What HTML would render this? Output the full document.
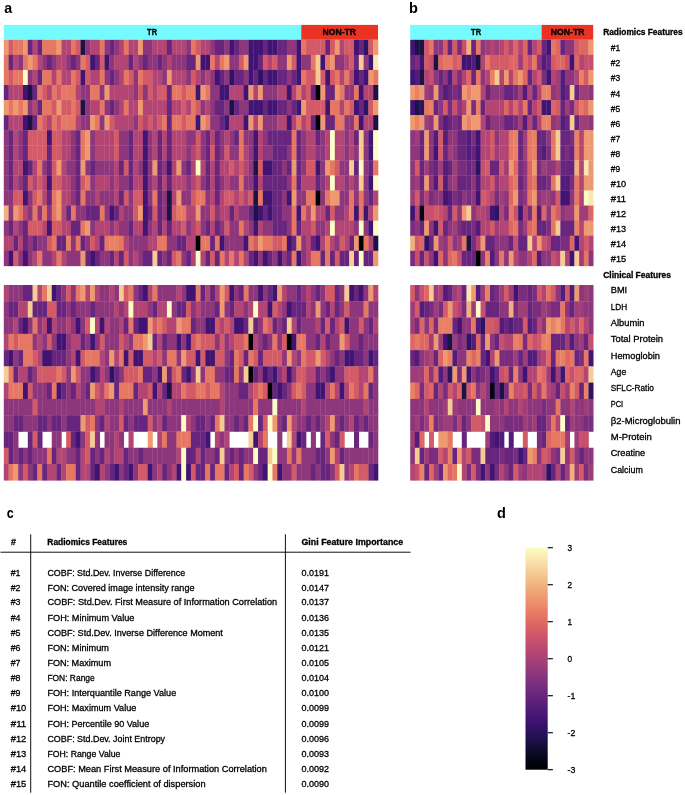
<!DOCTYPE html>
<html lang="en"><head><meta charset="utf-8"><title>Figure</title>
<style>
html,body{margin:0;padding:0;background:#fff;}
body{width:685px;height:795px;overflow:hidden;}
svg{display:block;}
svg text{font-family:"Liberation Sans",sans-serif;fill:#000;stroke:#000;stroke-width:0.3px;}
svg text.pl{stroke:none;}
</style></head><body>
<svg width="685" height="795" viewBox="0 0 685 795">
<rect width="685" height="795" fill="#fff"/>
<g id="heatmaps">
<rect x="3.8" y="24.9" width="297.44" height="14.9" fill="#75fbfd"/>
<rect x="301.24" y="24.9" width="76.76" height="14.9" fill="#ea3323"/>
<rect x="410.2" y="24.9" width="131.38" height="14.9" fill="#75fbfd"/>
<rect x="541.58" y="24.9" width="51.62" height="14.9" fill="#ea3323"/>
<g transform="translate(0 39.8)">
<rect x="3.8" width="5.1" height="15.37" fill="#ef9970"/>
<rect x="8.6" width="5.1" height="15.37" fill="#d35a67"/>
<rect x="13.39" width="5.1" height="15.37" fill="#e67863"/>
<rect x="18.19" width="5.1" height="15.37" fill="#e67863"/>
<rect x="22.99" width="5.1" height="15.37" fill="#ef9970"/>
<rect x="27.79" width="5.1" height="15.37" fill="#67257d"/>
<rect x="32.58" width="5.1" height="15.37" fill="#b34574"/>
<rect x="37.38" width="5.1" height="15.37" fill="#67257d"/>
<rect x="42.18" width="5.1" height="15.37" fill="#e67863"/>
<rect x="46.98" width="5.1" height="15.37" fill="#e67863"/>
<rect x="51.77" width="5.1" height="15.37" fill="#e67863"/>
<rect x="56.57" width="5.1" height="15.37" fill="#ef9970"/>
<rect x="61.37" width="5.1" height="15.37" fill="#b34574"/>
<rect x="66.17" width="5.1" height="15.37" fill="#b34574"/>
<rect x="70.96" width="5.1" height="15.37" fill="#e67863"/>
<rect x="75.76" width="5.1" height="15.37" fill="#d35a67"/>
<rect x="80.56" width="5.1" height="15.37" fill="#1c1246"/>
<rect x="85.36" width="5.1" height="15.37" fill="#8d367c"/>
<rect x="90.15" width="5.1" height="15.37" fill="#b34574"/>
<rect x="94.95" width="5.1" height="15.37" fill="#b34574"/>
<rect x="99.75" width="5.1" height="15.37" fill="#e67863"/>
<rect x="104.55" width="5.1" height="15.37" fill="#8d367c"/>
<rect x="109.34" width="5.1" height="15.37" fill="#67257d"/>
<rect x="114.14" width="5.1" height="15.37" fill="#8d367c"/>
<rect x="118.94" width="5.1" height="15.37" fill="#b34574"/>
<rect x="123.74" width="5.1" height="15.37" fill="#e67863"/>
<rect x="128.53" width="5.1" height="15.37" fill="#b34574"/>
<rect x="133.33" width="5.1" height="15.37" fill="#b34574"/>
<rect x="138.13" width="5.1" height="15.37" fill="#ef9970"/>
<rect x="142.93" width="5.1" height="15.37" fill="#8d367c"/>
<rect x="147.72" width="5.1" height="15.37" fill="#8d367c"/>
<rect x="152.52" width="5.1" height="15.37" fill="#b34574"/>
<rect x="157.32" width="5.1" height="15.37" fill="#b34574"/>
<rect x="162.12" width="5.1" height="15.37" fill="#b34574"/>
<rect x="166.91" width="5.1" height="15.37" fill="#67257d"/>
<rect x="171.71" width="5.1" height="15.37" fill="#b34574"/>
<rect x="176.51" width="5.1" height="15.37" fill="#b34574"/>
<rect x="181.31" width="5.1" height="15.37" fill="#b34574"/>
<rect x="186.1" width="5.1" height="15.37" fill="#8d367c"/>
<rect x="190.9" width="5.1" height="15.37" fill="#e67863"/>
<rect x="195.7" width="5.1" height="15.37" fill="#d35a67"/>
<rect x="200.49" width="5.1" height="15.37" fill="#b34574"/>
<rect x="205.29" width="5.1" height="15.37" fill="#b34574"/>
<rect x="210.09" width="5.1" height="15.37" fill="#8d367c"/>
<rect x="214.89" width="5.1" height="15.37" fill="#67257d"/>
<rect x="219.68" width="5.1" height="15.37" fill="#67257d"/>
<rect x="224.48" width="5.1" height="15.37" fill="#8d367c"/>
<rect x="229.28" width="5.1" height="15.37" fill="#411473"/>
<rect x="234.08" width="5.1" height="15.37" fill="#67257d"/>
<rect x="238.87" width="5.1" height="15.37" fill="#8d367c"/>
<rect x="243.67" width="5.1" height="15.37" fill="#8d367c"/>
<rect x="248.47" width="5.1" height="15.37" fill="#411473"/>
<rect x="253.27" width="5.1" height="15.37" fill="#411473"/>
<rect x="258.06" width="5.1" height="15.37" fill="#411473"/>
<rect x="262.86" width="5.1" height="15.37" fill="#67257d"/>
<rect x="267.66" width="5.1" height="15.37" fill="#411473"/>
<rect x="272.46" width="5.1" height="15.37" fill="#411473"/>
<rect x="277.25" width="5.1" height="15.37" fill="#67257d"/>
<rect x="282.05" width="5.1" height="15.37" fill="#67257d"/>
<rect x="286.85" width="5.1" height="15.37" fill="#8d367c"/>
<rect x="291.65" width="5.1" height="15.37" fill="#8d367c"/>
<rect x="296.44" width="5.1" height="15.37" fill="#411473"/>
<rect x="301.24" width="5.1" height="15.37" fill="#e67863"/>
<rect x="306.04" width="5.1" height="15.37" fill="#d35a67"/>
<rect x="310.84" width="5.1" height="15.37" fill="#d35a67"/>
<rect x="315.63" width="5.1" height="15.37" fill="#d35a67"/>
<rect x="320.43" width="5.1" height="15.37" fill="#d35a67"/>
<rect x="325.23" width="5.1" height="15.37" fill="#67257d"/>
<rect x="330.03" width="5.1" height="15.37" fill="#d35a67"/>
<rect x="334.82" width="5.1" height="15.37" fill="#ef9970"/>
<rect x="339.62" width="5.1" height="15.37" fill="#b34574"/>
<rect x="344.42" width="5.1" height="15.37" fill="#d35a67"/>
<rect x="349.22" width="5.1" height="15.37" fill="#d35a67"/>
<rect x="354.01" width="5.1" height="15.37" fill="#411473"/>
<rect x="358.81" width="5.1" height="15.37" fill="#67257d"/>
<rect x="363.61" width="5.1" height="15.37" fill="#2e1263"/>
<rect x="368.41" width="5.1" height="15.37" fill="#d35a67"/>
<rect x="373.2" width="5.1" height="15.37" fill="#ef9970"/>
</g>
<g transform="translate(0 54.87)">
<rect x="3.8" width="5.1" height="15.37" fill="#e67863"/>
<rect x="8.6" width="5.1" height="15.37" fill="#67257d"/>
<rect x="13.39" width="5.1" height="15.37" fill="#b34574"/>
<rect x="18.19" width="5.1" height="15.37" fill="#8d367c"/>
<rect x="22.99" width="5.1" height="15.37" fill="#e67863"/>
<rect x="27.79" width="5.1" height="15.37" fill="#ef9970"/>
<rect x="32.58" width="5.1" height="15.37" fill="#e67863"/>
<rect x="37.38" width="5.1" height="15.37" fill="#b34574"/>
<rect x="42.18" width="5.1" height="15.37" fill="#8d367c"/>
<rect x="46.98" width="5.1" height="15.37" fill="#67257d"/>
<rect x="51.77" width="5.1" height="15.37" fill="#8d367c"/>
<rect x="56.57" width="5.1" height="15.37" fill="#b34574"/>
<rect x="61.37" width="5.1" height="15.37" fill="#b34574"/>
<rect x="66.17" width="5.1" height="15.37" fill="#8d367c"/>
<rect x="70.96" width="5.1" height="15.37" fill="#67257d"/>
<rect x="75.76" width="5.1" height="15.37" fill="#8d367c"/>
<rect x="80.56" width="5.1" height="15.37" fill="#e67863"/>
<rect x="85.36" width="5.1" height="15.37" fill="#d35a67"/>
<rect x="90.15" width="5.1" height="15.37" fill="#411473"/>
<rect x="94.95" width="5.1" height="15.37" fill="#67257d"/>
<rect x="99.75" width="5.1" height="15.37" fill="#d35a67"/>
<rect x="104.55" width="5.1" height="15.37" fill="#411473"/>
<rect x="109.34" width="5.1" height="15.37" fill="#8d367c"/>
<rect x="114.14" width="5.1" height="15.37" fill="#b34574"/>
<rect x="118.94" width="5.1" height="15.37" fill="#b34574"/>
<rect x="123.74" width="5.1" height="15.37" fill="#b34574"/>
<rect x="128.53" width="5.1" height="15.37" fill="#67257d"/>
<rect x="133.33" width="5.1" height="15.37" fill="#b34574"/>
<rect x="138.13" width="5.1" height="15.37" fill="#8d367c"/>
<rect x="142.93" width="5.1" height="15.37" fill="#67257d"/>
<rect x="147.72" width="5.1" height="15.37" fill="#8d367c"/>
<rect x="152.52" width="5.1" height="15.37" fill="#8d367c"/>
<rect x="157.32" width="5.1" height="15.37" fill="#67257d"/>
<rect x="162.12" width="5.1" height="15.37" fill="#8d367c"/>
<rect x="166.91" width="5.1" height="15.37" fill="#b34574"/>
<rect x="171.71" width="5.1" height="15.37" fill="#8d367c"/>
<rect x="176.51" width="5.1" height="15.37" fill="#8d367c"/>
<rect x="181.31" width="5.1" height="15.37" fill="#8d367c"/>
<rect x="186.1" width="5.1" height="15.37" fill="#67257d"/>
<rect x="190.9" width="5.1" height="15.37" fill="#67257d"/>
<rect x="195.7" width="5.1" height="15.37" fill="#ef9970"/>
<rect x="200.49" width="5.1" height="15.37" fill="#411473"/>
<rect x="205.29" width="5.1" height="15.37" fill="#411473"/>
<rect x="210.09" width="5.1" height="15.37" fill="#e67863"/>
<rect x="214.89" width="5.1" height="15.37" fill="#b34574"/>
<rect x="219.68" width="5.1" height="15.37" fill="#e67863"/>
<rect x="224.48" width="5.1" height="15.37" fill="#ef9970"/>
<rect x="229.28" width="5.1" height="15.37" fill="#8d367c"/>
<rect x="234.08" width="5.1" height="15.37" fill="#8d367c"/>
<rect x="238.87" width="5.1" height="15.37" fill="#d35a67"/>
<rect x="243.67" width="5.1" height="15.37" fill="#ef9970"/>
<rect x="248.47" width="5.1" height="15.37" fill="#411473"/>
<rect x="253.27" width="5.1" height="15.37" fill="#411473"/>
<rect x="258.06" width="5.1" height="15.37" fill="#67257d"/>
<rect x="262.86" width="5.1" height="15.37" fill="#d35a67"/>
<rect x="267.66" width="5.1" height="15.37" fill="#b34574"/>
<rect x="272.46" width="5.1" height="15.37" fill="#d35a67"/>
<rect x="277.25" width="5.1" height="15.37" fill="#8d367c"/>
<rect x="282.05" width="5.1" height="15.37" fill="#8d367c"/>
<rect x="286.85" width="5.1" height="15.37" fill="#ef9970"/>
<rect x="291.65" width="5.1" height="15.37" fill="#d35a67"/>
<rect x="296.44" width="5.1" height="15.37" fill="#411473"/>
<rect x="301.24" width="5.1" height="15.37" fill="#8d367c"/>
<rect x="306.04" width="5.1" height="15.37" fill="#8d367c"/>
<rect x="310.84" width="5.1" height="15.37" fill="#e67863"/>
<rect x="315.63" width="5.1" height="15.37" fill="#f6cc95"/>
<rect x="320.43" width="5.1" height="15.37" fill="#411473"/>
<rect x="325.23" width="5.1" height="15.37" fill="#e67863"/>
<rect x="330.03" width="5.1" height="15.37" fill="#ef9970"/>
<rect x="334.82" width="5.1" height="15.37" fill="#8d367c"/>
<rect x="339.62" width="5.1" height="15.37" fill="#8d367c"/>
<rect x="344.42" width="5.1" height="15.37" fill="#b34574"/>
<rect x="349.22" width="5.1" height="15.37" fill="#d35a67"/>
<rect x="354.01" width="5.1" height="15.37" fill="#67257d"/>
<rect x="358.81" width="5.1" height="15.37" fill="#f6cc95"/>
<rect x="363.61" width="5.1" height="15.37" fill="#8d367c"/>
<rect x="368.41" width="5.1" height="15.37" fill="#411473"/>
<rect x="373.2" width="5.1" height="15.37" fill="#f9e8b0"/>
</g>
<g transform="translate(0 69.94)">
<rect x="3.8" width="5.1" height="15.37" fill="#e67863"/>
<rect x="8.6" width="5.1" height="15.37" fill="#d35a67"/>
<rect x="13.39" width="5.1" height="15.37" fill="#e67863"/>
<rect x="18.19" width="5.1" height="15.37" fill="#e67863"/>
<rect x="22.99" width="5.1" height="15.37" fill="#fcfdc6"/>
<rect x="27.79" width="5.1" height="15.37" fill="#8d367c"/>
<rect x="32.58" width="5.1" height="15.37" fill="#b34574"/>
<rect x="37.38" width="5.1" height="15.37" fill="#67257d"/>
<rect x="42.18" width="5.1" height="15.37" fill="#e67863"/>
<rect x="46.98" width="5.1" height="15.37" fill="#e67863"/>
<rect x="51.77" width="5.1" height="15.37" fill="#b34574"/>
<rect x="56.57" width="5.1" height="15.37" fill="#e67863"/>
<rect x="61.37" width="5.1" height="15.37" fill="#b34574"/>
<rect x="66.17" width="5.1" height="15.37" fill="#b34574"/>
<rect x="70.96" width="5.1" height="15.37" fill="#e67863"/>
<rect x="75.76" width="5.1" height="15.37" fill="#d35a67"/>
<rect x="80.56" width="5.1" height="15.37" fill="#411473"/>
<rect x="85.36" width="5.1" height="15.37" fill="#d35a67"/>
<rect x="90.15" width="5.1" height="15.37" fill="#b34574"/>
<rect x="94.95" width="5.1" height="15.37" fill="#b34574"/>
<rect x="99.75" width="5.1" height="15.37" fill="#e67863"/>
<rect x="104.55" width="5.1" height="15.37" fill="#8d367c"/>
<rect x="109.34" width="5.1" height="15.37" fill="#67257d"/>
<rect x="114.14" width="5.1" height="15.37" fill="#8d367c"/>
<rect x="118.94" width="5.1" height="15.37" fill="#b34574"/>
<rect x="123.74" width="5.1" height="15.37" fill="#e67863"/>
<rect x="128.53" width="5.1" height="15.37" fill="#d35a67"/>
<rect x="133.33" width="5.1" height="15.37" fill="#8d367c"/>
<rect x="138.13" width="5.1" height="15.37" fill="#e67863"/>
<rect x="142.93" width="5.1" height="15.37" fill="#d35a67"/>
<rect x="147.72" width="5.1" height="15.37" fill="#d35a67"/>
<rect x="152.52" width="5.1" height="15.37" fill="#b34574"/>
<rect x="157.32" width="5.1" height="15.37" fill="#b34574"/>
<rect x="162.12" width="5.1" height="15.37" fill="#8d367c"/>
<rect x="166.91" width="5.1" height="15.37" fill="#ef9970"/>
<rect x="171.71" width="5.1" height="15.37" fill="#b34574"/>
<rect x="176.51" width="5.1" height="15.37" fill="#b34574"/>
<rect x="181.31" width="5.1" height="15.37" fill="#b34574"/>
<rect x="186.1" width="5.1" height="15.37" fill="#8d367c"/>
<rect x="190.9" width="5.1" height="15.37" fill="#d35a67"/>
<rect x="195.7" width="5.1" height="15.37" fill="#b34574"/>
<rect x="200.49" width="5.1" height="15.37" fill="#8d367c"/>
<rect x="205.29" width="5.1" height="15.37" fill="#b34574"/>
<rect x="210.09" width="5.1" height="15.37" fill="#8d367c"/>
<rect x="214.89" width="5.1" height="15.37" fill="#411473"/>
<rect x="219.68" width="5.1" height="15.37" fill="#67257d"/>
<rect x="224.48" width="5.1" height="15.37" fill="#8d367c"/>
<rect x="229.28" width="5.1" height="15.37" fill="#2e1263"/>
<rect x="234.08" width="5.1" height="15.37" fill="#67257d"/>
<rect x="238.87" width="5.1" height="15.37" fill="#67257d"/>
<rect x="243.67" width="5.1" height="15.37" fill="#8d367c"/>
<rect x="248.47" width="5.1" height="15.37" fill="#411473"/>
<rect x="253.27" width="5.1" height="15.37" fill="#67257d"/>
<rect x="258.06" width="5.1" height="15.37" fill="#2e1263"/>
<rect x="262.86" width="5.1" height="15.37" fill="#67257d"/>
<rect x="267.66" width="5.1" height="15.37" fill="#411473"/>
<rect x="272.46" width="5.1" height="15.37" fill="#411473"/>
<rect x="277.25" width="5.1" height="15.37" fill="#67257d"/>
<rect x="282.05" width="5.1" height="15.37" fill="#67257d"/>
<rect x="286.85" width="5.1" height="15.37" fill="#8d367c"/>
<rect x="291.65" width="5.1" height="15.37" fill="#67257d"/>
<rect x="296.44" width="5.1" height="15.37" fill="#411473"/>
<rect x="301.24" width="5.1" height="15.37" fill="#e67863"/>
<rect x="306.04" width="5.1" height="15.37" fill="#d35a67"/>
<rect x="310.84" width="5.1" height="15.37" fill="#d35a67"/>
<rect x="315.63" width="5.1" height="15.37" fill="#f6cc95"/>
<rect x="320.43" width="5.1" height="15.37" fill="#d35a67"/>
<rect x="325.23" width="5.1" height="15.37" fill="#411473"/>
<rect x="330.03" width="5.1" height="15.37" fill="#d35a67"/>
<rect x="334.82" width="5.1" height="15.37" fill="#e67863"/>
<rect x="339.62" width="5.1" height="15.37" fill="#b34574"/>
<rect x="344.42" width="5.1" height="15.37" fill="#e67863"/>
<rect x="349.22" width="5.1" height="15.37" fill="#b34574"/>
<rect x="354.01" width="5.1" height="15.37" fill="#411473"/>
<rect x="358.81" width="5.1" height="15.37" fill="#67257d"/>
<rect x="363.61" width="5.1" height="15.37" fill="#411473"/>
<rect x="368.41" width="5.1" height="15.37" fill="#ef9970"/>
<rect x="373.2" width="5.1" height="15.37" fill="#e67863"/>
</g>
<g transform="translate(0 85.01)">
<rect x="3.8" width="5.1" height="15.37" fill="#67257d"/>
<rect x="8.6" width="5.1" height="15.37" fill="#b34574"/>
<rect x="13.39" width="5.1" height="15.37" fill="#b34574"/>
<rect x="18.19" width="5.1" height="15.37" fill="#b34574"/>
<rect x="22.99" width="5.1" height="15.37" fill="#411473"/>
<rect x="27.79" width="5.1" height="15.37" fill="#1c1246"/>
<rect x="32.58" width="5.1" height="15.37" fill="#67257d"/>
<rect x="37.38" width="5.1" height="15.37" fill="#e67863"/>
<rect x="42.18" width="5.1" height="15.37" fill="#d35a67"/>
<rect x="46.98" width="5.1" height="15.37" fill="#b34574"/>
<rect x="51.77" width="5.1" height="15.37" fill="#e67863"/>
<rect x="56.57" width="5.1" height="15.37" fill="#d35a67"/>
<rect x="61.37" width="5.1" height="15.37" fill="#e67863"/>
<rect x="66.17" width="5.1" height="15.37" fill="#e67863"/>
<rect x="70.96" width="5.1" height="15.37" fill="#e67863"/>
<rect x="75.76" width="5.1" height="15.37" fill="#b34574"/>
<rect x="80.56" width="5.1" height="15.37" fill="#8d367c"/>
<rect x="85.36" width="5.1" height="15.37" fill="#8d367c"/>
<rect x="90.15" width="5.1" height="15.37" fill="#e67863"/>
<rect x="94.95" width="5.1" height="15.37" fill="#e67863"/>
<rect x="99.75" width="5.1" height="15.37" fill="#8d367c"/>
<rect x="104.55" width="5.1" height="15.37" fill="#ef9970"/>
<rect x="109.34" width="5.1" height="15.37" fill="#b34574"/>
<rect x="114.14" width="5.1" height="15.37" fill="#b34574"/>
<rect x="118.94" width="5.1" height="15.37" fill="#b34574"/>
<rect x="123.74" width="5.1" height="15.37" fill="#b34574"/>
<rect x="128.53" width="5.1" height="15.37" fill="#b34574"/>
<rect x="133.33" width="5.1" height="15.37" fill="#8d367c"/>
<rect x="138.13" width="5.1" height="15.37" fill="#d35a67"/>
<rect x="142.93" width="5.1" height="15.37" fill="#8d367c"/>
<rect x="147.72" width="5.1" height="15.37" fill="#d35a67"/>
<rect x="152.52" width="5.1" height="15.37" fill="#b34574"/>
<rect x="157.32" width="5.1" height="15.37" fill="#d35a67"/>
<rect x="162.12" width="5.1" height="15.37" fill="#d35a67"/>
<rect x="166.91" width="5.1" height="15.37" fill="#67257d"/>
<rect x="171.71" width="5.1" height="15.37" fill="#e67863"/>
<rect x="176.51" width="5.1" height="15.37" fill="#e67863"/>
<rect x="181.31" width="5.1" height="15.37" fill="#d35a67"/>
<rect x="186.1" width="5.1" height="15.37" fill="#e67863"/>
<rect x="190.9" width="5.1" height="15.37" fill="#e67863"/>
<rect x="195.7" width="5.1" height="15.37" fill="#411473"/>
<rect x="200.49" width="5.1" height="15.37" fill="#ef9970"/>
<rect x="205.29" width="5.1" height="15.37" fill="#e67863"/>
<rect x="210.09" width="5.1" height="15.37" fill="#8d367c"/>
<rect x="214.89" width="5.1" height="15.37" fill="#8d367c"/>
<rect x="219.68" width="5.1" height="15.37" fill="#411473"/>
<rect x="224.48" width="5.1" height="15.37" fill="#411473"/>
<rect x="229.28" width="5.1" height="15.37" fill="#b34574"/>
<rect x="234.08" width="5.1" height="15.37" fill="#b34574"/>
<rect x="238.87" width="5.1" height="15.37" fill="#b34574"/>
<rect x="243.67" width="5.1" height="15.37" fill="#411473"/>
<rect x="248.47" width="5.1" height="15.37" fill="#ef9970"/>
<rect x="253.27" width="5.1" height="15.37" fill="#b34574"/>
<rect x="258.06" width="5.1" height="15.37" fill="#ef9970"/>
<rect x="262.86" width="5.1" height="15.37" fill="#8d367c"/>
<rect x="267.66" width="5.1" height="15.37" fill="#8d367c"/>
<rect x="272.46" width="5.1" height="15.37" fill="#8d367c"/>
<rect x="277.25" width="5.1" height="15.37" fill="#b34574"/>
<rect x="282.05" width="5.1" height="15.37" fill="#b34574"/>
<rect x="286.85" width="5.1" height="15.37" fill="#411473"/>
<rect x="291.65" width="5.1" height="15.37" fill="#b34574"/>
<rect x="296.44" width="5.1" height="15.37" fill="#e67863"/>
<rect x="301.24" width="5.1" height="15.37" fill="#b34574"/>
<rect x="306.04" width="5.1" height="15.37" fill="#d35a67"/>
<rect x="310.84" width="5.1" height="15.37" fill="#67257d"/>
<rect x="315.63" width="5.1" height="15.37" fill="#000003"/>
<rect x="320.43" width="5.1" height="15.37" fill="#ef9970"/>
<rect x="325.23" width="5.1" height="15.37" fill="#67257d"/>
<rect x="330.03" width="5.1" height="15.37" fill="#67257d"/>
<rect x="334.82" width="5.1" height="15.37" fill="#ef9970"/>
<rect x="339.62" width="5.1" height="15.37" fill="#e67863"/>
<rect x="344.42" width="5.1" height="15.37" fill="#8d367c"/>
<rect x="349.22" width="5.1" height="15.37" fill="#8d367c"/>
<rect x="354.01" width="5.1" height="15.37" fill="#e67863"/>
<rect x="358.81" width="5.1" height="15.37" fill="#411473"/>
<rect x="363.61" width="5.1" height="15.37" fill="#b34574"/>
<rect x="368.41" width="5.1" height="15.37" fill="#b34574"/>
<rect x="373.2" width="5.1" height="15.37" fill="#1c1246"/>
</g>
<g transform="translate(0 100.08)">
<rect x="3.8" width="5.1" height="15.37" fill="#ef9970"/>
<rect x="8.6" width="5.1" height="15.37" fill="#e67863"/>
<rect x="13.39" width="5.1" height="15.37" fill="#ef9970"/>
<rect x="18.19" width="5.1" height="15.37" fill="#e67863"/>
<rect x="22.99" width="5.1" height="15.37" fill="#ef9970"/>
<rect x="27.79" width="5.1" height="15.37" fill="#8d367c"/>
<rect x="32.58" width="5.1" height="15.37" fill="#b34574"/>
<rect x="37.38" width="5.1" height="15.37" fill="#67257d"/>
<rect x="42.18" width="5.1" height="15.37" fill="#e67863"/>
<rect x="46.98" width="5.1" height="15.37" fill="#e67863"/>
<rect x="51.77" width="5.1" height="15.37" fill="#d35a67"/>
<rect x="56.57" width="5.1" height="15.37" fill="#ef9970"/>
<rect x="61.37" width="5.1" height="15.37" fill="#d35a67"/>
<rect x="66.17" width="5.1" height="15.37" fill="#d35a67"/>
<rect x="70.96" width="5.1" height="15.37" fill="#e67863"/>
<rect x="75.76" width="5.1" height="15.37" fill="#d35a67"/>
<rect x="80.56" width="5.1" height="15.37" fill="#1c1246"/>
<rect x="85.36" width="5.1" height="15.37" fill="#8d367c"/>
<rect x="90.15" width="5.1" height="15.37" fill="#b34574"/>
<rect x="94.95" width="5.1" height="15.37" fill="#b34574"/>
<rect x="99.75" width="5.1" height="15.37" fill="#e67863"/>
<rect x="104.55" width="5.1" height="15.37" fill="#8d367c"/>
<rect x="109.34" width="5.1" height="15.37" fill="#67257d"/>
<rect x="114.14" width="5.1" height="15.37" fill="#8d367c"/>
<rect x="118.94" width="5.1" height="15.37" fill="#b34574"/>
<rect x="123.74" width="5.1" height="15.37" fill="#e67863"/>
<rect x="128.53" width="5.1" height="15.37" fill="#b34574"/>
<rect x="133.33" width="5.1" height="15.37" fill="#b34574"/>
<rect x="138.13" width="5.1" height="15.37" fill="#ef9970"/>
<rect x="142.93" width="5.1" height="15.37" fill="#b34574"/>
<rect x="147.72" width="5.1" height="15.37" fill="#b34574"/>
<rect x="152.52" width="5.1" height="15.37" fill="#b34574"/>
<rect x="157.32" width="5.1" height="15.37" fill="#b34574"/>
<rect x="162.12" width="5.1" height="15.37" fill="#b34574"/>
<rect x="166.91" width="5.1" height="15.37" fill="#67257d"/>
<rect x="171.71" width="5.1" height="15.37" fill="#b34574"/>
<rect x="176.51" width="5.1" height="15.37" fill="#b34574"/>
<rect x="181.31" width="5.1" height="15.37" fill="#d35a67"/>
<rect x="186.1" width="5.1" height="15.37" fill="#b34574"/>
<rect x="190.9" width="5.1" height="15.37" fill="#e67863"/>
<rect x="195.7" width="5.1" height="15.37" fill="#d35a67"/>
<rect x="200.49" width="5.1" height="15.37" fill="#8d367c"/>
<rect x="205.29" width="5.1" height="15.37" fill="#b34574"/>
<rect x="210.09" width="5.1" height="15.37" fill="#8d367c"/>
<rect x="214.89" width="5.1" height="15.37" fill="#67257d"/>
<rect x="219.68" width="5.1" height="15.37" fill="#67257d"/>
<rect x="224.48" width="5.1" height="15.37" fill="#8d367c"/>
<rect x="229.28" width="5.1" height="15.37" fill="#1c1246"/>
<rect x="234.08" width="5.1" height="15.37" fill="#67257d"/>
<rect x="238.87" width="5.1" height="15.37" fill="#8d367c"/>
<rect x="243.67" width="5.1" height="15.37" fill="#8d367c"/>
<rect x="248.47" width="5.1" height="15.37" fill="#411473"/>
<rect x="253.27" width="5.1" height="15.37" fill="#411473"/>
<rect x="258.06" width="5.1" height="15.37" fill="#411473"/>
<rect x="262.86" width="5.1" height="15.37" fill="#67257d"/>
<rect x="267.66" width="5.1" height="15.37" fill="#411473"/>
<rect x="272.46" width="5.1" height="15.37" fill="#411473"/>
<rect x="277.25" width="5.1" height="15.37" fill="#67257d"/>
<rect x="282.05" width="5.1" height="15.37" fill="#67257d"/>
<rect x="286.85" width="5.1" height="15.37" fill="#8d367c"/>
<rect x="291.65" width="5.1" height="15.37" fill="#67257d"/>
<rect x="296.44" width="5.1" height="15.37" fill="#411473"/>
<rect x="301.24" width="5.1" height="15.37" fill="#ef9970"/>
<rect x="306.04" width="5.1" height="15.37" fill="#d35a67"/>
<rect x="310.84" width="5.1" height="15.37" fill="#d35a67"/>
<rect x="315.63" width="5.1" height="15.37" fill="#d35a67"/>
<rect x="320.43" width="5.1" height="15.37" fill="#d35a67"/>
<rect x="325.23" width="5.1" height="15.37" fill="#411473"/>
<rect x="330.03" width="5.1" height="15.37" fill="#e67863"/>
<rect x="334.82" width="5.1" height="15.37" fill="#e67863"/>
<rect x="339.62" width="5.1" height="15.37" fill="#b34574"/>
<rect x="344.42" width="5.1" height="15.37" fill="#e67863"/>
<rect x="349.22" width="5.1" height="15.37" fill="#d35a67"/>
<rect x="354.01" width="5.1" height="15.37" fill="#411473"/>
<rect x="358.81" width="5.1" height="15.37" fill="#67257d"/>
<rect x="363.61" width="5.1" height="15.37" fill="#2e1263"/>
<rect x="368.41" width="5.1" height="15.37" fill="#d35a67"/>
<rect x="373.2" width="5.1" height="15.37" fill="#ef9970"/>
</g>
<g transform="translate(0 115.15)">
<rect x="3.8" width="5.1" height="15.37" fill="#67257d"/>
<rect x="8.6" width="5.1" height="15.37" fill="#b34574"/>
<rect x="13.39" width="5.1" height="15.37" fill="#b34574"/>
<rect x="18.19" width="5.1" height="15.37" fill="#b34574"/>
<rect x="22.99" width="5.1" height="15.37" fill="#411473"/>
<rect x="27.79" width="5.1" height="15.37" fill="#1c1246"/>
<rect x="32.58" width="5.1" height="15.37" fill="#67257d"/>
<rect x="37.38" width="5.1" height="15.37" fill="#e67863"/>
<rect x="42.18" width="5.1" height="15.37" fill="#d35a67"/>
<rect x="46.98" width="5.1" height="15.37" fill="#b34574"/>
<rect x="51.77" width="5.1" height="15.37" fill="#e67863"/>
<rect x="56.57" width="5.1" height="15.37" fill="#d35a67"/>
<rect x="61.37" width="5.1" height="15.37" fill="#e67863"/>
<rect x="66.17" width="5.1" height="15.37" fill="#e67863"/>
<rect x="70.96" width="5.1" height="15.37" fill="#e67863"/>
<rect x="75.76" width="5.1" height="15.37" fill="#b34574"/>
<rect x="80.56" width="5.1" height="15.37" fill="#8d367c"/>
<rect x="85.36" width="5.1" height="15.37" fill="#8d367c"/>
<rect x="90.15" width="5.1" height="15.37" fill="#ef9970"/>
<rect x="94.95" width="5.1" height="15.37" fill="#e67863"/>
<rect x="99.75" width="5.1" height="15.37" fill="#8d367c"/>
<rect x="104.55" width="5.1" height="15.37" fill="#ef9970"/>
<rect x="109.34" width="5.1" height="15.37" fill="#d35a67"/>
<rect x="114.14" width="5.1" height="15.37" fill="#b34574"/>
<rect x="118.94" width="5.1" height="15.37" fill="#b34574"/>
<rect x="123.74" width="5.1" height="15.37" fill="#b34574"/>
<rect x="128.53" width="5.1" height="15.37" fill="#b34574"/>
<rect x="133.33" width="5.1" height="15.37" fill="#8d367c"/>
<rect x="138.13" width="5.1" height="15.37" fill="#d35a67"/>
<rect x="142.93" width="5.1" height="15.37" fill="#b34574"/>
<rect x="147.72" width="5.1" height="15.37" fill="#d35a67"/>
<rect x="152.52" width="5.1" height="15.37" fill="#b34574"/>
<rect x="157.32" width="5.1" height="15.37" fill="#d35a67"/>
<rect x="162.12" width="5.1" height="15.37" fill="#e67863"/>
<rect x="166.91" width="5.1" height="15.37" fill="#67257d"/>
<rect x="171.71" width="5.1" height="15.37" fill="#e67863"/>
<rect x="176.51" width="5.1" height="15.37" fill="#e67863"/>
<rect x="181.31" width="5.1" height="15.37" fill="#d35a67"/>
<rect x="186.1" width="5.1" height="15.37" fill="#e67863"/>
<rect x="190.9" width="5.1" height="15.37" fill="#e67863"/>
<rect x="195.7" width="5.1" height="15.37" fill="#411473"/>
<rect x="200.49" width="5.1" height="15.37" fill="#ef9970"/>
<rect x="205.29" width="5.1" height="15.37" fill="#e67863"/>
<rect x="210.09" width="5.1" height="15.37" fill="#8d367c"/>
<rect x="214.89" width="5.1" height="15.37" fill="#8d367c"/>
<rect x="219.68" width="5.1" height="15.37" fill="#67257d"/>
<rect x="224.48" width="5.1" height="15.37" fill="#411473"/>
<rect x="229.28" width="5.1" height="15.37" fill="#b34574"/>
<rect x="234.08" width="5.1" height="15.37" fill="#b34574"/>
<rect x="238.87" width="5.1" height="15.37" fill="#b34574"/>
<rect x="243.67" width="5.1" height="15.37" fill="#411473"/>
<rect x="248.47" width="5.1" height="15.37" fill="#ef9970"/>
<rect x="253.27" width="5.1" height="15.37" fill="#b34574"/>
<rect x="258.06" width="5.1" height="15.37" fill="#ef9970"/>
<rect x="262.86" width="5.1" height="15.37" fill="#8d367c"/>
<rect x="267.66" width="5.1" height="15.37" fill="#8d367c"/>
<rect x="272.46" width="5.1" height="15.37" fill="#8d367c"/>
<rect x="277.25" width="5.1" height="15.37" fill="#b34574"/>
<rect x="282.05" width="5.1" height="15.37" fill="#b34574"/>
<rect x="286.85" width="5.1" height="15.37" fill="#411473"/>
<rect x="291.65" width="5.1" height="15.37" fill="#b34574"/>
<rect x="296.44" width="5.1" height="15.37" fill="#e67863"/>
<rect x="301.24" width="5.1" height="15.37" fill="#b34574"/>
<rect x="306.04" width="5.1" height="15.37" fill="#d35a67"/>
<rect x="310.84" width="5.1" height="15.37" fill="#67257d"/>
<rect x="315.63" width="5.1" height="15.37" fill="#000003"/>
<rect x="320.43" width="5.1" height="15.37" fill="#ef9970"/>
<rect x="325.23" width="5.1" height="15.37" fill="#67257d"/>
<rect x="330.03" width="5.1" height="15.37" fill="#67257d"/>
<rect x="334.82" width="5.1" height="15.37" fill="#e67863"/>
<rect x="339.62" width="5.1" height="15.37" fill="#e67863"/>
<rect x="344.42" width="5.1" height="15.37" fill="#8d367c"/>
<rect x="349.22" width="5.1" height="15.37" fill="#8d367c"/>
<rect x="354.01" width="5.1" height="15.37" fill="#e67863"/>
<rect x="358.81" width="5.1" height="15.37" fill="#411473"/>
<rect x="363.61" width="5.1" height="15.37" fill="#b34574"/>
<rect x="368.41" width="5.1" height="15.37" fill="#b34574"/>
<rect x="373.2" width="5.1" height="15.37" fill="#1c1246"/>
</g>
<g transform="translate(0 130.22)">
<rect x="3.8" width="5.1" height="15.37" fill="#8d367c"/>
<rect x="8.6" width="5.1" height="15.37" fill="#67257d"/>
<rect x="13.39" width="5.1" height="15.37" fill="#b34574"/>
<rect x="18.19" width="5.1" height="15.37" fill="#8d367c"/>
<rect x="22.99" width="5.1" height="15.37" fill="#67257d"/>
<rect x="27.79" width="5.1" height="15.37" fill="#d35a67"/>
<rect x="32.58" width="5.1" height="15.37" fill="#d35a67"/>
<rect x="37.38" width="5.1" height="15.37" fill="#d35a67"/>
<rect x="42.18" width="5.1" height="15.37" fill="#d35a67"/>
<rect x="46.98" width="5.1" height="15.37" fill="#411473"/>
<rect x="51.77" width="5.1" height="15.37" fill="#d35a67"/>
<rect x="56.57" width="5.1" height="15.37" fill="#d35a67"/>
<rect x="61.37" width="5.1" height="15.37" fill="#b34574"/>
<rect x="66.17" width="5.1" height="15.37" fill="#b34574"/>
<rect x="70.96" width="5.1" height="15.37" fill="#8d367c"/>
<rect x="75.76" width="5.1" height="15.37" fill="#67257d"/>
<rect x="80.56" width="5.1" height="15.37" fill="#e67863"/>
<rect x="85.36" width="5.1" height="15.37" fill="#ef9970"/>
<rect x="90.15" width="5.1" height="15.37" fill="#8d367c"/>
<rect x="94.95" width="5.1" height="15.37" fill="#b34574"/>
<rect x="99.75" width="5.1" height="15.37" fill="#b34574"/>
<rect x="104.55" width="5.1" height="15.37" fill="#b34574"/>
<rect x="109.34" width="5.1" height="15.37" fill="#b34574"/>
<rect x="114.14" width="5.1" height="15.37" fill="#d35a67"/>
<rect x="118.94" width="5.1" height="15.37" fill="#8d367c"/>
<rect x="123.74" width="5.1" height="15.37" fill="#8d367c"/>
<rect x="128.53" width="5.1" height="15.37" fill="#67257d"/>
<rect x="133.33" width="5.1" height="15.37" fill="#b34574"/>
<rect x="138.13" width="5.1" height="15.37" fill="#b34574"/>
<rect x="142.93" width="5.1" height="15.37" fill="#411473"/>
<rect x="147.72" width="5.1" height="15.37" fill="#8d367c"/>
<rect x="152.52" width="5.1" height="15.37" fill="#b34574"/>
<rect x="157.32" width="5.1" height="15.37" fill="#67257d"/>
<rect x="162.12" width="5.1" height="15.37" fill="#b34574"/>
<rect x="166.91" width="5.1" height="15.37" fill="#67257d"/>
<rect x="171.71" width="5.1" height="15.37" fill="#b34574"/>
<rect x="176.51" width="5.1" height="15.37" fill="#b34574"/>
<rect x="181.31" width="5.1" height="15.37" fill="#b34574"/>
<rect x="186.1" width="5.1" height="15.37" fill="#8d367c"/>
<rect x="190.9" width="5.1" height="15.37" fill="#8d367c"/>
<rect x="195.7" width="5.1" height="15.37" fill="#d35a67"/>
<rect x="200.49" width="5.1" height="15.37" fill="#8d367c"/>
<rect x="205.29" width="5.1" height="15.37" fill="#67257d"/>
<rect x="210.09" width="5.1" height="15.37" fill="#b34574"/>
<rect x="214.89" width="5.1" height="15.37" fill="#67257d"/>
<rect x="219.68" width="5.1" height="15.37" fill="#8d367c"/>
<rect x="224.48" width="5.1" height="15.37" fill="#b34574"/>
<rect x="229.28" width="5.1" height="15.37" fill="#8d367c"/>
<rect x="234.08" width="5.1" height="15.37" fill="#67257d"/>
<rect x="238.87" width="5.1" height="15.37" fill="#e67863"/>
<rect x="243.67" width="5.1" height="15.37" fill="#8d367c"/>
<rect x="248.47" width="5.1" height="15.37" fill="#8d367c"/>
<rect x="253.27" width="5.1" height="15.37" fill="#411473"/>
<rect x="258.06" width="5.1" height="15.37" fill="#b34574"/>
<rect x="262.86" width="5.1" height="15.37" fill="#8d367c"/>
<rect x="267.66" width="5.1" height="15.37" fill="#67257d"/>
<rect x="272.46" width="5.1" height="15.37" fill="#67257d"/>
<rect x="277.25" width="5.1" height="15.37" fill="#67257d"/>
<rect x="282.05" width="5.1" height="15.37" fill="#67257d"/>
<rect x="286.85" width="5.1" height="15.37" fill="#67257d"/>
<rect x="291.65" width="5.1" height="15.37" fill="#e67863"/>
<rect x="296.44" width="5.1" height="15.37" fill="#67257d"/>
<rect x="301.24" width="5.1" height="15.37" fill="#8d367c"/>
<rect x="306.04" width="5.1" height="15.37" fill="#b34574"/>
<rect x="310.84" width="5.1" height="15.37" fill="#b34574"/>
<rect x="315.63" width="5.1" height="15.37" fill="#67257d"/>
<rect x="320.43" width="5.1" height="15.37" fill="#8d367c"/>
<rect x="325.23" width="5.1" height="15.37" fill="#b34574"/>
<rect x="330.03" width="5.1" height="15.37" fill="#fcfdc6"/>
<rect x="334.82" width="5.1" height="15.37" fill="#b34574"/>
<rect x="339.62" width="5.1" height="15.37" fill="#b34574"/>
<rect x="344.42" width="5.1" height="15.37" fill="#8d367c"/>
<rect x="349.22" width="5.1" height="15.37" fill="#b34574"/>
<rect x="354.01" width="5.1" height="15.37" fill="#67257d"/>
<rect x="358.81" width="5.1" height="15.37" fill="#f6cc95"/>
<rect x="363.61" width="5.1" height="15.37" fill="#8d367c"/>
<rect x="368.41" width="5.1" height="15.37" fill="#411473"/>
<rect x="373.2" width="5.1" height="15.37" fill="#fcfdc6"/>
</g>
<g transform="translate(0 145.29)">
<rect x="3.8" width="5.1" height="15.37" fill="#8d367c"/>
<rect x="8.6" width="5.1" height="15.37" fill="#67257d"/>
<rect x="13.39" width="5.1" height="15.37" fill="#b34574"/>
<rect x="18.19" width="5.1" height="15.37" fill="#8d367c"/>
<rect x="22.99" width="5.1" height="15.37" fill="#67257d"/>
<rect x="27.79" width="5.1" height="15.37" fill="#d35a67"/>
<rect x="32.58" width="5.1" height="15.37" fill="#d35a67"/>
<rect x="37.38" width="5.1" height="15.37" fill="#d35a67"/>
<rect x="42.18" width="5.1" height="15.37" fill="#d35a67"/>
<rect x="46.98" width="5.1" height="15.37" fill="#67257d"/>
<rect x="51.77" width="5.1" height="15.37" fill="#d35a67"/>
<rect x="56.57" width="5.1" height="15.37" fill="#d35a67"/>
<rect x="61.37" width="5.1" height="15.37" fill="#b34574"/>
<rect x="66.17" width="5.1" height="15.37" fill="#b34574"/>
<rect x="70.96" width="5.1" height="15.37" fill="#8d367c"/>
<rect x="75.76" width="5.1" height="15.37" fill="#67257d"/>
<rect x="80.56" width="5.1" height="15.37" fill="#e67863"/>
<rect x="85.36" width="5.1" height="15.37" fill="#ef9970"/>
<rect x="90.15" width="5.1" height="15.37" fill="#8d367c"/>
<rect x="94.95" width="5.1" height="15.37" fill="#b34574"/>
<rect x="99.75" width="5.1" height="15.37" fill="#b34574"/>
<rect x="104.55" width="5.1" height="15.37" fill="#b34574"/>
<rect x="109.34" width="5.1" height="15.37" fill="#b34574"/>
<rect x="114.14" width="5.1" height="15.37" fill="#d35a67"/>
<rect x="118.94" width="5.1" height="15.37" fill="#8d367c"/>
<rect x="123.74" width="5.1" height="15.37" fill="#8d367c"/>
<rect x="128.53" width="5.1" height="15.37" fill="#67257d"/>
<rect x="133.33" width="5.1" height="15.37" fill="#b34574"/>
<rect x="138.13" width="5.1" height="15.37" fill="#b34574"/>
<rect x="142.93" width="5.1" height="15.37" fill="#411473"/>
<rect x="147.72" width="5.1" height="15.37" fill="#8d367c"/>
<rect x="152.52" width="5.1" height="15.37" fill="#b34574"/>
<rect x="157.32" width="5.1" height="15.37" fill="#67257d"/>
<rect x="162.12" width="5.1" height="15.37" fill="#b34574"/>
<rect x="166.91" width="5.1" height="15.37" fill="#67257d"/>
<rect x="171.71" width="5.1" height="15.37" fill="#b34574"/>
<rect x="176.51" width="5.1" height="15.37" fill="#b34574"/>
<rect x="181.31" width="5.1" height="15.37" fill="#b34574"/>
<rect x="186.1" width="5.1" height="15.37" fill="#8d367c"/>
<rect x="190.9" width="5.1" height="15.37" fill="#b34574"/>
<rect x="195.7" width="5.1" height="15.37" fill="#d35a67"/>
<rect x="200.49" width="5.1" height="15.37" fill="#8d367c"/>
<rect x="205.29" width="5.1" height="15.37" fill="#67257d"/>
<rect x="210.09" width="5.1" height="15.37" fill="#d35a67"/>
<rect x="214.89" width="5.1" height="15.37" fill="#67257d"/>
<rect x="219.68" width="5.1" height="15.37" fill="#8d367c"/>
<rect x="224.48" width="5.1" height="15.37" fill="#d35a67"/>
<rect x="229.28" width="5.1" height="15.37" fill="#8d367c"/>
<rect x="234.08" width="5.1" height="15.37" fill="#8d367c"/>
<rect x="238.87" width="5.1" height="15.37" fill="#e67863"/>
<rect x="243.67" width="5.1" height="15.37" fill="#b34574"/>
<rect x="248.47" width="5.1" height="15.37" fill="#8d367c"/>
<rect x="253.27" width="5.1" height="15.37" fill="#411473"/>
<rect x="258.06" width="5.1" height="15.37" fill="#b34574"/>
<rect x="262.86" width="5.1" height="15.37" fill="#8d367c"/>
<rect x="267.66" width="5.1" height="15.37" fill="#8d367c"/>
<rect x="272.46" width="5.1" height="15.37" fill="#67257d"/>
<rect x="277.25" width="5.1" height="15.37" fill="#67257d"/>
<rect x="282.05" width="5.1" height="15.37" fill="#67257d"/>
<rect x="286.85" width="5.1" height="15.37" fill="#8d367c"/>
<rect x="291.65" width="5.1" height="15.37" fill="#e67863"/>
<rect x="296.44" width="5.1" height="15.37" fill="#67257d"/>
<rect x="301.24" width="5.1" height="15.37" fill="#8d367c"/>
<rect x="306.04" width="5.1" height="15.37" fill="#b34574"/>
<rect x="310.84" width="5.1" height="15.37" fill="#b34574"/>
<rect x="315.63" width="5.1" height="15.37" fill="#8d367c"/>
<rect x="320.43" width="5.1" height="15.37" fill="#8d367c"/>
<rect x="325.23" width="5.1" height="15.37" fill="#b34574"/>
<rect x="330.03" width="5.1" height="15.37" fill="#fcfdc6"/>
<rect x="334.82" width="5.1" height="15.37" fill="#b34574"/>
<rect x="339.62" width="5.1" height="15.37" fill="#b34574"/>
<rect x="344.42" width="5.1" height="15.37" fill="#8d367c"/>
<rect x="349.22" width="5.1" height="15.37" fill="#b34574"/>
<rect x="354.01" width="5.1" height="15.37" fill="#8d367c"/>
<rect x="358.81" width="5.1" height="15.37" fill="#f6cc95"/>
<rect x="363.61" width="5.1" height="15.37" fill="#8d367c"/>
<rect x="368.41" width="5.1" height="15.37" fill="#411473"/>
<rect x="373.2" width="5.1" height="15.37" fill="#fcfdc6"/>
</g>
<g transform="translate(0 160.36)">
<rect x="3.8" width="5.1" height="15.37" fill="#8d367c"/>
<rect x="8.6" width="5.1" height="15.37" fill="#67257d"/>
<rect x="13.39" width="5.1" height="15.37" fill="#b34574"/>
<rect x="18.19" width="5.1" height="15.37" fill="#b34574"/>
<rect x="22.99" width="5.1" height="15.37" fill="#411473"/>
<rect x="27.79" width="5.1" height="15.37" fill="#67257d"/>
<rect x="32.58" width="5.1" height="15.37" fill="#b34574"/>
<rect x="37.38" width="5.1" height="15.37" fill="#e67863"/>
<rect x="42.18" width="5.1" height="15.37" fill="#8d367c"/>
<rect x="46.98" width="5.1" height="15.37" fill="#67257d"/>
<rect x="51.77" width="5.1" height="15.37" fill="#d35a67"/>
<rect x="56.57" width="5.1" height="15.37" fill="#ef9970"/>
<rect x="61.37" width="5.1" height="15.37" fill="#b34574"/>
<rect x="66.17" width="5.1" height="15.37" fill="#8d367c"/>
<rect x="70.96" width="5.1" height="15.37" fill="#8d367c"/>
<rect x="75.76" width="5.1" height="15.37" fill="#67257d"/>
<rect x="80.56" width="5.1" height="15.37" fill="#ef9970"/>
<rect x="85.36" width="5.1" height="15.37" fill="#8d367c"/>
<rect x="90.15" width="5.1" height="15.37" fill="#67257d"/>
<rect x="94.95" width="5.1" height="15.37" fill="#8d367c"/>
<rect x="99.75" width="5.1" height="15.37" fill="#8d367c"/>
<rect x="104.55" width="5.1" height="15.37" fill="#8d367c"/>
<rect x="109.34" width="5.1" height="15.37" fill="#8d367c"/>
<rect x="114.14" width="5.1" height="15.37" fill="#b34574"/>
<rect x="118.94" width="5.1" height="15.37" fill="#67257d"/>
<rect x="123.74" width="5.1" height="15.37" fill="#d35a67"/>
<rect x="128.53" width="5.1" height="15.37" fill="#67257d"/>
<rect x="133.33" width="5.1" height="15.37" fill="#b34574"/>
<rect x="138.13" width="5.1" height="15.37" fill="#8d367c"/>
<rect x="142.93" width="5.1" height="15.37" fill="#411473"/>
<rect x="147.72" width="5.1" height="15.37" fill="#8d367c"/>
<rect x="152.52" width="5.1" height="15.37" fill="#ef9970"/>
<rect x="157.32" width="5.1" height="15.37" fill="#67257d"/>
<rect x="162.12" width="5.1" height="15.37" fill="#8d367c"/>
<rect x="166.91" width="5.1" height="15.37" fill="#411473"/>
<rect x="171.71" width="5.1" height="15.37" fill="#b34574"/>
<rect x="176.51" width="5.1" height="15.37" fill="#ef9970"/>
<rect x="181.31" width="5.1" height="15.37" fill="#8d367c"/>
<rect x="186.1" width="5.1" height="15.37" fill="#67257d"/>
<rect x="190.9" width="5.1" height="15.37" fill="#b34574"/>
<rect x="195.7" width="5.1" height="15.37" fill="#fcfdc6"/>
<rect x="200.49" width="5.1" height="15.37" fill="#b34574"/>
<rect x="205.29" width="5.1" height="15.37" fill="#67257d"/>
<rect x="210.09" width="5.1" height="15.37" fill="#b34574"/>
<rect x="214.89" width="5.1" height="15.37" fill="#67257d"/>
<rect x="219.68" width="5.1" height="15.37" fill="#b34574"/>
<rect x="224.48" width="5.1" height="15.37" fill="#b34574"/>
<rect x="229.28" width="5.1" height="15.37" fill="#d35a67"/>
<rect x="234.08" width="5.1" height="15.37" fill="#b34574"/>
<rect x="238.87" width="5.1" height="15.37" fill="#d35a67"/>
<rect x="243.67" width="5.1" height="15.37" fill="#b34574"/>
<rect x="248.47" width="5.1" height="15.37" fill="#8d367c"/>
<rect x="253.27" width="5.1" height="15.37" fill="#1c1246"/>
<rect x="258.06" width="5.1" height="15.37" fill="#d35a67"/>
<rect x="262.86" width="5.1" height="15.37" fill="#411473"/>
<rect x="267.66" width="5.1" height="15.37" fill="#411473"/>
<rect x="272.46" width="5.1" height="15.37" fill="#67257d"/>
<rect x="277.25" width="5.1" height="15.37" fill="#67257d"/>
<rect x="282.05" width="5.1" height="15.37" fill="#8d367c"/>
<rect x="286.85" width="5.1" height="15.37" fill="#67257d"/>
<rect x="291.65" width="5.1" height="15.37" fill="#ef9970"/>
<rect x="296.44" width="5.1" height="15.37" fill="#67257d"/>
<rect x="301.24" width="5.1" height="15.37" fill="#8d367c"/>
<rect x="306.04" width="5.1" height="15.37" fill="#d35a67"/>
<rect x="310.84" width="5.1" height="15.37" fill="#d35a67"/>
<rect x="315.63" width="5.1" height="15.37" fill="#411473"/>
<rect x="320.43" width="5.1" height="15.37" fill="#8d367c"/>
<rect x="325.23" width="5.1" height="15.37" fill="#ef9970"/>
<rect x="330.03" width="5.1" height="15.37" fill="#e67863"/>
<rect x="334.82" width="5.1" height="15.37" fill="#d35a67"/>
<rect x="339.62" width="5.1" height="15.37" fill="#8d367c"/>
<rect x="344.42" width="5.1" height="15.37" fill="#8d367c"/>
<rect x="349.22" width="5.1" height="15.37" fill="#f6cc95"/>
<rect x="354.01" width="5.1" height="15.37" fill="#67257d"/>
<rect x="358.81" width="5.1" height="15.37" fill="#fcfdc6"/>
<rect x="363.61" width="5.1" height="15.37" fill="#8d367c"/>
<rect x="368.41" width="5.1" height="15.37" fill="#67257d"/>
<rect x="373.2" width="5.1" height="15.37" fill="#e67863"/>
</g>
<g transform="translate(0 175.43)">
<rect x="3.8" width="5.1" height="15.37" fill="#8d367c"/>
<rect x="8.6" width="5.1" height="15.37" fill="#67257d"/>
<rect x="13.39" width="5.1" height="15.37" fill="#b34574"/>
<rect x="18.19" width="5.1" height="15.37" fill="#8d367c"/>
<rect x="22.99" width="5.1" height="15.37" fill="#67257d"/>
<rect x="27.79" width="5.1" height="15.37" fill="#d35a67"/>
<rect x="32.58" width="5.1" height="15.37" fill="#b34574"/>
<rect x="37.38" width="5.1" height="15.37" fill="#d35a67"/>
<rect x="42.18" width="5.1" height="15.37" fill="#b34574"/>
<rect x="46.98" width="5.1" height="15.37" fill="#411473"/>
<rect x="51.77" width="5.1" height="15.37" fill="#d35a67"/>
<rect x="56.57" width="5.1" height="15.37" fill="#d35a67"/>
<rect x="61.37" width="5.1" height="15.37" fill="#b34574"/>
<rect x="66.17" width="5.1" height="15.37" fill="#b34574"/>
<rect x="70.96" width="5.1" height="15.37" fill="#8d367c"/>
<rect x="75.76" width="5.1" height="15.37" fill="#67257d"/>
<rect x="80.56" width="5.1" height="15.37" fill="#d35a67"/>
<rect x="85.36" width="5.1" height="15.37" fill="#e67863"/>
<rect x="90.15" width="5.1" height="15.37" fill="#8d367c"/>
<rect x="94.95" width="5.1" height="15.37" fill="#b34574"/>
<rect x="99.75" width="5.1" height="15.37" fill="#b34574"/>
<rect x="104.55" width="5.1" height="15.37" fill="#b34574"/>
<rect x="109.34" width="5.1" height="15.37" fill="#8d367c"/>
<rect x="114.14" width="5.1" height="15.37" fill="#b34574"/>
<rect x="118.94" width="5.1" height="15.37" fill="#8d367c"/>
<rect x="123.74" width="5.1" height="15.37" fill="#8d367c"/>
<rect x="128.53" width="5.1" height="15.37" fill="#67257d"/>
<rect x="133.33" width="5.1" height="15.37" fill="#b34574"/>
<rect x="138.13" width="5.1" height="15.37" fill="#b34574"/>
<rect x="142.93" width="5.1" height="15.37" fill="#411473"/>
<rect x="147.72" width="5.1" height="15.37" fill="#8d367c"/>
<rect x="152.52" width="5.1" height="15.37" fill="#b34574"/>
<rect x="157.32" width="5.1" height="15.37" fill="#67257d"/>
<rect x="162.12" width="5.1" height="15.37" fill="#b34574"/>
<rect x="166.91" width="5.1" height="15.37" fill="#67257d"/>
<rect x="171.71" width="5.1" height="15.37" fill="#b34574"/>
<rect x="176.51" width="5.1" height="15.37" fill="#b34574"/>
<rect x="181.31" width="5.1" height="15.37" fill="#b34574"/>
<rect x="186.1" width="5.1" height="15.37" fill="#8d367c"/>
<rect x="190.9" width="5.1" height="15.37" fill="#b34574"/>
<rect x="195.7" width="5.1" height="15.37" fill="#d35a67"/>
<rect x="200.49" width="5.1" height="15.37" fill="#8d367c"/>
<rect x="205.29" width="5.1" height="15.37" fill="#67257d"/>
<rect x="210.09" width="5.1" height="15.37" fill="#b34574"/>
<rect x="214.89" width="5.1" height="15.37" fill="#67257d"/>
<rect x="219.68" width="5.1" height="15.37" fill="#8d367c"/>
<rect x="224.48" width="5.1" height="15.37" fill="#b34574"/>
<rect x="229.28" width="5.1" height="15.37" fill="#8d367c"/>
<rect x="234.08" width="5.1" height="15.37" fill="#8d367c"/>
<rect x="238.87" width="5.1" height="15.37" fill="#e67863"/>
<rect x="243.67" width="5.1" height="15.37" fill="#8d367c"/>
<rect x="248.47" width="5.1" height="15.37" fill="#8d367c"/>
<rect x="253.27" width="5.1" height="15.37" fill="#411473"/>
<rect x="258.06" width="5.1" height="15.37" fill="#b34574"/>
<rect x="262.86" width="5.1" height="15.37" fill="#67257d"/>
<rect x="267.66" width="5.1" height="15.37" fill="#67257d"/>
<rect x="272.46" width="5.1" height="15.37" fill="#67257d"/>
<rect x="277.25" width="5.1" height="15.37" fill="#67257d"/>
<rect x="282.05" width="5.1" height="15.37" fill="#67257d"/>
<rect x="286.85" width="5.1" height="15.37" fill="#8d367c"/>
<rect x="291.65" width="5.1" height="15.37" fill="#e67863"/>
<rect x="296.44" width="5.1" height="15.37" fill="#67257d"/>
<rect x="301.24" width="5.1" height="15.37" fill="#b34574"/>
<rect x="306.04" width="5.1" height="15.37" fill="#b34574"/>
<rect x="310.84" width="5.1" height="15.37" fill="#b34574"/>
<rect x="315.63" width="5.1" height="15.37" fill="#67257d"/>
<rect x="320.43" width="5.1" height="15.37" fill="#8d367c"/>
<rect x="325.23" width="5.1" height="15.37" fill="#b34574"/>
<rect x="330.03" width="5.1" height="15.37" fill="#fcfdc6"/>
<rect x="334.82" width="5.1" height="15.37" fill="#b34574"/>
<rect x="339.62" width="5.1" height="15.37" fill="#b34574"/>
<rect x="344.42" width="5.1" height="15.37" fill="#8d367c"/>
<rect x="349.22" width="5.1" height="15.37" fill="#b34574"/>
<rect x="354.01" width="5.1" height="15.37" fill="#8d367c"/>
<rect x="358.81" width="5.1" height="15.37" fill="#f6cc95"/>
<rect x="363.61" width="5.1" height="15.37" fill="#8d367c"/>
<rect x="368.41" width="5.1" height="15.37" fill="#411473"/>
<rect x="373.2" width="5.1" height="15.37" fill="#fcfdc6"/>
</g>
<g transform="translate(0 190.5)">
<rect x="3.8" width="5.1" height="15.37" fill="#8d367c"/>
<rect x="8.6" width="5.1" height="15.37" fill="#8d367c"/>
<rect x="13.39" width="5.1" height="15.37" fill="#d35a67"/>
<rect x="18.19" width="5.1" height="15.37" fill="#d35a67"/>
<rect x="22.99" width="5.1" height="15.37" fill="#411473"/>
<rect x="27.79" width="5.1" height="15.37" fill="#8d367c"/>
<rect x="32.58" width="5.1" height="15.37" fill="#d35a67"/>
<rect x="37.38" width="5.1" height="15.37" fill="#e67863"/>
<rect x="42.18" width="5.1" height="15.37" fill="#b34574"/>
<rect x="46.98" width="5.1" height="15.37" fill="#67257d"/>
<rect x="51.77" width="5.1" height="15.37" fill="#e67863"/>
<rect x="56.57" width="5.1" height="15.37" fill="#ef9970"/>
<rect x="61.37" width="5.1" height="15.37" fill="#b34574"/>
<rect x="66.17" width="5.1" height="15.37" fill="#b34574"/>
<rect x="70.96" width="5.1" height="15.37" fill="#8d367c"/>
<rect x="75.76" width="5.1" height="15.37" fill="#67257d"/>
<rect x="80.56" width="5.1" height="15.37" fill="#e67863"/>
<rect x="85.36" width="5.1" height="15.37" fill="#8d367c"/>
<rect x="90.15" width="5.1" height="15.37" fill="#8d367c"/>
<rect x="94.95" width="5.1" height="15.37" fill="#b34574"/>
<rect x="99.75" width="5.1" height="15.37" fill="#8d367c"/>
<rect x="104.55" width="5.1" height="15.37" fill="#8d367c"/>
<rect x="109.34" width="5.1" height="15.37" fill="#8d367c"/>
<rect x="114.14" width="5.1" height="15.37" fill="#b34574"/>
<rect x="118.94" width="5.1" height="15.37" fill="#67257d"/>
<rect x="123.74" width="5.1" height="15.37" fill="#d35a67"/>
<rect x="128.53" width="5.1" height="15.37" fill="#8d367c"/>
<rect x="133.33" width="5.1" height="15.37" fill="#d35a67"/>
<rect x="138.13" width="5.1" height="15.37" fill="#d35a67"/>
<rect x="142.93" width="5.1" height="15.37" fill="#411473"/>
<rect x="147.72" width="5.1" height="15.37" fill="#8d367c"/>
<rect x="152.52" width="5.1" height="15.37" fill="#e67863"/>
<rect x="157.32" width="5.1" height="15.37" fill="#67257d"/>
<rect x="162.12" width="5.1" height="15.37" fill="#8d367c"/>
<rect x="166.91" width="5.1" height="15.37" fill="#1c1246"/>
<rect x="171.71" width="5.1" height="15.37" fill="#b34574"/>
<rect x="176.51" width="5.1" height="15.37" fill="#ef9970"/>
<rect x="181.31" width="5.1" height="15.37" fill="#8d367c"/>
<rect x="186.1" width="5.1" height="15.37" fill="#8d367c"/>
<rect x="190.9" width="5.1" height="15.37" fill="#d35a67"/>
<rect x="195.7" width="5.1" height="15.37" fill="#e67863"/>
<rect x="200.49" width="5.1" height="15.37" fill="#e67863"/>
<rect x="205.29" width="5.1" height="15.37" fill="#8d367c"/>
<rect x="210.09" width="5.1" height="15.37" fill="#b34574"/>
<rect x="214.89" width="5.1" height="15.37" fill="#67257d"/>
<rect x="219.68" width="5.1" height="15.37" fill="#b34574"/>
<rect x="224.48" width="5.1" height="15.37" fill="#d35a67"/>
<rect x="229.28" width="5.1" height="15.37" fill="#d35a67"/>
<rect x="234.08" width="5.1" height="15.37" fill="#b34574"/>
<rect x="238.87" width="5.1" height="15.37" fill="#d35a67"/>
<rect x="243.67" width="5.1" height="15.37" fill="#b34574"/>
<rect x="248.47" width="5.1" height="15.37" fill="#d35a67"/>
<rect x="253.27" width="5.1" height="15.37" fill="#1c1246"/>
<rect x="258.06" width="5.1" height="15.37" fill="#e67863"/>
<rect x="262.86" width="5.1" height="15.37" fill="#411473"/>
<rect x="267.66" width="5.1" height="15.37" fill="#411473"/>
<rect x="272.46" width="5.1" height="15.37" fill="#67257d"/>
<rect x="277.25" width="5.1" height="15.37" fill="#67257d"/>
<rect x="282.05" width="5.1" height="15.37" fill="#8d367c"/>
<rect x="286.85" width="5.1" height="15.37" fill="#411473"/>
<rect x="291.65" width="5.1" height="15.37" fill="#ef9970"/>
<rect x="296.44" width="5.1" height="15.37" fill="#8d367c"/>
<rect x="301.24" width="5.1" height="15.37" fill="#8d367c"/>
<rect x="306.04" width="5.1" height="15.37" fill="#e67863"/>
<rect x="310.84" width="5.1" height="15.37" fill="#e67863"/>
<rect x="315.63" width="5.1" height="15.37" fill="#000003"/>
<rect x="320.43" width="5.1" height="15.37" fill="#8d367c"/>
<rect x="325.23" width="5.1" height="15.37" fill="#e67863"/>
<rect x="330.03" width="5.1" height="15.37" fill="#ef9970"/>
<rect x="334.82" width="5.1" height="15.37" fill="#ef9970"/>
<rect x="339.62" width="5.1" height="15.37" fill="#8d367c"/>
<rect x="344.42" width="5.1" height="15.37" fill="#8d367c"/>
<rect x="349.22" width="5.1" height="15.37" fill="#e67863"/>
<rect x="354.01" width="5.1" height="15.37" fill="#8d367c"/>
<rect x="358.81" width="5.1" height="15.37" fill="#e67863"/>
<rect x="363.61" width="5.1" height="15.37" fill="#8d367c"/>
<rect x="368.41" width="5.1" height="15.37" fill="#67257d"/>
<rect x="373.2" width="5.1" height="15.37" fill="#b34574"/>
</g>
<g transform="translate(0 205.57)">
<rect x="3.8" width="5.1" height="15.37" fill="#f2b07f"/>
<rect x="8.6" width="5.1" height="15.37" fill="#8d367c"/>
<rect x="13.39" width="5.1" height="15.37" fill="#ef9970"/>
<rect x="18.19" width="5.1" height="15.37" fill="#e67863"/>
<rect x="22.99" width="5.1" height="15.37" fill="#b34574"/>
<rect x="27.79" width="5.1" height="15.37" fill="#8d367c"/>
<rect x="32.58" width="5.1" height="15.37" fill="#e67863"/>
<rect x="37.38" width="5.1" height="15.37" fill="#8d367c"/>
<rect x="42.18" width="5.1" height="15.37" fill="#e67863"/>
<rect x="46.98" width="5.1" height="15.37" fill="#8d367c"/>
<rect x="51.77" width="5.1" height="15.37" fill="#e67863"/>
<rect x="56.57" width="5.1" height="15.37" fill="#ef9970"/>
<rect x="61.37" width="5.1" height="15.37" fill="#b34574"/>
<rect x="66.17" width="5.1" height="15.37" fill="#67257d"/>
<rect x="70.96" width="5.1" height="15.37" fill="#e67863"/>
<rect x="75.76" width="5.1" height="15.37" fill="#8d367c"/>
<rect x="80.56" width="5.1" height="15.37" fill="#8d367c"/>
<rect x="85.36" width="5.1" height="15.37" fill="#67257d"/>
<rect x="90.15" width="5.1" height="15.37" fill="#67257d"/>
<rect x="94.95" width="5.1" height="15.37" fill="#67257d"/>
<rect x="99.75" width="5.1" height="15.37" fill="#e67863"/>
<rect x="104.55" width="5.1" height="15.37" fill="#8d367c"/>
<rect x="109.34" width="5.1" height="15.37" fill="#411473"/>
<rect x="114.14" width="5.1" height="15.37" fill="#67257d"/>
<rect x="118.94" width="5.1" height="15.37" fill="#b34574"/>
<rect x="123.74" width="5.1" height="15.37" fill="#8d367c"/>
<rect x="128.53" width="5.1" height="15.37" fill="#8d367c"/>
<rect x="133.33" width="5.1" height="15.37" fill="#d35a67"/>
<rect x="138.13" width="5.1" height="15.37" fill="#ef9970"/>
<rect x="142.93" width="5.1" height="15.37" fill="#411473"/>
<rect x="147.72" width="5.1" height="15.37" fill="#67257d"/>
<rect x="152.52" width="5.1" height="15.37" fill="#d35a67"/>
<rect x="157.32" width="5.1" height="15.37" fill="#67257d"/>
<rect x="162.12" width="5.1" height="15.37" fill="#8d367c"/>
<rect x="166.91" width="5.1" height="15.37" fill="#1c1246"/>
<rect x="171.71" width="5.1" height="15.37" fill="#d35a67"/>
<rect x="176.51" width="5.1" height="15.37" fill="#e67863"/>
<rect x="181.31" width="5.1" height="15.37" fill="#e67863"/>
<rect x="186.1" width="5.1" height="15.37" fill="#b34574"/>
<rect x="190.9" width="5.1" height="15.37" fill="#b34574"/>
<rect x="195.7" width="5.1" height="15.37" fill="#ef9970"/>
<rect x="200.49" width="5.1" height="15.37" fill="#8d367c"/>
<rect x="205.29" width="5.1" height="15.37" fill="#8d367c"/>
<rect x="210.09" width="5.1" height="15.37" fill="#d35a67"/>
<rect x="214.89" width="5.1" height="15.37" fill="#8d367c"/>
<rect x="219.68" width="5.1" height="15.37" fill="#b34574"/>
<rect x="224.48" width="5.1" height="15.37" fill="#b34574"/>
<rect x="229.28" width="5.1" height="15.37" fill="#67257d"/>
<rect x="234.08" width="5.1" height="15.37" fill="#b34574"/>
<rect x="238.87" width="5.1" height="15.37" fill="#8d367c"/>
<rect x="243.67" width="5.1" height="15.37" fill="#8d367c"/>
<rect x="248.47" width="5.1" height="15.37" fill="#67257d"/>
<rect x="253.27" width="5.1" height="15.37" fill="#1c1246"/>
<rect x="258.06" width="5.1" height="15.37" fill="#411473"/>
<rect x="262.86" width="5.1" height="15.37" fill="#67257d"/>
<rect x="267.66" width="5.1" height="15.37" fill="#411473"/>
<rect x="272.46" width="5.1" height="15.37" fill="#67257d"/>
<rect x="277.25" width="5.1" height="15.37" fill="#67257d"/>
<rect x="282.05" width="5.1" height="15.37" fill="#8d367c"/>
<rect x="286.85" width="5.1" height="15.37" fill="#8d367c"/>
<rect x="291.65" width="5.1" height="15.37" fill="#e67863"/>
<rect x="296.44" width="5.1" height="15.37" fill="#411473"/>
<rect x="301.24" width="5.1" height="15.37" fill="#e67863"/>
<rect x="306.04" width="5.1" height="15.37" fill="#b34574"/>
<rect x="310.84" width="5.1" height="15.37" fill="#ef9970"/>
<rect x="315.63" width="5.1" height="15.37" fill="#b34574"/>
<rect x="320.43" width="5.1" height="15.37" fill="#b34574"/>
<rect x="325.23" width="5.1" height="15.37" fill="#67257d"/>
<rect x="330.03" width="5.1" height="15.37" fill="#d35a67"/>
<rect x="334.82" width="5.1" height="15.37" fill="#8d367c"/>
<rect x="339.62" width="5.1" height="15.37" fill="#8d367c"/>
<rect x="344.42" width="5.1" height="15.37" fill="#b34574"/>
<rect x="349.22" width="5.1" height="15.37" fill="#e67863"/>
<rect x="354.01" width="5.1" height="15.37" fill="#411473"/>
<rect x="358.81" width="5.1" height="15.37" fill="#e67863"/>
<rect x="363.61" width="5.1" height="15.37" fill="#411473"/>
<rect x="368.41" width="5.1" height="15.37" fill="#b34574"/>
<rect x="373.2" width="5.1" height="15.37" fill="#ef9970"/>
</g>
<g transform="translate(0 220.64)">
<rect x="3.8" width="5.1" height="15.37" fill="#8d367c"/>
<rect x="8.6" width="5.1" height="15.37" fill="#67257d"/>
<rect x="13.39" width="5.1" height="15.37" fill="#b34574"/>
<rect x="18.19" width="5.1" height="15.37" fill="#8d367c"/>
<rect x="22.99" width="5.1" height="15.37" fill="#67257d"/>
<rect x="27.79" width="5.1" height="15.37" fill="#d35a67"/>
<rect x="32.58" width="5.1" height="15.37" fill="#d35a67"/>
<rect x="37.38" width="5.1" height="15.37" fill="#d35a67"/>
<rect x="42.18" width="5.1" height="15.37" fill="#b34574"/>
<rect x="46.98" width="5.1" height="15.37" fill="#411473"/>
<rect x="51.77" width="5.1" height="15.37" fill="#d35a67"/>
<rect x="56.57" width="5.1" height="15.37" fill="#d35a67"/>
<rect x="61.37" width="5.1" height="15.37" fill="#b34574"/>
<rect x="66.17" width="5.1" height="15.37" fill="#b34574"/>
<rect x="70.96" width="5.1" height="15.37" fill="#67257d"/>
<rect x="75.76" width="5.1" height="15.37" fill="#67257d"/>
<rect x="80.56" width="5.1" height="15.37" fill="#e67863"/>
<rect x="85.36" width="5.1" height="15.37" fill="#ef9970"/>
<rect x="90.15" width="5.1" height="15.37" fill="#8d367c"/>
<rect x="94.95" width="5.1" height="15.37" fill="#b34574"/>
<rect x="99.75" width="5.1" height="15.37" fill="#b34574"/>
<rect x="104.55" width="5.1" height="15.37" fill="#b34574"/>
<rect x="109.34" width="5.1" height="15.37" fill="#8d367c"/>
<rect x="114.14" width="5.1" height="15.37" fill="#b34574"/>
<rect x="118.94" width="5.1" height="15.37" fill="#8d367c"/>
<rect x="123.74" width="5.1" height="15.37" fill="#8d367c"/>
<rect x="128.53" width="5.1" height="15.37" fill="#67257d"/>
<rect x="133.33" width="5.1" height="15.37" fill="#b34574"/>
<rect x="138.13" width="5.1" height="15.37" fill="#b34574"/>
<rect x="142.93" width="5.1" height="15.37" fill="#411473"/>
<rect x="147.72" width="5.1" height="15.37" fill="#8d367c"/>
<rect x="152.52" width="5.1" height="15.37" fill="#b34574"/>
<rect x="157.32" width="5.1" height="15.37" fill="#67257d"/>
<rect x="162.12" width="5.1" height="15.37" fill="#b34574"/>
<rect x="166.91" width="5.1" height="15.37" fill="#67257d"/>
<rect x="171.71" width="5.1" height="15.37" fill="#b34574"/>
<rect x="176.51" width="5.1" height="15.37" fill="#b34574"/>
<rect x="181.31" width="5.1" height="15.37" fill="#d35a67"/>
<rect x="186.1" width="5.1" height="15.37" fill="#8d367c"/>
<rect x="190.9" width="5.1" height="15.37" fill="#b34574"/>
<rect x="195.7" width="5.1" height="15.37" fill="#d35a67"/>
<rect x="200.49" width="5.1" height="15.37" fill="#8d367c"/>
<rect x="205.29" width="5.1" height="15.37" fill="#67257d"/>
<rect x="210.09" width="5.1" height="15.37" fill="#b34574"/>
<rect x="214.89" width="5.1" height="15.37" fill="#67257d"/>
<rect x="219.68" width="5.1" height="15.37" fill="#8d367c"/>
<rect x="224.48" width="5.1" height="15.37" fill="#d35a67"/>
<rect x="229.28" width="5.1" height="15.37" fill="#8d367c"/>
<rect x="234.08" width="5.1" height="15.37" fill="#8d367c"/>
<rect x="238.87" width="5.1" height="15.37" fill="#e67863"/>
<rect x="243.67" width="5.1" height="15.37" fill="#b34574"/>
<rect x="248.47" width="5.1" height="15.37" fill="#8d367c"/>
<rect x="253.27" width="5.1" height="15.37" fill="#411473"/>
<rect x="258.06" width="5.1" height="15.37" fill="#b34574"/>
<rect x="262.86" width="5.1" height="15.37" fill="#8d367c"/>
<rect x="267.66" width="5.1" height="15.37" fill="#8d367c"/>
<rect x="272.46" width="5.1" height="15.37" fill="#67257d"/>
<rect x="277.25" width="5.1" height="15.37" fill="#67257d"/>
<rect x="282.05" width="5.1" height="15.37" fill="#67257d"/>
<rect x="286.85" width="5.1" height="15.37" fill="#8d367c"/>
<rect x="291.65" width="5.1" height="15.37" fill="#e67863"/>
<rect x="296.44" width="5.1" height="15.37" fill="#67257d"/>
<rect x="301.24" width="5.1" height="15.37" fill="#b34574"/>
<rect x="306.04" width="5.1" height="15.37" fill="#b34574"/>
<rect x="310.84" width="5.1" height="15.37" fill="#d35a67"/>
<rect x="315.63" width="5.1" height="15.37" fill="#8d367c"/>
<rect x="320.43" width="5.1" height="15.37" fill="#8d367c"/>
<rect x="325.23" width="5.1" height="15.37" fill="#b34574"/>
<rect x="330.03" width="5.1" height="15.37" fill="#fcfdc6"/>
<rect x="334.82" width="5.1" height="15.37" fill="#b34574"/>
<rect x="339.62" width="5.1" height="15.37" fill="#b34574"/>
<rect x="344.42" width="5.1" height="15.37" fill="#b34574"/>
<rect x="349.22" width="5.1" height="15.37" fill="#b34574"/>
<rect x="354.01" width="5.1" height="15.37" fill="#8d367c"/>
<rect x="358.81" width="5.1" height="15.37" fill="#fcfdc6"/>
<rect x="363.61" width="5.1" height="15.37" fill="#8d367c"/>
<rect x="368.41" width="5.1" height="15.37" fill="#411473"/>
<rect x="373.2" width="5.1" height="15.37" fill="#fcfdc6"/>
</g>
<g transform="translate(0 235.71)">
<rect x="3.8" width="5.1" height="15.37" fill="#b34574"/>
<rect x="8.6" width="5.1" height="15.37" fill="#b34574"/>
<rect x="13.39" width="5.1" height="15.37" fill="#67257d"/>
<rect x="18.19" width="5.1" height="15.37" fill="#b34574"/>
<rect x="22.99" width="5.1" height="15.37" fill="#67257d"/>
<rect x="27.79" width="5.1" height="15.37" fill="#8d367c"/>
<rect x="32.58" width="5.1" height="15.37" fill="#67257d"/>
<rect x="37.38" width="5.1" height="15.37" fill="#8d367c"/>
<rect x="42.18" width="5.1" height="15.37" fill="#8d367c"/>
<rect x="46.98" width="5.1" height="15.37" fill="#d35a67"/>
<rect x="51.77" width="5.1" height="15.37" fill="#e67863"/>
<rect x="56.57" width="5.1" height="15.37" fill="#67257d"/>
<rect x="61.37" width="5.1" height="15.37" fill="#67257d"/>
<rect x="66.17" width="5.1" height="15.37" fill="#e98265"/>
<rect x="70.96" width="5.1" height="15.37" fill="#8d367c"/>
<rect x="75.76" width="5.1" height="15.37" fill="#e67863"/>
<rect x="80.56" width="5.1" height="15.37" fill="#67257d"/>
<rect x="85.36" width="5.1" height="15.37" fill="#8d367c"/>
<rect x="90.15" width="5.1" height="15.37" fill="#d35a67"/>
<rect x="94.95" width="5.1" height="15.37" fill="#b34574"/>
<rect x="99.75" width="5.1" height="15.37" fill="#67257d"/>
<rect x="104.55" width="5.1" height="15.37" fill="#e67863"/>
<rect x="109.34" width="5.1" height="15.37" fill="#e98265"/>
<rect x="114.14" width="5.1" height="15.37" fill="#e98265"/>
<rect x="118.94" width="5.1" height="15.37" fill="#e67863"/>
<rect x="123.74" width="5.1" height="15.37" fill="#b34574"/>
<rect x="128.53" width="5.1" height="15.37" fill="#8d367c"/>
<rect x="133.33" width="5.1" height="15.37" fill="#8d367c"/>
<rect x="138.13" width="5.1" height="15.37" fill="#8d367c"/>
<rect x="142.93" width="5.1" height="15.37" fill="#8d367c"/>
<rect x="147.72" width="5.1" height="15.37" fill="#b34574"/>
<rect x="152.52" width="5.1" height="15.37" fill="#b34574"/>
<rect x="157.32" width="5.1" height="15.37" fill="#e67863"/>
<rect x="162.12" width="5.1" height="15.37" fill="#e67863"/>
<rect x="166.91" width="5.1" height="15.37" fill="#8d367c"/>
<rect x="171.71" width="5.1" height="15.37" fill="#8d367c"/>
<rect x="176.51" width="5.1" height="15.37" fill="#67257d"/>
<rect x="181.31" width="5.1" height="15.37" fill="#67257d"/>
<rect x="186.1" width="5.1" height="15.37" fill="#b34574"/>
<rect x="190.9" width="5.1" height="15.37" fill="#b34574"/>
<rect x="195.7" width="5.1" height="15.37" fill="#000003"/>
<rect x="200.49" width="5.1" height="15.37" fill="#e67863"/>
<rect x="205.29" width="5.1" height="15.37" fill="#e67863"/>
<rect x="210.09" width="5.1" height="15.37" fill="#67257d"/>
<rect x="214.89" width="5.1" height="15.37" fill="#e67863"/>
<rect x="219.68" width="5.1" height="15.37" fill="#411473"/>
<rect x="224.48" width="5.1" height="15.37" fill="#8d367c"/>
<rect x="229.28" width="5.1" height="15.37" fill="#8d367c"/>
<rect x="234.08" width="5.1" height="15.37" fill="#8d367c"/>
<rect x="238.87" width="5.1" height="15.37" fill="#8d367c"/>
<rect x="243.67" width="5.1" height="15.37" fill="#411473"/>
<rect x="248.47" width="5.1" height="15.37" fill="#e67863"/>
<rect x="253.27" width="5.1" height="15.37" fill="#d35a67"/>
<rect x="258.06" width="5.1" height="15.37" fill="#ef9970"/>
<rect x="262.86" width="5.1" height="15.37" fill="#e67863"/>
<rect x="267.66" width="5.1" height="15.37" fill="#e67863"/>
<rect x="272.46" width="5.1" height="15.37" fill="#d35a67"/>
<rect x="277.25" width="5.1" height="15.37" fill="#d35a67"/>
<rect x="282.05" width="5.1" height="15.37" fill="#e67863"/>
<rect x="286.85" width="5.1" height="15.37" fill="#411473"/>
<rect x="291.65" width="5.1" height="15.37" fill="#67257d"/>
<rect x="296.44" width="5.1" height="15.37" fill="#ef9970"/>
<rect x="301.24" width="5.1" height="15.37" fill="#8d367c"/>
<rect x="306.04" width="5.1" height="15.37" fill="#b34574"/>
<rect x="310.84" width="5.1" height="15.37" fill="#67257d"/>
<rect x="315.63" width="5.1" height="15.37" fill="#411473"/>
<rect x="320.43" width="5.1" height="15.37" fill="#b34574"/>
<rect x="325.23" width="5.1" height="15.37" fill="#e67863"/>
<rect x="330.03" width="5.1" height="15.37" fill="#b34574"/>
<rect x="334.82" width="5.1" height="15.37" fill="#8d367c"/>
<rect x="339.62" width="5.1" height="15.37" fill="#d35a67"/>
<rect x="344.42" width="5.1" height="15.37" fill="#b34574"/>
<rect x="349.22" width="5.1" height="15.37" fill="#67257d"/>
<rect x="354.01" width="5.1" height="15.37" fill="#ef9970"/>
<rect x="358.81" width="5.1" height="15.37" fill="#000003"/>
<rect x="363.61" width="5.1" height="15.37" fill="#e67863"/>
<rect x="368.41" width="5.1" height="15.37" fill="#b34574"/>
<rect x="373.2" width="5.1" height="15.37" fill="#1c1246"/>
</g>
<g transform="translate(0 250.78)">
<rect x="3.8" width="5.1" height="15.37" fill="#8d367c"/>
<rect x="8.6" width="5.1" height="15.37" fill="#411473"/>
<rect x="13.39" width="5.1" height="15.37" fill="#d35a67"/>
<rect x="18.19" width="5.1" height="15.37" fill="#8d367c"/>
<rect x="22.99" width="5.1" height="15.37" fill="#411473"/>
<rect x="27.79" width="5.1" height="15.37" fill="#8d367c"/>
<rect x="32.58" width="5.1" height="15.37" fill="#b34574"/>
<rect x="37.38" width="5.1" height="15.37" fill="#e67863"/>
<rect x="42.18" width="5.1" height="15.37" fill="#8d367c"/>
<rect x="46.98" width="5.1" height="15.37" fill="#8d367c"/>
<rect x="51.77" width="5.1" height="15.37" fill="#b34574"/>
<rect x="56.57" width="5.1" height="15.37" fill="#e67863"/>
<rect x="61.37" width="5.1" height="15.37" fill="#b34574"/>
<rect x="66.17" width="5.1" height="15.37" fill="#8d367c"/>
<rect x="70.96" width="5.1" height="15.37" fill="#8d367c"/>
<rect x="75.76" width="5.1" height="15.37" fill="#8d367c"/>
<rect x="80.56" width="5.1" height="15.37" fill="#ef9970"/>
<rect x="85.36" width="5.1" height="15.37" fill="#67257d"/>
<rect x="90.15" width="5.1" height="15.37" fill="#411473"/>
<rect x="94.95" width="5.1" height="15.37" fill="#67257d"/>
<rect x="99.75" width="5.1" height="15.37" fill="#8d367c"/>
<rect x="104.55" width="5.1" height="15.37" fill="#8d367c"/>
<rect x="109.34" width="5.1" height="15.37" fill="#67257d"/>
<rect x="114.14" width="5.1" height="15.37" fill="#b34574"/>
<rect x="118.94" width="5.1" height="15.37" fill="#67257d"/>
<rect x="123.74" width="5.1" height="15.37" fill="#d35a67"/>
<rect x="128.53" width="5.1" height="15.37" fill="#8d367c"/>
<rect x="133.33" width="5.1" height="15.37" fill="#b34574"/>
<rect x="138.13" width="5.1" height="15.37" fill="#8d367c"/>
<rect x="142.93" width="5.1" height="15.37" fill="#67257d"/>
<rect x="147.72" width="5.1" height="15.37" fill="#67257d"/>
<rect x="152.52" width="5.1" height="15.37" fill="#f6cc95"/>
<rect x="157.32" width="5.1" height="15.37" fill="#67257d"/>
<rect x="162.12" width="5.1" height="15.37" fill="#8d367c"/>
<rect x="166.91" width="5.1" height="15.37" fill="#67257d"/>
<rect x="171.71" width="5.1" height="15.37" fill="#d35a67"/>
<rect x="176.51" width="5.1" height="15.37" fill="#e67863"/>
<rect x="181.31" width="5.1" height="15.37" fill="#8d367c"/>
<rect x="186.1" width="5.1" height="15.37" fill="#67257d"/>
<rect x="190.9" width="5.1" height="15.37" fill="#b34574"/>
<rect x="195.7" width="5.1" height="15.37" fill="#fcfdc6"/>
<rect x="200.49" width="5.1" height="15.37" fill="#b34574"/>
<rect x="205.29" width="5.1" height="15.37" fill="#67257d"/>
<rect x="210.09" width="5.1" height="15.37" fill="#d35a67"/>
<rect x="214.89" width="5.1" height="15.37" fill="#67257d"/>
<rect x="219.68" width="5.1" height="15.37" fill="#e67863"/>
<rect x="224.48" width="5.1" height="15.37" fill="#b34574"/>
<rect x="229.28" width="5.1" height="15.37" fill="#e67863"/>
<rect x="234.08" width="5.1" height="15.37" fill="#b34574"/>
<rect x="238.87" width="5.1" height="15.37" fill="#e67863"/>
<rect x="243.67" width="5.1" height="15.37" fill="#b34574"/>
<rect x="248.47" width="5.1" height="15.37" fill="#67257d"/>
<rect x="253.27" width="5.1" height="15.37" fill="#411473"/>
<rect x="258.06" width="5.1" height="15.37" fill="#8d367c"/>
<rect x="262.86" width="5.1" height="15.37" fill="#411473"/>
<rect x="267.66" width="5.1" height="15.37" fill="#67257d"/>
<rect x="272.46" width="5.1" height="15.37" fill="#8d367c"/>
<rect x="277.25" width="5.1" height="15.37" fill="#411473"/>
<rect x="282.05" width="5.1" height="15.37" fill="#8d367c"/>
<rect x="286.85" width="5.1" height="15.37" fill="#67257d"/>
<rect x="291.65" width="5.1" height="15.37" fill="#e67863"/>
<rect x="296.44" width="5.1" height="15.37" fill="#411473"/>
<rect x="301.24" width="5.1" height="15.37" fill="#8d367c"/>
<rect x="306.04" width="5.1" height="15.37" fill="#b34574"/>
<rect x="310.84" width="5.1" height="15.37" fill="#e67863"/>
<rect x="315.63" width="5.1" height="15.37" fill="#e67863"/>
<rect x="320.43" width="5.1" height="15.37" fill="#67257d"/>
<rect x="325.23" width="5.1" height="15.37" fill="#e67863"/>
<rect x="330.03" width="5.1" height="15.37" fill="#67257d"/>
<rect x="334.82" width="5.1" height="15.37" fill="#d35a67"/>
<rect x="339.62" width="5.1" height="15.37" fill="#67257d"/>
<rect x="344.42" width="5.1" height="15.37" fill="#67257d"/>
<rect x="349.22" width="5.1" height="15.37" fill="#f6cc95"/>
<rect x="354.01" width="5.1" height="15.37" fill="#67257d"/>
<rect x="358.81" width="5.1" height="15.37" fill="#fcfdc6"/>
<rect x="363.61" width="5.1" height="15.37" fill="#67257d"/>
<rect x="368.41" width="5.1" height="15.37" fill="#67257d"/>
<rect x="373.2" width="5.1" height="15.37" fill="#ef9970"/>
</g>
<g transform="translate(0 285)">
<rect x="3.8" width="5.1" height="16.57" fill="#b34574"/>
<rect x="8.6" width="5.1" height="16.57" fill="#8d367c"/>
<rect x="13.39" width="5.1" height="16.57" fill="#8d367c"/>
<rect x="18.19" width="5.1" height="16.57" fill="#8d367c"/>
<rect x="22.99" width="5.1" height="16.57" fill="#67257d"/>
<rect x="27.79" width="5.1" height="16.57" fill="#67257d"/>
<rect x="32.58" width="5.1" height="16.57" fill="#f6cc95"/>
<rect x="37.38" width="5.1" height="16.57" fill="#b34574"/>
<rect x="42.18" width="5.1" height="16.57" fill="#e67863"/>
<rect x="46.98" width="5.1" height="16.57" fill="#f6cc95"/>
<rect x="51.77" width="5.1" height="16.57" fill="#411473"/>
<rect x="56.57" width="5.1" height="16.57" fill="#67257d"/>
<rect x="61.37" width="5.1" height="16.57" fill="#8d367c"/>
<rect x="66.17" width="5.1" height="16.57" fill="#d35a67"/>
<rect x="70.96" width="5.1" height="16.57" fill="#8d367c"/>
<rect x="75.76" width="5.1" height="16.57" fill="#e67863"/>
<rect x="80.56" width="5.1" height="16.57" fill="#ef9970"/>
<rect x="85.36" width="5.1" height="16.57" fill="#b34574"/>
<rect x="90.15" width="5.1" height="16.57" fill="#ef9970"/>
<rect x="94.95" width="5.1" height="16.57" fill="#b34574"/>
<rect x="99.75" width="5.1" height="16.57" fill="#8d367c"/>
<rect x="104.55" width="5.1" height="16.57" fill="#8d367c"/>
<rect x="109.34" width="5.1" height="16.57" fill="#b34574"/>
<rect x="114.14" width="5.1" height="16.57" fill="#8d367c"/>
<rect x="118.94" width="5.1" height="16.57" fill="#f6cc95"/>
<rect x="123.74" width="5.1" height="16.57" fill="#d35a67"/>
<rect x="128.53" width="5.1" height="16.57" fill="#e67863"/>
<rect x="133.33" width="5.1" height="16.57" fill="#8d367c"/>
<rect x="138.13" width="5.1" height="16.57" fill="#67257d"/>
<rect x="142.93" width="5.1" height="16.57" fill="#411473"/>
<rect x="147.72" width="5.1" height="16.57" fill="#b34574"/>
<rect x="152.52" width="5.1" height="16.57" fill="#e67863"/>
<rect x="157.32" width="5.1" height="16.57" fill="#8d367c"/>
<rect x="162.12" width="5.1" height="16.57" fill="#8d367c"/>
<rect x="166.91" width="5.1" height="16.57" fill="#8d367c"/>
<rect x="171.71" width="5.1" height="16.57" fill="#8d367c"/>
<rect x="176.51" width="5.1" height="16.57" fill="#b34574"/>
<rect x="181.31" width="5.1" height="16.57" fill="#8d367c"/>
<rect x="186.1" width="5.1" height="16.57" fill="#411473"/>
<rect x="190.9" width="5.1" height="16.57" fill="#411473"/>
<rect x="195.7" width="5.1" height="16.57" fill="#e67863"/>
<rect x="200.49" width="5.1" height="16.57" fill="#67257d"/>
<rect x="205.29" width="5.1" height="16.57" fill="#b34574"/>
<rect x="210.09" width="5.1" height="16.57" fill="#67257d"/>
<rect x="214.89" width="5.1" height="16.57" fill="#b34574"/>
<rect x="219.68" width="5.1" height="16.57" fill="#ef9970"/>
<rect x="224.48" width="5.1" height="16.57" fill="#d35a67"/>
<rect x="229.28" width="5.1" height="16.57" fill="#411473"/>
<rect x="234.08" width="5.1" height="16.57" fill="#8d367c"/>
<rect x="238.87" width="5.1" height="16.57" fill="#67257d"/>
<rect x="243.67" width="5.1" height="16.57" fill="#e67863"/>
<rect x="248.47" width="5.1" height="16.57" fill="#8d367c"/>
<rect x="253.27" width="5.1" height="16.57" fill="#8d367c"/>
<rect x="258.06" width="5.1" height="16.57" fill="#411473"/>
<rect x="262.86" width="5.1" height="16.57" fill="#8d367c"/>
<rect x="267.66" width="5.1" height="16.57" fill="#67257d"/>
<rect x="272.46" width="5.1" height="16.57" fill="#411473"/>
<rect x="277.25" width="5.1" height="16.57" fill="#ef9970"/>
<rect x="282.05" width="5.1" height="16.57" fill="#b34574"/>
<rect x="286.85" width="5.1" height="16.57" fill="#8d367c"/>
<rect x="291.65" width="5.1" height="16.57" fill="#8d367c"/>
<rect x="296.44" width="5.1" height="16.57" fill="#67257d"/>
<rect x="301.24" width="5.1" height="16.57" fill="#8d367c"/>
<rect x="306.04" width="5.1" height="16.57" fill="#b34574"/>
<rect x="310.84" width="5.1" height="16.57" fill="#8d367c"/>
<rect x="315.63" width="5.1" height="16.57" fill="#67257d"/>
<rect x="320.43" width="5.1" height="16.57" fill="#8d367c"/>
<rect x="325.23" width="5.1" height="16.57" fill="#d35a67"/>
<rect x="330.03" width="5.1" height="16.57" fill="#d35a67"/>
<rect x="334.82" width="5.1" height="16.57" fill="#67257d"/>
<rect x="339.62" width="5.1" height="16.57" fill="#8d367c"/>
<rect x="344.42" width="5.1" height="16.57" fill="#f6cc95"/>
<rect x="349.22" width="5.1" height="16.57" fill="#411473"/>
<rect x="354.01" width="5.1" height="16.57" fill="#67257d"/>
<rect x="358.81" width="5.1" height="16.57" fill="#411473"/>
<rect x="363.61" width="5.1" height="16.57" fill="#8d367c"/>
<rect x="368.41" width="5.1" height="16.57" fill="#ef9970"/>
<rect x="373.2" width="5.1" height="16.57" fill="#b34574"/>
</g>
<g transform="translate(0 301.27)">
<rect x="3.8" width="5.1" height="16.57" fill="#8d367c"/>
<rect x="8.6" width="5.1" height="16.57" fill="#67257d"/>
<rect x="13.39" width="5.1" height="16.57" fill="#67257d"/>
<rect x="18.19" width="5.1" height="16.57" fill="#b34574"/>
<rect x="22.99" width="5.1" height="16.57" fill="#b34574"/>
<rect x="27.79" width="5.1" height="16.57" fill="#f6cc95"/>
<rect x="32.58" width="5.1" height="16.57" fill="#67257d"/>
<rect x="37.38" width="5.1" height="16.57" fill="#67257d"/>
<rect x="42.18" width="5.1" height="16.57" fill="#67257d"/>
<rect x="46.98" width="5.1" height="16.57" fill="#d35a67"/>
<rect x="51.77" width="5.1" height="16.57" fill="#d35a67"/>
<rect x="56.57" width="5.1" height="16.57" fill="#67257d"/>
<rect x="61.37" width="5.1" height="16.57" fill="#67257d"/>
<rect x="66.17" width="5.1" height="16.57" fill="#8d367c"/>
<rect x="70.96" width="5.1" height="16.57" fill="#67257d"/>
<rect x="75.76" width="5.1" height="16.57" fill="#8d367c"/>
<rect x="80.56" width="5.1" height="16.57" fill="#8d367c"/>
<rect x="85.36" width="5.1" height="16.57" fill="#8d367c"/>
<rect x="90.15" width="5.1" height="16.57" fill="#67257d"/>
<rect x="94.95" width="5.1" height="16.57" fill="#8d367c"/>
<rect x="99.75" width="5.1" height="16.57" fill="#8d367c"/>
<rect x="104.55" width="5.1" height="16.57" fill="#8d367c"/>
<rect x="109.34" width="5.1" height="16.57" fill="#8d367c"/>
<rect x="114.14" width="5.1" height="16.57" fill="#b34574"/>
<rect x="118.94" width="5.1" height="16.57" fill="#8d367c"/>
<rect x="123.74" width="5.1" height="16.57" fill="#b34574"/>
<rect x="128.53" width="5.1" height="16.57" fill="#fcfdc6"/>
<rect x="133.33" width="5.1" height="16.57" fill="#b34574"/>
<rect x="138.13" width="5.1" height="16.57" fill="#b34574"/>
<rect x="142.93" width="5.1" height="16.57" fill="#b34574"/>
<rect x="147.72" width="5.1" height="16.57" fill="#8d367c"/>
<rect x="152.52" width="5.1" height="16.57" fill="#67257d"/>
<rect x="157.32" width="5.1" height="16.57" fill="#b34574"/>
<rect x="162.12" width="5.1" height="16.57" fill="#b34574"/>
<rect x="166.91" width="5.1" height="16.57" fill="#fcfdc6"/>
<rect x="171.71" width="5.1" height="16.57" fill="#8d367c"/>
<rect x="176.51" width="5.1" height="16.57" fill="#67257d"/>
<rect x="181.31" width="5.1" height="16.57" fill="#67257d"/>
<rect x="186.1" width="5.1" height="16.57" fill="#d35a67"/>
<rect x="190.9" width="5.1" height="16.57" fill="#8d367c"/>
<rect x="195.7" width="5.1" height="16.57" fill="#b34574"/>
<rect x="200.49" width="5.1" height="16.57" fill="#8d367c"/>
<rect x="205.29" width="5.1" height="16.57" fill="#8d367c"/>
<rect x="210.09" width="5.1" height="16.57" fill="#8d367c"/>
<rect x="214.89" width="5.1" height="16.57" fill="#67257d"/>
<rect x="219.68" width="5.1" height="16.57" fill="#ef9970"/>
<rect x="224.48" width="5.1" height="16.57" fill="#8d367c"/>
<rect x="229.28" width="5.1" height="16.57" fill="#67257d"/>
<rect x="234.08" width="5.1" height="16.57" fill="#b34574"/>
<rect x="238.87" width="5.1" height="16.57" fill="#b34574"/>
<rect x="243.67" width="5.1" height="16.57" fill="#8d367c"/>
<rect x="248.47" width="5.1" height="16.57" fill="#b34574"/>
<rect x="253.27" width="5.1" height="16.57" fill="#fcfdc6"/>
<rect x="258.06" width="5.1" height="16.57" fill="#b34574"/>
<rect x="262.86" width="5.1" height="16.57" fill="#b34574"/>
<rect x="267.66" width="5.1" height="16.57" fill="#411473"/>
<rect x="272.46" width="5.1" height="16.57" fill="#d35a67"/>
<rect x="277.25" width="5.1" height="16.57" fill="#b34574"/>
<rect x="282.05" width="5.1" height="16.57" fill="#8d367c"/>
<rect x="286.85" width="5.1" height="16.57" fill="#411473"/>
<rect x="291.65" width="5.1" height="16.57" fill="#67257d"/>
<rect x="296.44" width="5.1" height="16.57" fill="#67257d"/>
<rect x="301.24" width="5.1" height="16.57" fill="#67257d"/>
<rect x="306.04" width="5.1" height="16.57" fill="#b34574"/>
<rect x="310.84" width="5.1" height="16.57" fill="#8d367c"/>
<rect x="315.63" width="5.1" height="16.57" fill="#ef9970"/>
<rect x="320.43" width="5.1" height="16.57" fill="#8d367c"/>
<rect x="325.23" width="5.1" height="16.57" fill="#67257d"/>
<rect x="330.03" width="5.1" height="16.57" fill="#b34574"/>
<rect x="334.82" width="5.1" height="16.57" fill="#67257d"/>
<rect x="339.62" width="5.1" height="16.57" fill="#8d367c"/>
<rect x="344.42" width="5.1" height="16.57" fill="#d35a67"/>
<rect x="349.22" width="5.1" height="16.57" fill="#8d367c"/>
<rect x="354.01" width="5.1" height="16.57" fill="#8d367c"/>
<rect x="358.81" width="5.1" height="16.57" fill="#8d367c"/>
<rect x="363.61" width="5.1" height="16.57" fill="#e67863"/>
<rect x="368.41" width="5.1" height="16.57" fill="#8d367c"/>
<rect x="373.2" width="5.1" height="16.57" fill="#8d367c"/>
</g>
<g transform="translate(0 317.55)">
<rect x="3.8" width="5.1" height="16.57" fill="#8d367c"/>
<rect x="8.6" width="5.1" height="16.57" fill="#8d367c"/>
<rect x="13.39" width="5.1" height="16.57" fill="#b34574"/>
<rect x="18.19" width="5.1" height="16.57" fill="#67257d"/>
<rect x="22.99" width="5.1" height="16.57" fill="#411473"/>
<rect x="27.79" width="5.1" height="16.57" fill="#8d367c"/>
<rect x="32.58" width="5.1" height="16.57" fill="#e67863"/>
<rect x="37.38" width="5.1" height="16.57" fill="#8d367c"/>
<rect x="42.18" width="5.1" height="16.57" fill="#b34574"/>
<rect x="46.98" width="5.1" height="16.57" fill="#411473"/>
<rect x="51.77" width="5.1" height="16.57" fill="#b34574"/>
<rect x="56.57" width="5.1" height="16.57" fill="#8d367c"/>
<rect x="61.37" width="5.1" height="16.57" fill="#8d367c"/>
<rect x="66.17" width="5.1" height="16.57" fill="#b34574"/>
<rect x="70.96" width="5.1" height="16.57" fill="#8d367c"/>
<rect x="75.76" width="5.1" height="16.57" fill="#411473"/>
<rect x="80.56" width="5.1" height="16.57" fill="#8d367c"/>
<rect x="85.36" width="5.1" height="16.57" fill="#d35a67"/>
<rect x="90.15" width="5.1" height="16.57" fill="#fcfdc6"/>
<rect x="94.95" width="5.1" height="16.57" fill="#b34574"/>
<rect x="99.75" width="5.1" height="16.57" fill="#411473"/>
<rect x="104.55" width="5.1" height="16.57" fill="#b34574"/>
<rect x="109.34" width="5.1" height="16.57" fill="#8d367c"/>
<rect x="114.14" width="5.1" height="16.57" fill="#8d367c"/>
<rect x="118.94" width="5.1" height="16.57" fill="#b34574"/>
<rect x="123.74" width="5.1" height="16.57" fill="#67257d"/>
<rect x="128.53" width="5.1" height="16.57" fill="#e67863"/>
<rect x="133.33" width="5.1" height="16.57" fill="#67257d"/>
<rect x="138.13" width="5.1" height="16.57" fill="#411473"/>
<rect x="142.93" width="5.1" height="16.57" fill="#411473"/>
<rect x="147.72" width="5.1" height="16.57" fill="#ef9970"/>
<rect x="152.52" width="5.1" height="16.57" fill="#d35a67"/>
<rect x="157.32" width="5.1" height="16.57" fill="#e67863"/>
<rect x="162.12" width="5.1" height="16.57" fill="#d35a67"/>
<rect x="166.91" width="5.1" height="16.57" fill="#b34574"/>
<rect x="171.71" width="5.1" height="16.57" fill="#b34574"/>
<rect x="176.51" width="5.1" height="16.57" fill="#ef9970"/>
<rect x="181.31" width="5.1" height="16.57" fill="#e67863"/>
<rect x="186.1" width="5.1" height="16.57" fill="#e67863"/>
<rect x="190.9" width="5.1" height="16.57" fill="#67257d"/>
<rect x="195.7" width="5.1" height="16.57" fill="#8d367c"/>
<rect x="200.49" width="5.1" height="16.57" fill="#8d367c"/>
<rect x="205.29" width="5.1" height="16.57" fill="#411473"/>
<rect x="210.09" width="5.1" height="16.57" fill="#411473"/>
<rect x="214.89" width="5.1" height="16.57" fill="#d35a67"/>
<rect x="219.68" width="5.1" height="16.57" fill="#b34574"/>
<rect x="224.48" width="5.1" height="16.57" fill="#d35a67"/>
<rect x="229.28" width="5.1" height="16.57" fill="#b34574"/>
<rect x="234.08" width="5.1" height="16.57" fill="#411473"/>
<rect x="238.87" width="5.1" height="16.57" fill="#411473"/>
<rect x="243.67" width="5.1" height="16.57" fill="#67257d"/>
<rect x="248.47" width="5.1" height="16.57" fill="#f6cc95"/>
<rect x="253.27" width="5.1" height="16.57" fill="#67257d"/>
<rect x="258.06" width="5.1" height="16.57" fill="#8d367c"/>
<rect x="262.86" width="5.1" height="16.57" fill="#e67863"/>
<rect x="267.66" width="5.1" height="16.57" fill="#d35a67"/>
<rect x="272.46" width="5.1" height="16.57" fill="#67257d"/>
<rect x="277.25" width="5.1" height="16.57" fill="#8d367c"/>
<rect x="282.05" width="5.1" height="16.57" fill="#67257d"/>
<rect x="286.85" width="5.1" height="16.57" fill="#f6cc95"/>
<rect x="291.65" width="5.1" height="16.57" fill="#b34574"/>
<rect x="296.44" width="5.1" height="16.57" fill="#67257d"/>
<rect x="301.24" width="5.1" height="16.57" fill="#8d367c"/>
<rect x="306.04" width="5.1" height="16.57" fill="#8d367c"/>
<rect x="310.84" width="5.1" height="16.57" fill="#8d367c"/>
<rect x="315.63" width="5.1" height="16.57" fill="#b34574"/>
<rect x="320.43" width="5.1" height="16.57" fill="#67257d"/>
<rect x="325.23" width="5.1" height="16.57" fill="#d35a67"/>
<rect x="330.03" width="5.1" height="16.57" fill="#67257d"/>
<rect x="334.82" width="5.1" height="16.57" fill="#b34574"/>
<rect x="339.62" width="5.1" height="16.57" fill="#d35a67"/>
<rect x="344.42" width="5.1" height="16.57" fill="#411473"/>
<rect x="349.22" width="5.1" height="16.57" fill="#8d367c"/>
<rect x="354.01" width="5.1" height="16.57" fill="#8d367c"/>
<rect x="358.81" width="5.1" height="16.57" fill="#d35a67"/>
<rect x="363.61" width="5.1" height="16.57" fill="#8d367c"/>
<rect x="368.41" width="5.1" height="16.57" fill="#67257d"/>
<rect x="373.2" width="5.1" height="16.57" fill="#b34574"/>
</g>
<g transform="translate(0 333.82)">
<rect x="3.8" width="5.1" height="16.57" fill="#b34574"/>
<rect x="8.6" width="5.1" height="16.57" fill="#e67863"/>
<rect x="13.39" width="5.1" height="16.57" fill="#d35a67"/>
<rect x="18.19" width="5.1" height="16.57" fill="#e67863"/>
<rect x="22.99" width="5.1" height="16.57" fill="#e67863"/>
<rect x="27.79" width="5.1" height="16.57" fill="#e67863"/>
<rect x="32.58" width="5.1" height="16.57" fill="#8d367c"/>
<rect x="37.38" width="5.1" height="16.57" fill="#b34574"/>
<rect x="42.18" width="5.1" height="16.57" fill="#8d367c"/>
<rect x="46.98" width="5.1" height="16.57" fill="#d35a67"/>
<rect x="51.77" width="5.1" height="16.57" fill="#8d367c"/>
<rect x="56.57" width="5.1" height="16.57" fill="#411473"/>
<rect x="61.37" width="5.1" height="16.57" fill="#411473"/>
<rect x="66.17" width="5.1" height="16.57" fill="#8d367c"/>
<rect x="70.96" width="5.1" height="16.57" fill="#b34574"/>
<rect x="75.76" width="5.1" height="16.57" fill="#b34574"/>
<rect x="80.56" width="5.1" height="16.57" fill="#67257d"/>
<rect x="85.36" width="5.1" height="16.57" fill="#8d367c"/>
<rect x="90.15" width="5.1" height="16.57" fill="#411473"/>
<rect x="94.95" width="5.1" height="16.57" fill="#8d367c"/>
<rect x="99.75" width="5.1" height="16.57" fill="#d35a67"/>
<rect x="104.55" width="5.1" height="16.57" fill="#8d367c"/>
<rect x="109.34" width="5.1" height="16.57" fill="#8d367c"/>
<rect x="114.14" width="5.1" height="16.57" fill="#8d367c"/>
<rect x="118.94" width="5.1" height="16.57" fill="#d35a67"/>
<rect x="123.74" width="5.1" height="16.57" fill="#b34574"/>
<rect x="128.53" width="5.1" height="16.57" fill="#8d367c"/>
<rect x="133.33" width="5.1" height="16.57" fill="#e67863"/>
<rect x="138.13" width="5.1" height="16.57" fill="#e67863"/>
<rect x="142.93" width="5.1" height="16.57" fill="#ef9970"/>
<rect x="147.72" width="5.1" height="16.57" fill="#f6cc95"/>
<rect x="152.52" width="5.1" height="16.57" fill="#67257d"/>
<rect x="157.32" width="5.1" height="16.57" fill="#b34574"/>
<rect x="162.12" width="5.1" height="16.57" fill="#67257d"/>
<rect x="166.91" width="5.1" height="16.57" fill="#8d367c"/>
<rect x="171.71" width="5.1" height="16.57" fill="#8d367c"/>
<rect x="176.51" width="5.1" height="16.57" fill="#411473"/>
<rect x="181.31" width="5.1" height="16.57" fill="#8d367c"/>
<rect x="186.1" width="5.1" height="16.57" fill="#411473"/>
<rect x="190.9" width="5.1" height="16.57" fill="#d35a67"/>
<rect x="195.7" width="5.1" height="16.57" fill="#e67863"/>
<rect x="200.49" width="5.1" height="16.57" fill="#d35a67"/>
<rect x="205.29" width="5.1" height="16.57" fill="#d35a67"/>
<rect x="210.09" width="5.1" height="16.57" fill="#d35a67"/>
<rect x="214.89" width="5.1" height="16.57" fill="#8d367c"/>
<rect x="219.68" width="5.1" height="16.57" fill="#d35a67"/>
<rect x="224.48" width="5.1" height="16.57" fill="#8d367c"/>
<rect x="229.28" width="5.1" height="16.57" fill="#b34574"/>
<rect x="234.08" width="5.1" height="16.57" fill="#d35a67"/>
<rect x="238.87" width="5.1" height="16.57" fill="#d35a67"/>
<rect x="243.67" width="5.1" height="16.57" fill="#e67863"/>
<rect x="248.47" width="5.1" height="16.57" fill="#000003"/>
<rect x="253.27" width="5.1" height="16.57" fill="#b34574"/>
<rect x="258.06" width="5.1" height="16.57" fill="#8d367c"/>
<rect x="262.86" width="5.1" height="16.57" fill="#67257d"/>
<rect x="267.66" width="5.1" height="16.57" fill="#8d367c"/>
<rect x="272.46" width="5.1" height="16.57" fill="#e67863"/>
<rect x="277.25" width="5.1" height="16.57" fill="#8d367c"/>
<rect x="282.05" width="5.1" height="16.57" fill="#d35a67"/>
<rect x="286.85" width="5.1" height="16.57" fill="#000003"/>
<rect x="291.65" width="5.1" height="16.57" fill="#411473"/>
<rect x="296.44" width="5.1" height="16.57" fill="#e67863"/>
<rect x="301.24" width="5.1" height="16.57" fill="#e67863"/>
<rect x="306.04" width="5.1" height="16.57" fill="#8d367c"/>
<rect x="310.84" width="5.1" height="16.57" fill="#8d367c"/>
<rect x="315.63" width="5.1" height="16.57" fill="#67257d"/>
<rect x="320.43" width="5.1" height="16.57" fill="#b34574"/>
<rect x="325.23" width="5.1" height="16.57" fill="#67257d"/>
<rect x="330.03" width="5.1" height="16.57" fill="#8d367c"/>
<rect x="334.82" width="5.1" height="16.57" fill="#8d367c"/>
<rect x="339.62" width="5.1" height="16.57" fill="#ef9970"/>
<rect x="344.42" width="5.1" height="16.57" fill="#d35a67"/>
<rect x="349.22" width="5.1" height="16.57" fill="#8d367c"/>
<rect x="354.01" width="5.1" height="16.57" fill="#8d367c"/>
<rect x="358.81" width="5.1" height="16.57" fill="#67257d"/>
<rect x="363.61" width="5.1" height="16.57" fill="#8d367c"/>
<rect x="368.41" width="5.1" height="16.57" fill="#8d367c"/>
<rect x="373.2" width="5.1" height="16.57" fill="#8d367c"/>
</g>
<g transform="translate(0 350.1)">
<rect x="3.8" width="5.1" height="16.57" fill="#67257d"/>
<rect x="8.6" width="5.1" height="16.57" fill="#411473"/>
<rect x="13.39" width="5.1" height="16.57" fill="#8d367c"/>
<rect x="18.19" width="5.1" height="16.57" fill="#67257d"/>
<rect x="22.99" width="5.1" height="16.57" fill="#e67863"/>
<rect x="27.79" width="5.1" height="16.57" fill="#e67863"/>
<rect x="32.58" width="5.1" height="16.57" fill="#d35a67"/>
<rect x="37.38" width="5.1" height="16.57" fill="#b34574"/>
<rect x="42.18" width="5.1" height="16.57" fill="#411473"/>
<rect x="46.98" width="5.1" height="16.57" fill="#411473"/>
<rect x="51.77" width="5.1" height="16.57" fill="#67257d"/>
<rect x="56.57" width="5.1" height="16.57" fill="#67257d"/>
<rect x="61.37" width="5.1" height="16.57" fill="#67257d"/>
<rect x="66.17" width="5.1" height="16.57" fill="#8d367c"/>
<rect x="70.96" width="5.1" height="16.57" fill="#b34574"/>
<rect x="75.76" width="5.1" height="16.57" fill="#411473"/>
<rect x="80.56" width="5.1" height="16.57" fill="#d35a67"/>
<rect x="85.36" width="5.1" height="16.57" fill="#e67863"/>
<rect x="90.15" width="5.1" height="16.57" fill="#e67863"/>
<rect x="94.95" width="5.1" height="16.57" fill="#e67863"/>
<rect x="99.75" width="5.1" height="16.57" fill="#b34574"/>
<rect x="104.55" width="5.1" height="16.57" fill="#8d367c"/>
<rect x="109.34" width="5.1" height="16.57" fill="#ef9970"/>
<rect x="114.14" width="5.1" height="16.57" fill="#b34574"/>
<rect x="118.94" width="5.1" height="16.57" fill="#e67863"/>
<rect x="123.74" width="5.1" height="16.57" fill="#411473"/>
<rect x="128.53" width="5.1" height="16.57" fill="#d35a67"/>
<rect x="133.33" width="5.1" height="16.57" fill="#411473"/>
<rect x="138.13" width="5.1" height="16.57" fill="#411473"/>
<rect x="142.93" width="5.1" height="16.57" fill="#d35a67"/>
<rect x="147.72" width="5.1" height="16.57" fill="#d35a67"/>
<rect x="152.52" width="5.1" height="16.57" fill="#b34574"/>
<rect x="157.32" width="5.1" height="16.57" fill="#d35a67"/>
<rect x="162.12" width="5.1" height="16.57" fill="#8d367c"/>
<rect x="166.91" width="5.1" height="16.57" fill="#e67863"/>
<rect x="171.71" width="5.1" height="16.57" fill="#e67863"/>
<rect x="176.51" width="5.1" height="16.57" fill="#8d367c"/>
<rect x="181.31" width="5.1" height="16.57" fill="#ef9970"/>
<rect x="186.1" width="5.1" height="16.57" fill="#d35a67"/>
<rect x="190.9" width="5.1" height="16.57" fill="#d35a67"/>
<rect x="195.7" width="5.1" height="16.57" fill="#411473"/>
<rect x="200.49" width="5.1" height="16.57" fill="#d35a67"/>
<rect x="205.29" width="5.1" height="16.57" fill="#411473"/>
<rect x="210.09" width="5.1" height="16.57" fill="#411473"/>
<rect x="214.89" width="5.1" height="16.57" fill="#d35a67"/>
<rect x="219.68" width="5.1" height="16.57" fill="#d35a67"/>
<rect x="224.48" width="5.1" height="16.57" fill="#8d367c"/>
<rect x="229.28" width="5.1" height="16.57" fill="#67257d"/>
<rect x="234.08" width="5.1" height="16.57" fill="#e67863"/>
<rect x="238.87" width="5.1" height="16.57" fill="#d35a67"/>
<rect x="243.67" width="5.1" height="16.57" fill="#67257d"/>
<rect x="248.47" width="5.1" height="16.57" fill="#e67863"/>
<rect x="253.27" width="5.1" height="16.57" fill="#d35a67"/>
<rect x="258.06" width="5.1" height="16.57" fill="#67257d"/>
<rect x="262.86" width="5.1" height="16.57" fill="#d35a67"/>
<rect x="267.66" width="5.1" height="16.57" fill="#d35a67"/>
<rect x="272.46" width="5.1" height="16.57" fill="#d35a67"/>
<rect x="277.25" width="5.1" height="16.57" fill="#d35a67"/>
<rect x="282.05" width="5.1" height="16.57" fill="#8d367c"/>
<rect x="286.85" width="5.1" height="16.57" fill="#ef9970"/>
<rect x="291.65" width="5.1" height="16.57" fill="#b34574"/>
<rect x="296.44" width="5.1" height="16.57" fill="#8d367c"/>
<rect x="301.24" width="5.1" height="16.57" fill="#e67863"/>
<rect x="306.04" width="5.1" height="16.57" fill="#d35a67"/>
<rect x="310.84" width="5.1" height="16.57" fill="#d35a67"/>
<rect x="315.63" width="5.1" height="16.57" fill="#ef9970"/>
<rect x="320.43" width="5.1" height="16.57" fill="#d35a67"/>
<rect x="325.23" width="5.1" height="16.57" fill="#b34574"/>
<rect x="330.03" width="5.1" height="16.57" fill="#8d367c"/>
<rect x="334.82" width="5.1" height="16.57" fill="#67257d"/>
<rect x="339.62" width="5.1" height="16.57" fill="#8d367c"/>
<rect x="344.42" width="5.1" height="16.57" fill="#411473"/>
<rect x="349.22" width="5.1" height="16.57" fill="#411473"/>
<rect x="354.01" width="5.1" height="16.57" fill="#67257d"/>
<rect x="358.81" width="5.1" height="16.57" fill="#67257d"/>
<rect x="363.61" width="5.1" height="16.57" fill="#8d367c"/>
<rect x="368.41" width="5.1" height="16.57" fill="#411473"/>
<rect x="373.2" width="5.1" height="16.57" fill="#67257d"/>
</g>
<g transform="translate(0 366.38)">
<rect x="3.8" width="5.1" height="16.57" fill="#f6cc95"/>
<rect x="8.6" width="5.1" height="16.57" fill="#e67863"/>
<rect x="13.39" width="5.1" height="16.57" fill="#67257d"/>
<rect x="18.19" width="5.1" height="16.57" fill="#b34574"/>
<rect x="22.99" width="5.1" height="16.57" fill="#b34574"/>
<rect x="27.79" width="5.1" height="16.57" fill="#67257d"/>
<rect x="32.58" width="5.1" height="16.57" fill="#8d367c"/>
<rect x="37.38" width="5.1" height="16.57" fill="#d35a67"/>
<rect x="42.18" width="5.1" height="16.57" fill="#d35a67"/>
<rect x="46.98" width="5.1" height="16.57" fill="#d35a67"/>
<rect x="51.77" width="5.1" height="16.57" fill="#d35a67"/>
<rect x="56.57" width="5.1" height="16.57" fill="#e67863"/>
<rect x="61.37" width="5.1" height="16.57" fill="#d35a67"/>
<rect x="66.17" width="5.1" height="16.57" fill="#8d367c"/>
<rect x="70.96" width="5.1" height="16.57" fill="#ef9970"/>
<rect x="75.76" width="5.1" height="16.57" fill="#d35a67"/>
<rect x="80.56" width="5.1" height="16.57" fill="#8d367c"/>
<rect x="85.36" width="5.1" height="16.57" fill="#8d367c"/>
<rect x="90.15" width="5.1" height="16.57" fill="#411473"/>
<rect x="94.95" width="5.1" height="16.57" fill="#67257d"/>
<rect x="99.75" width="5.1" height="16.57" fill="#b34574"/>
<rect x="104.55" width="5.1" height="16.57" fill="#8d367c"/>
<rect x="109.34" width="5.1" height="16.57" fill="#2e1263"/>
<rect x="114.14" width="5.1" height="16.57" fill="#67257d"/>
<rect x="118.94" width="5.1" height="16.57" fill="#8d367c"/>
<rect x="123.74" width="5.1" height="16.57" fill="#d35a67"/>
<rect x="128.53" width="5.1" height="16.57" fill="#d35a67"/>
<rect x="133.33" width="5.1" height="16.57" fill="#d35a67"/>
<rect x="138.13" width="5.1" height="16.57" fill="#e67863"/>
<rect x="142.93" width="5.1" height="16.57" fill="#67257d"/>
<rect x="147.72" width="5.1" height="16.57" fill="#67257d"/>
<rect x="152.52" width="5.1" height="16.57" fill="#8d367c"/>
<rect x="157.32" width="5.1" height="16.57" fill="#411473"/>
<rect x="162.12" width="5.1" height="16.57" fill="#ef9970"/>
<rect x="166.91" width="5.1" height="16.57" fill="#67257d"/>
<rect x="171.71" width="5.1" height="16.57" fill="#d35a67"/>
<rect x="176.51" width="5.1" height="16.57" fill="#e67863"/>
<rect x="181.31" width="5.1" height="16.57" fill="#67257d"/>
<rect x="186.1" width="5.1" height="16.57" fill="#411473"/>
<rect x="190.9" width="5.1" height="16.57" fill="#8d367c"/>
<rect x="195.7" width="5.1" height="16.57" fill="#f6cc95"/>
<rect x="200.49" width="5.1" height="16.57" fill="#8d367c"/>
<rect x="205.29" width="5.1" height="16.57" fill="#e67863"/>
<rect x="210.09" width="5.1" height="16.57" fill="#e67863"/>
<rect x="214.89" width="5.1" height="16.57" fill="#8d367c"/>
<rect x="219.68" width="5.1" height="16.57" fill="#8d367c"/>
<rect x="224.48" width="5.1" height="16.57" fill="#67257d"/>
<rect x="229.28" width="5.1" height="16.57" fill="#67257d"/>
<rect x="234.08" width="5.1" height="16.57" fill="#e67863"/>
<rect x="238.87" width="5.1" height="16.57" fill="#8d367c"/>
<rect x="243.67" width="5.1" height="16.57" fill="#f6cc95"/>
<rect x="248.47" width="5.1" height="16.57" fill="#000003"/>
<rect x="253.27" width="5.1" height="16.57" fill="#67257d"/>
<rect x="258.06" width="5.1" height="16.57" fill="#8d367c"/>
<rect x="262.86" width="5.1" height="16.57" fill="#411473"/>
<rect x="267.66" width="5.1" height="16.57" fill="#67257d"/>
<rect x="272.46" width="5.1" height="16.57" fill="#411473"/>
<rect x="277.25" width="5.1" height="16.57" fill="#8d367c"/>
<rect x="282.05" width="5.1" height="16.57" fill="#b34574"/>
<rect x="286.85" width="5.1" height="16.57" fill="#411473"/>
<rect x="291.65" width="5.1" height="16.57" fill="#8d367c"/>
<rect x="296.44" width="5.1" height="16.57" fill="#d35a67"/>
<rect x="301.24" width="5.1" height="16.57" fill="#d35a67"/>
<rect x="306.04" width="5.1" height="16.57" fill="#b34574"/>
<rect x="310.84" width="5.1" height="16.57" fill="#b34574"/>
<rect x="315.63" width="5.1" height="16.57" fill="#67257d"/>
<rect x="320.43" width="5.1" height="16.57" fill="#8d367c"/>
<rect x="325.23" width="5.1" height="16.57" fill="#67257d"/>
<rect x="330.03" width="5.1" height="16.57" fill="#411473"/>
<rect x="334.82" width="5.1" height="16.57" fill="#8d367c"/>
<rect x="339.62" width="5.1" height="16.57" fill="#8d367c"/>
<rect x="344.42" width="5.1" height="16.57" fill="#d35a67"/>
<rect x="349.22" width="5.1" height="16.57" fill="#d35a67"/>
<rect x="354.01" width="5.1" height="16.57" fill="#d35a67"/>
<rect x="358.81" width="5.1" height="16.57" fill="#b34574"/>
<rect x="363.61" width="5.1" height="16.57" fill="#b34574"/>
<rect x="368.41" width="5.1" height="16.57" fill="#e67863"/>
<rect x="373.2" width="5.1" height="16.57" fill="#8d367c"/>
</g>
<g transform="translate(0 382.65)">
<rect x="3.8" width="5.1" height="16.57" fill="#b34574"/>
<rect x="8.6" width="5.1" height="16.57" fill="#e67863"/>
<rect x="13.39" width="5.1" height="16.57" fill="#e67863"/>
<rect x="18.19" width="5.1" height="16.57" fill="#e67863"/>
<rect x="22.99" width="5.1" height="16.57" fill="#411473"/>
<rect x="27.79" width="5.1" height="16.57" fill="#d35a67"/>
<rect x="32.58" width="5.1" height="16.57" fill="#8d367c"/>
<rect x="37.38" width="5.1" height="16.57" fill="#8d367c"/>
<rect x="42.18" width="5.1" height="16.57" fill="#8d367c"/>
<rect x="46.98" width="5.1" height="16.57" fill="#67257d"/>
<rect x="51.77" width="5.1" height="16.57" fill="#e67863"/>
<rect x="56.57" width="5.1" height="16.57" fill="#411473"/>
<rect x="61.37" width="5.1" height="16.57" fill="#67257d"/>
<rect x="66.17" width="5.1" height="16.57" fill="#8d367c"/>
<rect x="70.96" width="5.1" height="16.57" fill="#67257d"/>
<rect x="75.76" width="5.1" height="16.57" fill="#b34574"/>
<rect x="80.56" width="5.1" height="16.57" fill="#8d367c"/>
<rect x="85.36" width="5.1" height="16.57" fill="#67257d"/>
<rect x="90.15" width="5.1" height="16.57" fill="#ef9970"/>
<rect x="94.95" width="5.1" height="16.57" fill="#d35a67"/>
<rect x="99.75" width="5.1" height="16.57" fill="#b34574"/>
<rect x="104.55" width="5.1" height="16.57" fill="#e67863"/>
<rect x="109.34" width="5.1" height="16.57" fill="#ef9970"/>
<rect x="114.14" width="5.1" height="16.57" fill="#67257d"/>
<rect x="118.94" width="5.1" height="16.57" fill="#e67863"/>
<rect x="123.74" width="5.1" height="16.57" fill="#e67863"/>
<rect x="128.53" width="5.1" height="16.57" fill="#e67863"/>
<rect x="133.33" width="5.1" height="16.57" fill="#67257d"/>
<rect x="138.13" width="5.1" height="16.57" fill="#b34574"/>
<rect x="142.93" width="5.1" height="16.57" fill="#b34574"/>
<rect x="147.72" width="5.1" height="16.57" fill="#d35a67"/>
<rect x="152.52" width="5.1" height="16.57" fill="#411473"/>
<rect x="157.32" width="5.1" height="16.57" fill="#b34574"/>
<rect x="162.12" width="5.1" height="16.57" fill="#67257d"/>
<rect x="166.91" width="5.1" height="16.57" fill="#1c1246"/>
<rect x="171.71" width="5.1" height="16.57" fill="#b34574"/>
<rect x="176.51" width="5.1" height="16.57" fill="#b34574"/>
<rect x="181.31" width="5.1" height="16.57" fill="#e67863"/>
<rect x="186.1" width="5.1" height="16.57" fill="#d35a67"/>
<rect x="190.9" width="5.1" height="16.57" fill="#d35a67"/>
<rect x="195.7" width="5.1" height="16.57" fill="#e67863"/>
<rect x="200.49" width="5.1" height="16.57" fill="#e67863"/>
<rect x="205.29" width="5.1" height="16.57" fill="#d35a67"/>
<rect x="210.09" width="5.1" height="16.57" fill="#e67863"/>
<rect x="214.89" width="5.1" height="16.57" fill="#e67863"/>
<rect x="219.68" width="5.1" height="16.57" fill="#b34574"/>
<rect x="224.48" width="5.1" height="16.57" fill="#8d367c"/>
<rect x="229.28" width="5.1" height="16.57" fill="#8d367c"/>
<rect x="234.08" width="5.1" height="16.57" fill="#8d367c"/>
<rect x="238.87" width="5.1" height="16.57" fill="#67257d"/>
<rect x="243.67" width="5.1" height="16.57" fill="#67257d"/>
<rect x="248.47" width="5.1" height="16.57" fill="#b34574"/>
<rect x="253.27" width="5.1" height="16.57" fill="#d35a67"/>
<rect x="258.06" width="5.1" height="16.57" fill="#e67863"/>
<rect x="262.86" width="5.1" height="16.57" fill="#d35a67"/>
<rect x="267.66" width="5.1" height="16.57" fill="#000003"/>
<rect x="272.46" width="5.1" height="16.57" fill="#67257d"/>
<rect x="277.25" width="5.1" height="16.57" fill="#411473"/>
<rect x="282.05" width="5.1" height="16.57" fill="#67257d"/>
<rect x="286.85" width="5.1" height="16.57" fill="#8d367c"/>
<rect x="291.65" width="5.1" height="16.57" fill="#d35a67"/>
<rect x="296.44" width="5.1" height="16.57" fill="#e67863"/>
<rect x="301.24" width="5.1" height="16.57" fill="#d35a67"/>
<rect x="306.04" width="5.1" height="16.57" fill="#8d367c"/>
<rect x="310.84" width="5.1" height="16.57" fill="#8d367c"/>
<rect x="315.63" width="5.1" height="16.57" fill="#411473"/>
<rect x="320.43" width="5.1" height="16.57" fill="#411473"/>
<rect x="325.23" width="5.1" height="16.57" fill="#b34574"/>
<rect x="330.03" width="5.1" height="16.57" fill="#e67863"/>
<rect x="334.82" width="5.1" height="16.57" fill="#b34574"/>
<rect x="339.62" width="5.1" height="16.57" fill="#411473"/>
<rect x="344.42" width="5.1" height="16.57" fill="#b34574"/>
<rect x="349.22" width="5.1" height="16.57" fill="#e67863"/>
<rect x="354.01" width="5.1" height="16.57" fill="#d35a67"/>
<rect x="358.81" width="5.1" height="16.57" fill="#b34574"/>
<rect x="363.61" width="5.1" height="16.57" fill="#e67863"/>
<rect x="368.41" width="5.1" height="16.57" fill="#67257d"/>
<rect x="373.2" width="5.1" height="16.57" fill="#8d367c"/>
</g>
<g transform="translate(0 398.92)">
<rect x="3.8" width="5.1" height="16.57" fill="#8d367c"/>
<rect x="8.6" width="5.1" height="16.57" fill="#8d367c"/>
<rect x="13.39" width="5.1" height="16.57" fill="#8d367c"/>
<rect x="18.19" width="5.1" height="16.57" fill="#8d367c"/>
<rect x="22.99" width="5.1" height="16.57" fill="#8d367c"/>
<rect x="27.79" width="5.1" height="16.57" fill="#8d367c"/>
<rect x="32.58" width="5.1" height="16.57" fill="#d35a67"/>
<rect x="37.38" width="5.1" height="16.57" fill="#8d367c"/>
<rect x="42.18" width="5.1" height="16.57" fill="#8d367c"/>
<rect x="46.98" width="5.1" height="16.57" fill="#8d367c"/>
<rect x="51.77" width="5.1" height="16.57" fill="#8d367c"/>
<rect x="56.57" width="5.1" height="16.57" fill="#8d367c"/>
<rect x="61.37" width="5.1" height="16.57" fill="#8d367c"/>
<rect x="66.17" width="5.1" height="16.57" fill="#8d367c"/>
<rect x="70.96" width="5.1" height="16.57" fill="#8d367c"/>
<rect x="75.76" width="5.1" height="16.57" fill="#8d367c"/>
<rect x="80.56" width="5.1" height="16.57" fill="#8d367c"/>
<rect x="85.36" width="5.1" height="16.57" fill="#8d367c"/>
<rect x="90.15" width="5.1" height="16.57" fill="#8d367c"/>
<rect x="94.95" width="5.1" height="16.57" fill="#b34574"/>
<rect x="99.75" width="5.1" height="16.57" fill="#b34574"/>
<rect x="104.55" width="5.1" height="16.57" fill="#8d367c"/>
<rect x="109.34" width="5.1" height="16.57" fill="#8d367c"/>
<rect x="114.14" width="5.1" height="16.57" fill="#8d367c"/>
<rect x="118.94" width="5.1" height="16.57" fill="#b34574"/>
<rect x="123.74" width="5.1" height="16.57" fill="#8d367c"/>
<rect x="128.53" width="5.1" height="16.57" fill="#8d367c"/>
<rect x="133.33" width="5.1" height="16.57" fill="#8d367c"/>
<rect x="138.13" width="5.1" height="16.57" fill="#8d367c"/>
<rect x="142.93" width="5.1" height="16.57" fill="#ef9970"/>
<rect x="147.72" width="5.1" height="16.57" fill="#8d367c"/>
<rect x="152.52" width="5.1" height="16.57" fill="#8d367c"/>
<rect x="157.32" width="5.1" height="16.57" fill="#8d367c"/>
<rect x="162.12" width="5.1" height="16.57" fill="#8d367c"/>
<rect x="166.91" width="5.1" height="16.57" fill="#b34574"/>
<rect x="171.71" width="5.1" height="16.57" fill="#8d367c"/>
<rect x="176.51" width="5.1" height="16.57" fill="#8d367c"/>
<rect x="181.31" width="5.1" height="16.57" fill="#8d367c"/>
<rect x="186.1" width="5.1" height="16.57" fill="#8d367c"/>
<rect x="190.9" width="5.1" height="16.57" fill="#8d367c"/>
<rect x="195.7" width="5.1" height="16.57" fill="#8d367c"/>
<rect x="200.49" width="5.1" height="16.57" fill="#8d367c"/>
<rect x="205.29" width="5.1" height="16.57" fill="#8d367c"/>
<rect x="210.09" width="5.1" height="16.57" fill="#8d367c"/>
<rect x="214.89" width="5.1" height="16.57" fill="#8d367c"/>
<rect x="219.68" width="5.1" height="16.57" fill="#b34574"/>
<rect x="224.48" width="5.1" height="16.57" fill="#8d367c"/>
<rect x="229.28" width="5.1" height="16.57" fill="#8d367c"/>
<rect x="234.08" width="5.1" height="16.57" fill="#8d367c"/>
<rect x="238.87" width="5.1" height="16.57" fill="#8d367c"/>
<rect x="243.67" width="5.1" height="16.57" fill="#8d367c"/>
<rect x="248.47" width="5.1" height="16.57" fill="#8d367c"/>
<rect x="253.27" width="5.1" height="16.57" fill="#e67863"/>
<rect x="258.06" width="5.1" height="16.57" fill="#8d367c"/>
<rect x="262.86" width="5.1" height="16.57" fill="#8d367c"/>
<rect x="267.66" width="5.1" height="16.57" fill="#8d367c"/>
<rect x="272.46" width="5.1" height="16.57" fill="#fcfdc6"/>
<rect x="277.25" width="5.1" height="16.57" fill="#8d367c"/>
<rect x="282.05" width="5.1" height="16.57" fill="#8d367c"/>
<rect x="286.85" width="5.1" height="16.57" fill="#8d367c"/>
<rect x="291.65" width="5.1" height="16.57" fill="#8d367c"/>
<rect x="296.44" width="5.1" height="16.57" fill="#8d367c"/>
<rect x="301.24" width="5.1" height="16.57" fill="#b34574"/>
<rect x="306.04" width="5.1" height="16.57" fill="#8d367c"/>
<rect x="310.84" width="5.1" height="16.57" fill="#8d367c"/>
<rect x="315.63" width="5.1" height="16.57" fill="#8d367c"/>
<rect x="320.43" width="5.1" height="16.57" fill="#8d367c"/>
<rect x="325.23" width="5.1" height="16.57" fill="#8d367c"/>
<rect x="330.03" width="5.1" height="16.57" fill="#8d367c"/>
<rect x="334.82" width="5.1" height="16.57" fill="#8d367c"/>
<rect x="339.62" width="5.1" height="16.57" fill="#8d367c"/>
<rect x="344.42" width="5.1" height="16.57" fill="#8d367c"/>
<rect x="349.22" width="5.1" height="16.57" fill="#8d367c"/>
<rect x="354.01" width="5.1" height="16.57" fill="#8d367c"/>
<rect x="358.81" width="5.1" height="16.57" fill="#8d367c"/>
<rect x="363.61" width="5.1" height="16.57" fill="#b34574"/>
<rect x="368.41" width="5.1" height="16.57" fill="#8d367c"/>
<rect x="373.2" width="5.1" height="16.57" fill="#8d367c"/>
</g>
<g transform="translate(0 415.2)">
<rect x="3.8" width="5.1" height="16.57" fill="#8d367c"/>
<rect x="8.6" width="5.1" height="16.57" fill="#8d367c"/>
<rect x="13.39" width="5.1" height="16.57" fill="#67257d"/>
<rect x="18.19" width="5.1" height="16.57" fill="#67257d"/>
<rect x="22.99" width="5.1" height="16.57" fill="#8d367c"/>
<rect x="27.79" width="5.1" height="16.57" fill="#8d367c"/>
<rect x="32.58" width="5.1" height="16.57" fill="#8d367c"/>
<rect x="37.38" width="5.1" height="16.57" fill="#67257d"/>
<rect x="42.18" width="5.1" height="16.57" fill="#67257d"/>
<rect x="46.98" width="5.1" height="16.57" fill="#8d367c"/>
<rect x="51.77" width="5.1" height="16.57" fill="#67257d"/>
<rect x="56.57" width="5.1" height="16.57" fill="#67257d"/>
<rect x="61.37" width="5.1" height="16.57" fill="#8d367c"/>
<rect x="66.17" width="5.1" height="16.57" fill="#67257d"/>
<rect x="70.96" width="5.1" height="16.57" fill="#67257d"/>
<rect x="75.76" width="5.1" height="16.57" fill="#67257d"/>
<rect x="80.56" width="5.1" height="16.57" fill="#ef9970"/>
<rect x="85.36" width="5.1" height="16.57" fill="#d35a67"/>
<rect x="90.15" width="5.1" height="16.57" fill="#e67863"/>
<rect x="94.95" width="5.1" height="16.57" fill="#8d367c"/>
<rect x="99.75" width="5.1" height="16.57" fill="#67257d"/>
<rect x="104.55" width="5.1" height="16.57" fill="#b34574"/>
<rect x="109.34" width="5.1" height="16.57" fill="#8d367c"/>
<rect x="114.14" width="5.1" height="16.57" fill="#8d367c"/>
<rect x="118.94" width="5.1" height="16.57" fill="#d35a67"/>
<rect x="123.74" width="5.1" height="16.57" fill="#67257d"/>
<rect x="128.53" width="5.1" height="16.57" fill="#8d367c"/>
<rect x="133.33" width="5.1" height="16.57" fill="#67257d"/>
<rect x="138.13" width="5.1" height="16.57" fill="#67257d"/>
<rect x="142.93" width="5.1" height="16.57" fill="#67257d"/>
<rect x="147.72" width="5.1" height="16.57" fill="#d35a67"/>
<rect x="152.52" width="5.1" height="16.57" fill="#8d367c"/>
<rect x="157.32" width="5.1" height="16.57" fill="#b34574"/>
<rect x="162.12" width="5.1" height="16.57" fill="#67257d"/>
<rect x="166.91" width="5.1" height="16.57" fill="#8d367c"/>
<rect x="171.71" width="5.1" height="16.57" fill="#8d367c"/>
<rect x="176.51" width="5.1" height="16.57" fill="#8d367c"/>
<rect x="181.31" width="5.1" height="16.57" fill="#fcfdc6"/>
<rect x="186.1" width="5.1" height="16.57" fill="#b34574"/>
<rect x="190.9" width="5.1" height="16.57" fill="#8d367c"/>
<rect x="195.7" width="5.1" height="16.57" fill="#67257d"/>
<rect x="200.49" width="5.1" height="16.57" fill="#67257d"/>
<rect x="205.29" width="5.1" height="16.57" fill="#8d367c"/>
<rect x="210.09" width="5.1" height="16.57" fill="#67257d"/>
<rect x="214.89" width="5.1" height="16.57" fill="#e67863"/>
<rect x="219.68" width="5.1" height="16.57" fill="#f6cc95"/>
<rect x="224.48" width="5.1" height="16.57" fill="#8d367c"/>
<rect x="229.28" width="5.1" height="16.57" fill="#8d367c"/>
<rect x="234.08" width="5.1" height="16.57" fill="#67257d"/>
<rect x="238.87" width="5.1" height="16.57" fill="#8d367c"/>
<rect x="243.67" width="5.1" height="16.57" fill="#67257d"/>
<rect x="248.47" width="5.1" height="16.57" fill="#e67863"/>
<rect x="253.27" width="5.1" height="16.57" fill="#fcfdc6"/>
<rect x="258.06" width="5.1" height="16.57" fill="#67257d"/>
<rect x="262.86" width="5.1" height="16.57" fill="#d35a67"/>
<rect x="267.66" width="5.1" height="16.57" fill="#fcfdc6"/>
<rect x="272.46" width="5.1" height="16.57" fill="#ef9970"/>
<rect x="277.25" width="5.1" height="16.57" fill="#8d367c"/>
<rect x="282.05" width="5.1" height="16.57" fill="#67257d"/>
<rect x="286.85" width="5.1" height="16.57" fill="#ef9970"/>
<rect x="291.65" width="5.1" height="16.57" fill="#b34574"/>
<rect x="296.44" width="5.1" height="16.57" fill="#8d367c"/>
<rect x="301.24" width="5.1" height="16.57" fill="#8d367c"/>
<rect x="306.04" width="5.1" height="16.57" fill="#67257d"/>
<rect x="310.84" width="5.1" height="16.57" fill="#8d367c"/>
<rect x="315.63" width="5.1" height="16.57" fill="#67257d"/>
<rect x="320.43" width="5.1" height="16.57" fill="#8d367c"/>
<rect x="325.23" width="5.1" height="16.57" fill="#b34574"/>
<rect x="330.03" width="5.1" height="16.57" fill="#ef9970"/>
<rect x="334.82" width="5.1" height="16.57" fill="#8d367c"/>
<rect x="339.62" width="5.1" height="16.57" fill="#67257d"/>
<rect x="344.42" width="5.1" height="16.57" fill="#8d367c"/>
<rect x="349.22" width="5.1" height="16.57" fill="#b34574"/>
<rect x="354.01" width="5.1" height="16.57" fill="#67257d"/>
<rect x="358.81" width="5.1" height="16.57" fill="#8d367c"/>
<rect x="363.61" width="5.1" height="16.57" fill="#67257d"/>
<rect x="368.41" width="5.1" height="16.57" fill="#8d367c"/>
<rect x="373.2" width="5.1" height="16.57" fill="#8d367c"/>
</g>
<g transform="translate(0 431.48)">
<rect x="3.8" width="5.1" height="16.57" fill="#67257d"/>
<rect x="8.6" width="5.1" height="16.57" fill="#67257d"/>
<rect x="13.39" width="5.1" height="16.57" fill="#8d367c"/>
<rect x="27.79" width="5.1" height="16.57" fill="#67257d"/>
<rect x="32.58" width="5.1" height="16.57" fill="#d35a67"/>
<rect x="37.38" width="5.1" height="16.57" fill="#67257d"/>
<rect x="51.77" width="5.1" height="16.57" fill="#8d367c"/>
<rect x="56.57" width="5.1" height="16.57" fill="#8d367c"/>
<rect x="66.17" width="5.1" height="16.57" fill="#d35a67"/>
<rect x="70.96" width="5.1" height="16.57" fill="#67257d"/>
<rect x="75.76" width="5.1" height="16.57" fill="#411473"/>
<rect x="80.56" width="5.1" height="16.57" fill="#8d367c"/>
<rect x="85.36" width="5.1" height="16.57" fill="#d35a67"/>
<rect x="90.15" width="5.1" height="16.57" fill="#f6cc95"/>
<rect x="94.95" width="5.1" height="16.57" fill="#8d367c"/>
<rect x="104.55" width="5.1" height="16.57" fill="#8d367c"/>
<rect x="109.34" width="5.1" height="16.57" fill="#8d367c"/>
<rect x="114.14" width="5.1" height="16.57" fill="#b34574"/>
<rect x="118.94" width="5.1" height="16.57" fill="#8d367c"/>
<rect x="128.53" width="5.1" height="16.57" fill="#b34574"/>
<rect x="147.72" width="5.1" height="16.57" fill="#ef9970"/>
<rect x="157.32" width="5.1" height="16.57" fill="#b34574"/>
<rect x="162.12" width="5.1" height="16.57" fill="#e67863"/>
<rect x="166.91" width="5.1" height="16.57" fill="#8d367c"/>
<rect x="171.71" width="5.1" height="16.57" fill="#8d367c"/>
<rect x="176.51" width="5.1" height="16.57" fill="#e67863"/>
<rect x="181.31" width="5.1" height="16.57" fill="#e67863"/>
<rect x="186.1" width="5.1" height="16.57" fill="#e67863"/>
<rect x="190.9" width="5.1" height="16.57" fill="#67257d"/>
<rect x="195.7" width="5.1" height="16.57" fill="#67257d"/>
<rect x="200.49" width="5.1" height="16.57" fill="#67257d"/>
<rect x="205.29" width="5.1" height="16.57" fill="#411473"/>
<rect x="214.89" width="5.1" height="16.57" fill="#b34574"/>
<rect x="219.68" width="5.1" height="16.57" fill="#8d367c"/>
<rect x="224.48" width="5.1" height="16.57" fill="#b34574"/>
<rect x="248.47" width="5.1" height="16.57" fill="#f6cc95"/>
<rect x="253.27" width="5.1" height="16.57" fill="#411473"/>
<rect x="258.06" width="5.1" height="16.57" fill="#b34574"/>
<rect x="262.86" width="5.1" height="16.57" fill="#e67863"/>
<rect x="277.25" width="5.1" height="16.57" fill="#8d367c"/>
<rect x="286.85" width="5.1" height="16.57" fill="#f6cc95"/>
<rect x="291.65" width="5.1" height="16.57" fill="#b34574"/>
<rect x="296.44" width="5.1" height="16.57" fill="#411473"/>
<rect x="301.24" width="5.1" height="16.57" fill="#67257d"/>
<rect x="310.84" width="5.1" height="16.57" fill="#8d367c"/>
<rect x="320.43" width="5.1" height="16.57" fill="#67257d"/>
<rect x="325.23" width="5.1" height="16.57" fill="#d35a67"/>
<rect x="330.03" width="5.1" height="16.57" fill="#8d367c"/>
<rect x="334.82" width="5.1" height="16.57" fill="#67257d"/>
<rect x="339.62" width="5.1" height="16.57" fill="#d35a67"/>
<rect x="354.01" width="5.1" height="16.57" fill="#67257d"/>
<rect x="368.41" width="5.1" height="16.57" fill="#67257d"/>
<rect x="373.2" width="5.1" height="16.57" fill="#8d367c"/>
</g>
<g transform="translate(0 447.75)">
<rect x="3.8" width="5.1" height="16.57" fill="#d35a67"/>
<rect x="8.6" width="5.1" height="16.57" fill="#67257d"/>
<rect x="13.39" width="5.1" height="16.57" fill="#8d367c"/>
<rect x="18.19" width="5.1" height="16.57" fill="#67257d"/>
<rect x="22.99" width="5.1" height="16.57" fill="#8d367c"/>
<rect x="27.79" width="5.1" height="16.57" fill="#67257d"/>
<rect x="32.58" width="5.1" height="16.57" fill="#8d367c"/>
<rect x="37.38" width="5.1" height="16.57" fill="#8d367c"/>
<rect x="42.18" width="5.1" height="16.57" fill="#8d367c"/>
<rect x="46.98" width="5.1" height="16.57" fill="#e67863"/>
<rect x="51.77" width="5.1" height="16.57" fill="#67257d"/>
<rect x="56.57" width="5.1" height="16.57" fill="#b34574"/>
<rect x="61.37" width="5.1" height="16.57" fill="#b34574"/>
<rect x="66.17" width="5.1" height="16.57" fill="#8d367c"/>
<rect x="70.96" width="5.1" height="16.57" fill="#8d367c"/>
<rect x="75.76" width="5.1" height="16.57" fill="#67257d"/>
<rect x="80.56" width="5.1" height="16.57" fill="#b34574"/>
<rect x="85.36" width="5.1" height="16.57" fill="#d35a67"/>
<rect x="90.15" width="5.1" height="16.57" fill="#67257d"/>
<rect x="94.95" width="5.1" height="16.57" fill="#8d367c"/>
<rect x="99.75" width="5.1" height="16.57" fill="#67257d"/>
<rect x="104.55" width="5.1" height="16.57" fill="#b34574"/>
<rect x="109.34" width="5.1" height="16.57" fill="#8d367c"/>
<rect x="114.14" width="5.1" height="16.57" fill="#b34574"/>
<rect x="118.94" width="5.1" height="16.57" fill="#b34574"/>
<rect x="123.74" width="5.1" height="16.57" fill="#67257d"/>
<rect x="128.53" width="5.1" height="16.57" fill="#8d367c"/>
<rect x="133.33" width="5.1" height="16.57" fill="#8d367c"/>
<rect x="138.13" width="5.1" height="16.57" fill="#67257d"/>
<rect x="142.93" width="5.1" height="16.57" fill="#8d367c"/>
<rect x="147.72" width="5.1" height="16.57" fill="#8d367c"/>
<rect x="152.52" width="5.1" height="16.57" fill="#8d367c"/>
<rect x="157.32" width="5.1" height="16.57" fill="#8d367c"/>
<rect x="162.12" width="5.1" height="16.57" fill="#8d367c"/>
<rect x="166.91" width="5.1" height="16.57" fill="#8d367c"/>
<rect x="171.71" width="5.1" height="16.57" fill="#8d367c"/>
<rect x="176.51" width="5.1" height="16.57" fill="#b34574"/>
<rect x="181.31" width="5.1" height="16.57" fill="#fcfdc6"/>
<rect x="186.1" width="5.1" height="16.57" fill="#67257d"/>
<rect x="190.9" width="5.1" height="16.57" fill="#67257d"/>
<rect x="195.7" width="5.1" height="16.57" fill="#b34574"/>
<rect x="200.49" width="5.1" height="16.57" fill="#67257d"/>
<rect x="205.29" width="5.1" height="16.57" fill="#8d367c"/>
<rect x="210.09" width="5.1" height="16.57" fill="#8d367c"/>
<rect x="214.89" width="5.1" height="16.57" fill="#67257d"/>
<rect x="219.68" width="5.1" height="16.57" fill="#f6cc95"/>
<rect x="224.48" width="5.1" height="16.57" fill="#8d367c"/>
<rect x="229.28" width="5.1" height="16.57" fill="#67257d"/>
<rect x="234.08" width="5.1" height="16.57" fill="#8d367c"/>
<rect x="238.87" width="5.1" height="16.57" fill="#67257d"/>
<rect x="243.67" width="5.1" height="16.57" fill="#8d367c"/>
<rect x="248.47" width="5.1" height="16.57" fill="#8d367c"/>
<rect x="253.27" width="5.1" height="16.57" fill="#fcfdc6"/>
<rect x="258.06" width="5.1" height="16.57" fill="#67257d"/>
<rect x="262.86" width="5.1" height="16.57" fill="#67257d"/>
<rect x="267.66" width="5.1" height="16.57" fill="#f6cc95"/>
<rect x="272.46" width="5.1" height="16.57" fill="#fcfdc6"/>
<rect x="277.25" width="5.1" height="16.57" fill="#8d367c"/>
<rect x="282.05" width="5.1" height="16.57" fill="#8d367c"/>
<rect x="286.85" width="5.1" height="16.57" fill="#e67863"/>
<rect x="291.65" width="5.1" height="16.57" fill="#8d367c"/>
<rect x="296.44" width="5.1" height="16.57" fill="#e67863"/>
<rect x="301.24" width="5.1" height="16.57" fill="#8d367c"/>
<rect x="306.04" width="5.1" height="16.57" fill="#8d367c"/>
<rect x="310.84" width="5.1" height="16.57" fill="#8d367c"/>
<rect x="315.63" width="5.1" height="16.57" fill="#67257d"/>
<rect x="320.43" width="5.1" height="16.57" fill="#67257d"/>
<rect x="325.23" width="5.1" height="16.57" fill="#8d367c"/>
<rect x="330.03" width="5.1" height="16.57" fill="#ef9970"/>
<rect x="334.82" width="5.1" height="16.57" fill="#b34574"/>
<rect x="339.62" width="5.1" height="16.57" fill="#67257d"/>
<rect x="344.42" width="5.1" height="16.57" fill="#8d367c"/>
<rect x="349.22" width="5.1" height="16.57" fill="#8d367c"/>
<rect x="354.01" width="5.1" height="16.57" fill="#8d367c"/>
<rect x="358.81" width="5.1" height="16.57" fill="#8d367c"/>
<rect x="363.61" width="5.1" height="16.57" fill="#8d367c"/>
<rect x="368.41" width="5.1" height="16.57" fill="#8d367c"/>
<rect x="373.2" width="5.1" height="16.57" fill="#8d367c"/>
</g>
<g transform="translate(0 464.02)">
<rect x="3.8" width="5.1" height="16.57" fill="#b34574"/>
<rect x="8.6" width="5.1" height="16.57" fill="#e67863"/>
<rect x="13.39" width="5.1" height="16.57" fill="#ef9970"/>
<rect x="18.19" width="5.1" height="16.57" fill="#8d367c"/>
<rect x="22.99" width="5.1" height="16.57" fill="#d35a67"/>
<rect x="27.79" width="5.1" height="16.57" fill="#8d367c"/>
<rect x="32.58" width="5.1" height="16.57" fill="#67257d"/>
<rect x="37.38" width="5.1" height="16.57" fill="#e67863"/>
<rect x="42.18" width="5.1" height="16.57" fill="#67257d"/>
<rect x="46.98" width="5.1" height="16.57" fill="#b34574"/>
<rect x="51.77" width="5.1" height="16.57" fill="#b34574"/>
<rect x="56.57" width="5.1" height="16.57" fill="#67257d"/>
<rect x="61.37" width="5.1" height="16.57" fill="#b34574"/>
<rect x="66.17" width="5.1" height="16.57" fill="#e67863"/>
<rect x="70.96" width="5.1" height="16.57" fill="#e67863"/>
<rect x="75.76" width="5.1" height="16.57" fill="#67257d"/>
<rect x="80.56" width="5.1" height="16.57" fill="#b34574"/>
<rect x="85.36" width="5.1" height="16.57" fill="#b34574"/>
<rect x="90.15" width="5.1" height="16.57" fill="#67257d"/>
<rect x="94.95" width="5.1" height="16.57" fill="#411473"/>
<rect x="99.75" width="5.1" height="16.57" fill="#b34574"/>
<rect x="104.55" width="5.1" height="16.57" fill="#8d367c"/>
<rect x="109.34" width="5.1" height="16.57" fill="#67257d"/>
<rect x="114.14" width="5.1" height="16.57" fill="#411473"/>
<rect x="118.94" width="5.1" height="16.57" fill="#8d367c"/>
<rect x="123.74" width="5.1" height="16.57" fill="#67257d"/>
<rect x="128.53" width="5.1" height="16.57" fill="#411473"/>
<rect x="133.33" width="5.1" height="16.57" fill="#8d367c"/>
<rect x="138.13" width="5.1" height="16.57" fill="#d35a67"/>
<rect x="142.93" width="5.1" height="16.57" fill="#d35a67"/>
<rect x="147.72" width="5.1" height="16.57" fill="#411473"/>
<rect x="152.52" width="5.1" height="16.57" fill="#8d367c"/>
<rect x="157.32" width="5.1" height="16.57" fill="#b34574"/>
<rect x="162.12" width="5.1" height="16.57" fill="#67257d"/>
<rect x="166.91" width="5.1" height="16.57" fill="#8d367c"/>
<rect x="171.71" width="5.1" height="16.57" fill="#b34574"/>
<rect x="176.51" width="5.1" height="16.57" fill="#411473"/>
<rect x="181.31" width="5.1" height="16.57" fill="#fcfdc6"/>
<rect x="186.1" width="5.1" height="16.57" fill="#411473"/>
<rect x="190.9" width="5.1" height="16.57" fill="#d35a67"/>
<rect x="195.7" width="5.1" height="16.57" fill="#67257d"/>
<rect x="200.49" width="5.1" height="16.57" fill="#67257d"/>
<rect x="205.29" width="5.1" height="16.57" fill="#e67863"/>
<rect x="210.09" width="5.1" height="16.57" fill="#67257d"/>
<rect x="214.89" width="5.1" height="16.57" fill="#e67863"/>
<rect x="219.68" width="5.1" height="16.57" fill="#e67863"/>
<rect x="224.48" width="5.1" height="16.57" fill="#67257d"/>
<rect x="229.28" width="5.1" height="16.57" fill="#b34574"/>
<rect x="234.08" width="5.1" height="16.57" fill="#d35a67"/>
<rect x="238.87" width="5.1" height="16.57" fill="#67257d"/>
<rect x="243.67" width="5.1" height="16.57" fill="#e67863"/>
<rect x="248.47" width="5.1" height="16.57" fill="#d35a67"/>
<rect x="253.27" width="5.1" height="16.57" fill="#8d367c"/>
<rect x="258.06" width="5.1" height="16.57" fill="#67257d"/>
<rect x="262.86" width="5.1" height="16.57" fill="#411473"/>
<rect x="267.66" width="5.1" height="16.57" fill="#fcfdc6"/>
<rect x="272.46" width="5.1" height="16.57" fill="#e67863"/>
<rect x="277.25" width="5.1" height="16.57" fill="#411473"/>
<rect x="282.05" width="5.1" height="16.57" fill="#8d367c"/>
<rect x="286.85" width="5.1" height="16.57" fill="#8d367c"/>
<rect x="291.65" width="5.1" height="16.57" fill="#d35a67"/>
<rect x="296.44" width="5.1" height="16.57" fill="#8d367c"/>
<rect x="301.24" width="5.1" height="16.57" fill="#8d367c"/>
<rect x="306.04" width="5.1" height="16.57" fill="#8d367c"/>
<rect x="310.84" width="5.1" height="16.57" fill="#67257d"/>
<rect x="315.63" width="5.1" height="16.57" fill="#8d367c"/>
<rect x="320.43" width="5.1" height="16.57" fill="#67257d"/>
<rect x="325.23" width="5.1" height="16.57" fill="#67257d"/>
<rect x="330.03" width="5.1" height="16.57" fill="#8d367c"/>
<rect x="334.82" width="5.1" height="16.57" fill="#d35a67"/>
<rect x="339.62" width="5.1" height="16.57" fill="#f6cc95"/>
<rect x="344.42" width="5.1" height="16.57" fill="#8d367c"/>
<rect x="349.22" width="5.1" height="16.57" fill="#b34574"/>
<rect x="354.01" width="5.1" height="16.57" fill="#e67863"/>
<rect x="358.81" width="5.1" height="16.57" fill="#d35a67"/>
<rect x="363.61" width="5.1" height="16.57" fill="#d35a67"/>
<rect x="368.41" width="5.1" height="16.57" fill="#67257d"/>
<rect x="373.2" width="5.1" height="16.57" fill="#411473"/>
</g>
<g transform="translate(0 39.8)">
<rect x="410.2" width="4.99" height="15.37" fill="#411473"/>
<rect x="414.89" width="4.99" height="15.37" fill="#1c1246"/>
<rect x="419.58" width="4.99" height="15.37" fill="#1c1246"/>
<rect x="424.28" width="4.99" height="15.37" fill="#d35a67"/>
<rect x="428.97" width="4.99" height="15.37" fill="#e67863"/>
<rect x="433.66" width="4.99" height="15.37" fill="#8d367c"/>
<rect x="438.35" width="4.99" height="15.37" fill="#8d367c"/>
<rect x="443.05" width="4.99" height="15.37" fill="#d35a67"/>
<rect x="447.74" width="4.99" height="15.37" fill="#67257d"/>
<rect x="452.43" width="4.99" height="15.37" fill="#d35a67"/>
<rect x="457.12" width="4.99" height="15.37" fill="#7a2d7d"/>
<rect x="461.82" width="4.99" height="15.37" fill="#c6506d"/>
<rect x="466.51" width="4.99" height="15.37" fill="#f2b07f"/>
<rect x="471.2" width="4.99" height="15.37" fill="#67257d"/>
<rect x="475.89" width="4.99" height="15.37" fill="#e67863"/>
<rect x="480.58" width="4.99" height="15.37" fill="#8d367c"/>
<rect x="485.28" width="4.99" height="15.37" fill="#9f3d79"/>
<rect x="489.97" width="4.99" height="15.37" fill="#b34574"/>
<rect x="494.66" width="4.99" height="15.37" fill="#9f3d79"/>
<rect x="499.35" width="4.99" height="15.37" fill="#b34574"/>
<rect x="504.05" width="4.99" height="15.37" fill="#d35a67"/>
<rect x="508.74" width="4.99" height="15.37" fill="#b34574"/>
<rect x="513.43" width="4.99" height="15.37" fill="#de6763"/>
<rect x="518.12" width="4.99" height="15.37" fill="#b34574"/>
<rect x="522.82" width="4.99" height="15.37" fill="#de6763"/>
<rect x="527.51" width="4.99" height="15.37" fill="#67257d"/>
<rect x="532.2" width="4.99" height="15.37" fill="#b34574"/>
<rect x="536.89" width="4.99" height="15.37" fill="#d35a67"/>
<rect x="541.58" width="4.99" height="15.37" fill="#67257d"/>
<rect x="546.28" width="4.99" height="15.37" fill="#411473"/>
<rect x="550.97" width="4.99" height="15.37" fill="#e67863"/>
<rect x="555.66" width="4.99" height="15.37" fill="#de6763"/>
<rect x="560.35" width="4.99" height="15.37" fill="#67257d"/>
<rect x="565.05" width="4.99" height="15.37" fill="#8d367c"/>
<rect x="569.74" width="4.99" height="15.37" fill="#8d367c"/>
<rect x="574.43" width="4.99" height="15.37" fill="#d35a67"/>
<rect x="579.12" width="4.99" height="15.37" fill="#de6763"/>
<rect x="583.82" width="4.99" height="15.37" fill="#de6763"/>
<rect x="588.51" width="4.99" height="15.37" fill="#ef9970"/>
</g>
<g transform="translate(0 54.87)">
<rect x="410.2" width="4.99" height="15.37" fill="#67257d"/>
<rect x="414.89" width="4.99" height="15.37" fill="#7a2d7d"/>
<rect x="419.58" width="4.99" height="15.37" fill="#411473"/>
<rect x="424.28" width="4.99" height="15.37" fill="#d35a67"/>
<rect x="428.97" width="4.99" height="15.37" fill="#c6506d"/>
<rect x="433.66" width="4.99" height="15.37" fill="#1c1246"/>
<rect x="438.35" width="4.99" height="15.37" fill="#de6763"/>
<rect x="443.05" width="4.99" height="15.37" fill="#e67863"/>
<rect x="447.74" width="4.99" height="15.37" fill="#e67863"/>
<rect x="452.43" width="4.99" height="15.37" fill="#d35a67"/>
<rect x="457.12" width="4.99" height="15.37" fill="#de6763"/>
<rect x="461.82" width="4.99" height="15.37" fill="#411473"/>
<rect x="466.51" width="4.99" height="15.37" fill="#411473"/>
<rect x="471.2" width="4.99" height="15.37" fill="#541c7a"/>
<rect x="475.89" width="4.99" height="15.37" fill="#1c1246"/>
<rect x="480.58" width="4.99" height="15.37" fill="#b34574"/>
<rect x="485.28" width="4.99" height="15.37" fill="#e67863"/>
<rect x="489.97" width="4.99" height="15.37" fill="#d35a67"/>
<rect x="494.66" width="4.99" height="15.37" fill="#d35a67"/>
<rect x="499.35" width="4.99" height="15.37" fill="#d35a67"/>
<rect x="504.05" width="4.99" height="15.37" fill="#d35a67"/>
<rect x="508.74" width="4.99" height="15.37" fill="#de6763"/>
<rect x="513.43" width="4.99" height="15.37" fill="#de6763"/>
<rect x="518.12" width="4.99" height="15.37" fill="#9f3d79"/>
<rect x="522.82" width="4.99" height="15.37" fill="#de6763"/>
<rect x="527.51" width="4.99" height="15.37" fill="#c6506d"/>
<rect x="532.2" width="4.99" height="15.37" fill="#e67863"/>
<rect x="536.89" width="4.99" height="15.37" fill="#8d367c"/>
<rect x="541.58" width="4.99" height="15.37" fill="#541c7a"/>
<rect x="546.28" width="4.99" height="15.37" fill="#67257d"/>
<rect x="550.97" width="4.99" height="15.37" fill="#d35a67"/>
<rect x="555.66" width="4.99" height="15.37" fill="#de6763"/>
<rect x="560.35" width="4.99" height="15.37" fill="#de6763"/>
<rect x="565.05" width="4.99" height="15.37" fill="#c6506d"/>
<rect x="569.74" width="4.99" height="15.37" fill="#411473"/>
<rect x="574.43" width="4.99" height="15.37" fill="#de6763"/>
<rect x="579.12" width="4.99" height="15.37" fill="#b34574"/>
<rect x="583.82" width="4.99" height="15.37" fill="#c6506d"/>
<rect x="588.51" width="4.99" height="15.37" fill="#c6506d"/>
</g>
<g transform="translate(0 69.94)">
<rect x="410.2" width="4.99" height="15.37" fill="#411473"/>
<rect x="414.89" width="4.99" height="15.37" fill="#541c7a"/>
<rect x="419.58" width="4.99" height="15.37" fill="#1c1246"/>
<rect x="424.28" width="4.99" height="15.37" fill="#b34574"/>
<rect x="428.97" width="4.99" height="15.37" fill="#c6506d"/>
<rect x="433.66" width="4.99" height="15.37" fill="#8d367c"/>
<rect x="438.35" width="4.99" height="15.37" fill="#67257d"/>
<rect x="443.05" width="4.99" height="15.37" fill="#8d367c"/>
<rect x="447.74" width="4.99" height="15.37" fill="#541c7a"/>
<rect x="452.43" width="4.99" height="15.37" fill="#b34574"/>
<rect x="457.12" width="4.99" height="15.37" fill="#7a2d7d"/>
<rect x="461.82" width="4.99" height="15.37" fill="#b34574"/>
<rect x="466.51" width="4.99" height="15.37" fill="#de6763"/>
<rect x="471.2" width="4.99" height="15.37" fill="#67257d"/>
<rect x="475.89" width="4.99" height="15.37" fill="#e67863"/>
<rect x="480.58" width="4.99" height="15.37" fill="#8d367c"/>
<rect x="485.28" width="4.99" height="15.37" fill="#b34574"/>
<rect x="489.97" width="4.99" height="15.37" fill="#e98265"/>
<rect x="494.66" width="4.99" height="15.37" fill="#f6cc95"/>
<rect x="499.35" width="4.99" height="15.37" fill="#b34574"/>
<rect x="504.05" width="4.99" height="15.37" fill="#ef9970"/>
<rect x="508.74" width="4.99" height="15.37" fill="#b34574"/>
<rect x="513.43" width="4.99" height="15.37" fill="#e67863"/>
<rect x="518.12" width="4.99" height="15.37" fill="#ef9970"/>
<rect x="522.82" width="4.99" height="15.37" fill="#de6763"/>
<rect x="527.51" width="4.99" height="15.37" fill="#67257d"/>
<rect x="532.2" width="4.99" height="15.37" fill="#b34574"/>
<rect x="536.89" width="4.99" height="15.37" fill="#d35a67"/>
<rect x="541.58" width="4.99" height="15.37" fill="#7a2d7d"/>
<rect x="546.28" width="4.99" height="15.37" fill="#411473"/>
<rect x="550.97" width="4.99" height="15.37" fill="#b34574"/>
<rect x="555.66" width="4.99" height="15.37" fill="#9f3d79"/>
<rect x="560.35" width="4.99" height="15.37" fill="#541c7a"/>
<rect x="565.05" width="4.99" height="15.37" fill="#8d367c"/>
<rect x="569.74" width="4.99" height="15.37" fill="#8d367c"/>
<rect x="574.43" width="4.99" height="15.37" fill="#b34574"/>
<rect x="579.12" width="4.99" height="15.37" fill="#e98265"/>
<rect x="583.82" width="4.99" height="15.37" fill="#d35a67"/>
<rect x="588.51" width="4.99" height="15.37" fill="#ef9970"/>
</g>
<g transform="translate(0 85.01)">
<rect x="410.2" width="4.99" height="15.37" fill="#ef9970"/>
<rect x="414.89" width="4.99" height="15.37" fill="#e98265"/>
<rect x="419.58" width="4.99" height="15.37" fill="#ef9970"/>
<rect x="424.28" width="4.99" height="15.37" fill="#9f3d79"/>
<rect x="428.97" width="4.99" height="15.37" fill="#8d367c"/>
<rect x="433.66" width="4.99" height="15.37" fill="#ef9970"/>
<rect x="438.35" width="4.99" height="15.37" fill="#7a2d7d"/>
<rect x="443.05" width="4.99" height="15.37" fill="#541c7a"/>
<rect x="447.74" width="4.99" height="15.37" fill="#67257d"/>
<rect x="452.43" width="4.99" height="15.37" fill="#7a2d7d"/>
<rect x="457.12" width="4.99" height="15.37" fill="#67257d"/>
<rect x="461.82" width="4.99" height="15.37" fill="#ef9970"/>
<rect x="466.51" width="4.99" height="15.37" fill="#e98265"/>
<rect x="471.2" width="4.99" height="15.37" fill="#ef9970"/>
<rect x="475.89" width="4.99" height="15.37" fill="#ef9970"/>
<rect x="480.58" width="4.99" height="15.37" fill="#b34574"/>
<rect x="485.28" width="4.99" height="15.37" fill="#67257d"/>
<rect x="489.97" width="4.99" height="15.37" fill="#8d367c"/>
<rect x="494.66" width="4.99" height="15.37" fill="#8d367c"/>
<rect x="499.35" width="4.99" height="15.37" fill="#8d367c"/>
<rect x="504.05" width="4.99" height="15.37" fill="#67257d"/>
<rect x="508.74" width="4.99" height="15.37" fill="#67257d"/>
<rect x="513.43" width="4.99" height="15.37" fill="#7a2d7d"/>
<rect x="518.12" width="4.99" height="15.37" fill="#9f3d79"/>
<rect x="522.82" width="4.99" height="15.37" fill="#541c7a"/>
<rect x="527.51" width="4.99" height="15.37" fill="#b34574"/>
<rect x="532.2" width="4.99" height="15.37" fill="#67257d"/>
<rect x="536.89" width="4.99" height="15.37" fill="#b34574"/>
<rect x="541.58" width="4.99" height="15.37" fill="#e98265"/>
<rect x="546.28" width="4.99" height="15.37" fill="#e98265"/>
<rect x="550.97" width="4.99" height="15.37" fill="#8d367c"/>
<rect x="555.66" width="4.99" height="15.37" fill="#9f3d79"/>
<rect x="560.35" width="4.99" height="15.37" fill="#541c7a"/>
<rect x="565.05" width="4.99" height="15.37" fill="#67257d"/>
<rect x="569.74" width="4.99" height="15.37" fill="#f6cc95"/>
<rect x="574.43" width="4.99" height="15.37" fill="#67257d"/>
<rect x="579.12" width="4.99" height="15.37" fill="#9f3d79"/>
<rect x="583.82" width="4.99" height="15.37" fill="#9f3d79"/>
<rect x="588.51" width="4.99" height="15.37" fill="#8d367c"/>
</g>
<g transform="translate(0 100.08)">
<rect x="410.2" width="4.99" height="15.37" fill="#411473"/>
<rect x="414.89" width="4.99" height="15.37" fill="#1c1246"/>
<rect x="419.58" width="4.99" height="15.37" fill="#2e1263"/>
<rect x="424.28" width="4.99" height="15.37" fill="#e67863"/>
<rect x="428.97" width="4.99" height="15.37" fill="#e98265"/>
<rect x="433.66" width="4.99" height="15.37" fill="#67257d"/>
<rect x="438.35" width="4.99" height="15.37" fill="#8d367c"/>
<rect x="443.05" width="4.99" height="15.37" fill="#d35a67"/>
<rect x="447.74" width="4.99" height="15.37" fill="#7a2d7d"/>
<rect x="452.43" width="4.99" height="15.37" fill="#c6506d"/>
<rect x="457.12" width="4.99" height="15.37" fill="#8d367c"/>
<rect x="461.82" width="4.99" height="15.37" fill="#b34574"/>
<rect x="466.51" width="4.99" height="15.37" fill="#ef9970"/>
<rect x="471.2" width="4.99" height="15.37" fill="#7a2d7d"/>
<rect x="475.89" width="4.99" height="15.37" fill="#e98265"/>
<rect x="480.58" width="4.99" height="15.37" fill="#67257d"/>
<rect x="485.28" width="4.99" height="15.37" fill="#b34574"/>
<rect x="489.97" width="4.99" height="15.37" fill="#b34574"/>
<rect x="494.66" width="4.99" height="15.37" fill="#b34574"/>
<rect x="499.35" width="4.99" height="15.37" fill="#b34574"/>
<rect x="504.05" width="4.99" height="15.37" fill="#de6763"/>
<rect x="508.74" width="4.99" height="15.37" fill="#b34574"/>
<rect x="513.43" width="4.99" height="15.37" fill="#de6763"/>
<rect x="518.12" width="4.99" height="15.37" fill="#b34574"/>
<rect x="522.82" width="4.99" height="15.37" fill="#e67863"/>
<rect x="527.51" width="4.99" height="15.37" fill="#67257d"/>
<rect x="532.2" width="4.99" height="15.37" fill="#b34574"/>
<rect x="536.89" width="4.99" height="15.37" fill="#d35a67"/>
<rect x="541.58" width="4.99" height="15.37" fill="#411473"/>
<rect x="546.28" width="4.99" height="15.37" fill="#411473"/>
<rect x="550.97" width="4.99" height="15.37" fill="#de6763"/>
<rect x="555.66" width="4.99" height="15.37" fill="#d35a67"/>
<rect x="560.35" width="4.99" height="15.37" fill="#67257d"/>
<rect x="565.05" width="4.99" height="15.37" fill="#9f3d79"/>
<rect x="569.74" width="4.99" height="15.37" fill="#7a2d7d"/>
<rect x="574.43" width="4.99" height="15.37" fill="#d35a67"/>
<rect x="579.12" width="4.99" height="15.37" fill="#e67863"/>
<rect x="583.82" width="4.99" height="15.37" fill="#de6763"/>
<rect x="588.51" width="4.99" height="15.37" fill="#ef9970"/>
</g>
<g transform="translate(0 115.15)">
<rect x="410.2" width="4.99" height="15.37" fill="#ef9970"/>
<rect x="414.89" width="4.99" height="15.37" fill="#e98265"/>
<rect x="419.58" width="4.99" height="15.37" fill="#ef9970"/>
<rect x="424.28" width="4.99" height="15.37" fill="#9f3d79"/>
<rect x="428.97" width="4.99" height="15.37" fill="#8d367c"/>
<rect x="433.66" width="4.99" height="15.37" fill="#ef9970"/>
<rect x="438.35" width="4.99" height="15.37" fill="#7a2d7d"/>
<rect x="443.05" width="4.99" height="15.37" fill="#541c7a"/>
<rect x="447.74" width="4.99" height="15.37" fill="#67257d"/>
<rect x="452.43" width="4.99" height="15.37" fill="#7a2d7d"/>
<rect x="457.12" width="4.99" height="15.37" fill="#67257d"/>
<rect x="461.82" width="4.99" height="15.37" fill="#ef9970"/>
<rect x="466.51" width="4.99" height="15.37" fill="#e98265"/>
<rect x="471.2" width="4.99" height="15.37" fill="#ef9970"/>
<rect x="475.89" width="4.99" height="15.37" fill="#ef9970"/>
<rect x="480.58" width="4.99" height="15.37" fill="#b34574"/>
<rect x="485.28" width="4.99" height="15.37" fill="#67257d"/>
<rect x="489.97" width="4.99" height="15.37" fill="#8d367c"/>
<rect x="494.66" width="4.99" height="15.37" fill="#8d367c"/>
<rect x="499.35" width="4.99" height="15.37" fill="#8d367c"/>
<rect x="504.05" width="4.99" height="15.37" fill="#67257d"/>
<rect x="508.74" width="4.99" height="15.37" fill="#67257d"/>
<rect x="513.43" width="4.99" height="15.37" fill="#7a2d7d"/>
<rect x="518.12" width="4.99" height="15.37" fill="#9f3d79"/>
<rect x="522.82" width="4.99" height="15.37" fill="#541c7a"/>
<rect x="527.51" width="4.99" height="15.37" fill="#b34574"/>
<rect x="532.2" width="4.99" height="15.37" fill="#67257d"/>
<rect x="536.89" width="4.99" height="15.37" fill="#b34574"/>
<rect x="541.58" width="4.99" height="15.37" fill="#e98265"/>
<rect x="546.28" width="4.99" height="15.37" fill="#e98265"/>
<rect x="550.97" width="4.99" height="15.37" fill="#8d367c"/>
<rect x="555.66" width="4.99" height="15.37" fill="#9f3d79"/>
<rect x="560.35" width="4.99" height="15.37" fill="#541c7a"/>
<rect x="565.05" width="4.99" height="15.37" fill="#67257d"/>
<rect x="569.74" width="4.99" height="15.37" fill="#f6cc95"/>
<rect x="574.43" width="4.99" height="15.37" fill="#67257d"/>
<rect x="579.12" width="4.99" height="15.37" fill="#9f3d79"/>
<rect x="583.82" width="4.99" height="15.37" fill="#9f3d79"/>
<rect x="588.51" width="4.99" height="15.37" fill="#8d367c"/>
</g>
<g transform="translate(0 130.22)">
<rect x="410.2" width="4.99" height="15.37" fill="#8d367c"/>
<rect x="414.89" width="4.99" height="15.37" fill="#9f3d79"/>
<rect x="419.58" width="4.99" height="15.37" fill="#67257d"/>
<rect x="424.28" width="4.99" height="15.37" fill="#ef9970"/>
<rect x="428.97" width="4.99" height="15.37" fill="#8d367c"/>
<rect x="433.66" width="4.99" height="15.37" fill="#541c7a"/>
<rect x="438.35" width="4.99" height="15.37" fill="#d35a67"/>
<rect x="443.05" width="4.99" height="15.37" fill="#541c7a"/>
<rect x="447.74" width="4.99" height="15.37" fill="#8d367c"/>
<rect x="452.43" width="4.99" height="15.37" fill="#8d367c"/>
<rect x="457.12" width="4.99" height="15.37" fill="#67257d"/>
<rect x="461.82" width="4.99" height="15.37" fill="#67257d"/>
<rect x="466.51" width="4.99" height="15.37" fill="#541c7a"/>
<rect x="471.2" width="4.99" height="15.37" fill="#7a2d7d"/>
<rect x="475.89" width="4.99" height="15.37" fill="#411473"/>
<rect x="480.58" width="4.99" height="15.37" fill="#b34574"/>
<rect x="485.28" width="4.99" height="15.37" fill="#b34574"/>
<rect x="489.97" width="4.99" height="15.37" fill="#d35a67"/>
<rect x="494.66" width="4.99" height="15.37" fill="#8d367c"/>
<rect x="499.35" width="4.99" height="15.37" fill="#b34574"/>
<rect x="504.05" width="4.99" height="15.37" fill="#b34574"/>
<rect x="508.74" width="4.99" height="15.37" fill="#e67863"/>
<rect x="513.43" width="4.99" height="15.37" fill="#e98265"/>
<rect x="518.12" width="4.99" height="15.37" fill="#67257d"/>
<rect x="522.82" width="4.99" height="15.37" fill="#9f3d79"/>
<rect x="527.51" width="4.99" height="15.37" fill="#e67863"/>
<rect x="532.2" width="4.99" height="15.37" fill="#e98265"/>
<rect x="536.89" width="4.99" height="15.37" fill="#67257d"/>
<rect x="541.58" width="4.99" height="15.37" fill="#67257d"/>
<rect x="546.28" width="4.99" height="15.37" fill="#8d367c"/>
<rect x="550.97" width="4.99" height="15.37" fill="#e67863"/>
<rect x="555.66" width="4.99" height="15.37" fill="#f6cc95"/>
<rect x="560.35" width="4.99" height="15.37" fill="#67257d"/>
<rect x="565.05" width="4.99" height="15.37" fill="#67257d"/>
<rect x="569.74" width="4.99" height="15.37" fill="#7a2d7d"/>
<rect x="574.43" width="4.99" height="15.37" fill="#e98265"/>
<rect x="579.12" width="4.99" height="15.37" fill="#b34574"/>
<rect x="583.82" width="4.99" height="15.37" fill="#ef9970"/>
<rect x="588.51" width="4.99" height="15.37" fill="#ef9970"/>
</g>
<g transform="translate(0 145.29)">
<rect x="410.2" width="4.99" height="15.37" fill="#8d367c"/>
<rect x="414.89" width="4.99" height="15.37" fill="#8d367c"/>
<rect x="419.58" width="4.99" height="15.37" fill="#67257d"/>
<rect x="424.28" width="4.99" height="15.37" fill="#ef9970"/>
<rect x="428.97" width="4.99" height="15.37" fill="#8d367c"/>
<rect x="433.66" width="4.99" height="15.37" fill="#411473"/>
<rect x="438.35" width="4.99" height="15.37" fill="#d35a67"/>
<rect x="443.05" width="4.99" height="15.37" fill="#67257d"/>
<rect x="447.74" width="4.99" height="15.37" fill="#9f3d79"/>
<rect x="452.43" width="4.99" height="15.37" fill="#8d367c"/>
<rect x="457.12" width="4.99" height="15.37" fill="#67257d"/>
<rect x="461.82" width="4.99" height="15.37" fill="#67257d"/>
<rect x="466.51" width="4.99" height="15.37" fill="#541c7a"/>
<rect x="471.2" width="4.99" height="15.37" fill="#67257d"/>
<rect x="475.89" width="4.99" height="15.37" fill="#411473"/>
<rect x="480.58" width="4.99" height="15.37" fill="#b34574"/>
<rect x="485.28" width="4.99" height="15.37" fill="#b34574"/>
<rect x="489.97" width="4.99" height="15.37" fill="#d35a67"/>
<rect x="494.66" width="4.99" height="15.37" fill="#9f3d79"/>
<rect x="499.35" width="4.99" height="15.37" fill="#b34574"/>
<rect x="504.05" width="4.99" height="15.37" fill="#b34574"/>
<rect x="508.74" width="4.99" height="15.37" fill="#e67863"/>
<rect x="513.43" width="4.99" height="15.37" fill="#e98265"/>
<rect x="518.12" width="4.99" height="15.37" fill="#67257d"/>
<rect x="522.82" width="4.99" height="15.37" fill="#9f3d79"/>
<rect x="527.51" width="4.99" height="15.37" fill="#e67863"/>
<rect x="532.2" width="4.99" height="15.37" fill="#e98265"/>
<rect x="536.89" width="4.99" height="15.37" fill="#67257d"/>
<rect x="541.58" width="4.99" height="15.37" fill="#541c7a"/>
<rect x="546.28" width="4.99" height="15.37" fill="#7a2d7d"/>
<rect x="550.97" width="4.99" height="15.37" fill="#e67863"/>
<rect x="555.66" width="4.99" height="15.37" fill="#f6cc95"/>
<rect x="560.35" width="4.99" height="15.37" fill="#67257d"/>
<rect x="565.05" width="4.99" height="15.37" fill="#7a2d7d"/>
<rect x="569.74" width="4.99" height="15.37" fill="#67257d"/>
<rect x="574.43" width="4.99" height="15.37" fill="#e98265"/>
<rect x="579.12" width="4.99" height="15.37" fill="#b34574"/>
<rect x="583.82" width="4.99" height="15.37" fill="#ef9970"/>
<rect x="588.51" width="4.99" height="15.37" fill="#ef9970"/>
</g>
<g transform="translate(0 160.36)">
<rect x="410.2" width="4.99" height="15.37" fill="#8d367c"/>
<rect x="414.89" width="4.99" height="15.37" fill="#d35a67"/>
<rect x="419.58" width="4.99" height="15.37" fill="#67257d"/>
<rect x="424.28" width="4.99" height="15.37" fill="#9f3d79"/>
<rect x="428.97" width="4.99" height="15.37" fill="#7a2d7d"/>
<rect x="433.66" width="4.99" height="15.37" fill="#67257d"/>
<rect x="438.35" width="4.99" height="15.37" fill="#9f3d79"/>
<rect x="443.05" width="4.99" height="15.37" fill="#541c7a"/>
<rect x="447.74" width="4.99" height="15.37" fill="#67257d"/>
<rect x="452.43" width="4.99" height="15.37" fill="#9f3d79"/>
<rect x="457.12" width="4.99" height="15.37" fill="#7a2d7d"/>
<rect x="461.82" width="4.99" height="15.37" fill="#7a2d7d"/>
<rect x="466.51" width="4.99" height="15.37" fill="#67257d"/>
<rect x="471.2" width="4.99" height="15.37" fill="#7a2d7d"/>
<rect x="475.89" width="4.99" height="15.37" fill="#2e1263"/>
<rect x="480.58" width="4.99" height="15.37" fill="#c6506d"/>
<rect x="485.28" width="4.99" height="15.37" fill="#d35a67"/>
<rect x="489.97" width="4.99" height="15.37" fill="#67257d"/>
<rect x="494.66" width="4.99" height="15.37" fill="#67257d"/>
<rect x="499.35" width="4.99" height="15.37" fill="#d35a67"/>
<rect x="504.05" width="4.99" height="15.37" fill="#9f3d79"/>
<rect x="508.74" width="4.99" height="15.37" fill="#ef9970"/>
<rect x="513.43" width="4.99" height="15.37" fill="#de6763"/>
<rect x="518.12" width="4.99" height="15.37" fill="#7a2d7d"/>
<rect x="522.82" width="4.99" height="15.37" fill="#8d367c"/>
<rect x="527.51" width="4.99" height="15.37" fill="#de6763"/>
<rect x="532.2" width="4.99" height="15.37" fill="#ef9970"/>
<rect x="536.89" width="4.99" height="15.37" fill="#7a2d7d"/>
<rect x="541.58" width="4.99" height="15.37" fill="#9f3d79"/>
<rect x="546.28" width="4.99" height="15.37" fill="#8d367c"/>
<rect x="550.97" width="4.99" height="15.37" fill="#8d367c"/>
<rect x="555.66" width="4.99" height="15.37" fill="#b34574"/>
<rect x="560.35" width="4.99" height="15.37" fill="#67257d"/>
<rect x="565.05" width="4.99" height="15.37" fill="#67257d"/>
<rect x="569.74" width="4.99" height="15.37" fill="#67257d"/>
<rect x="574.43" width="4.99" height="15.37" fill="#f2b07f"/>
<rect x="579.12" width="4.99" height="15.37" fill="#b34574"/>
<rect x="583.82" width="4.99" height="15.37" fill="#f9e8b0"/>
<rect x="588.51" width="4.99" height="15.37" fill="#ef9970"/>
</g>
<g transform="translate(0 175.43)">
<rect x="410.2" width="4.99" height="15.37" fill="#8d367c"/>
<rect x="414.89" width="4.99" height="15.37" fill="#9f3d79"/>
<rect x="419.58" width="4.99" height="15.37" fill="#67257d"/>
<rect x="424.28" width="4.99" height="15.37" fill="#ef9970"/>
<rect x="428.97" width="4.99" height="15.37" fill="#8d367c"/>
<rect x="433.66" width="4.99" height="15.37" fill="#541c7a"/>
<rect x="438.35" width="4.99" height="15.37" fill="#d35a67"/>
<rect x="443.05" width="4.99" height="15.37" fill="#541c7a"/>
<rect x="447.74" width="4.99" height="15.37" fill="#8d367c"/>
<rect x="452.43" width="4.99" height="15.37" fill="#9f3d79"/>
<rect x="457.12" width="4.99" height="15.37" fill="#67257d"/>
<rect x="461.82" width="4.99" height="15.37" fill="#67257d"/>
<rect x="466.51" width="4.99" height="15.37" fill="#67257d"/>
<rect x="471.2" width="4.99" height="15.37" fill="#8d367c"/>
<rect x="475.89" width="4.99" height="15.37" fill="#541c7a"/>
<rect x="480.58" width="4.99" height="15.37" fill="#b34574"/>
<rect x="485.28" width="4.99" height="15.37" fill="#b34574"/>
<rect x="489.97" width="4.99" height="15.37" fill="#d35a67"/>
<rect x="494.66" width="4.99" height="15.37" fill="#8d367c"/>
<rect x="499.35" width="4.99" height="15.37" fill="#b34574"/>
<rect x="504.05" width="4.99" height="15.37" fill="#b34574"/>
<rect x="508.74" width="4.99" height="15.37" fill="#de6763"/>
<rect x="513.43" width="4.99" height="15.37" fill="#e67863"/>
<rect x="518.12" width="4.99" height="15.37" fill="#67257d"/>
<rect x="522.82" width="4.99" height="15.37" fill="#8d367c"/>
<rect x="527.51" width="4.99" height="15.37" fill="#de6763"/>
<rect x="532.2" width="4.99" height="15.37" fill="#e67863"/>
<rect x="536.89" width="4.99" height="15.37" fill="#67257d"/>
<rect x="541.58" width="4.99" height="15.37" fill="#67257d"/>
<rect x="546.28" width="4.99" height="15.37" fill="#7a2d7d"/>
<rect x="550.97" width="4.99" height="15.37" fill="#e67863"/>
<rect x="555.66" width="4.99" height="15.37" fill="#f6cc95"/>
<rect x="560.35" width="4.99" height="15.37" fill="#541c7a"/>
<rect x="565.05" width="4.99" height="15.37" fill="#541c7a"/>
<rect x="569.74" width="4.99" height="15.37" fill="#7a2d7d"/>
<rect x="574.43" width="4.99" height="15.37" fill="#e67863"/>
<rect x="579.12" width="4.99" height="15.37" fill="#b34574"/>
<rect x="583.82" width="4.99" height="15.37" fill="#ef9970"/>
<rect x="588.51" width="4.99" height="15.37" fill="#ef9970"/>
</g>
<g transform="translate(0 190.5)">
<rect x="410.2" width="4.99" height="15.37" fill="#9f3d79"/>
<rect x="414.89" width="4.99" height="15.37" fill="#d35a67"/>
<rect x="419.58" width="4.99" height="15.37" fill="#7a2d7d"/>
<rect x="424.28" width="4.99" height="15.37" fill="#b34574"/>
<rect x="428.97" width="4.99" height="15.37" fill="#7a2d7d"/>
<rect x="433.66" width="4.99" height="15.37" fill="#8d367c"/>
<rect x="438.35" width="4.99" height="15.37" fill="#8d367c"/>
<rect x="443.05" width="4.99" height="15.37" fill="#411473"/>
<rect x="447.74" width="4.99" height="15.37" fill="#541c7a"/>
<rect x="452.43" width="4.99" height="15.37" fill="#7a2d7d"/>
<rect x="457.12" width="4.99" height="15.37" fill="#67257d"/>
<rect x="461.82" width="4.99" height="15.37" fill="#8d367c"/>
<rect x="466.51" width="4.99" height="15.37" fill="#7a2d7d"/>
<rect x="471.2" width="4.99" height="15.37" fill="#8d367c"/>
<rect x="475.89" width="4.99" height="15.37" fill="#411473"/>
<rect x="480.58" width="4.99" height="15.37" fill="#d35a67"/>
<rect x="485.28" width="4.99" height="15.37" fill="#c6506d"/>
<rect x="489.97" width="4.99" height="15.37" fill="#b34574"/>
<rect x="494.66" width="4.99" height="15.37" fill="#7a2d7d"/>
<rect x="499.35" width="4.99" height="15.37" fill="#9f3d79"/>
<rect x="504.05" width="4.99" height="15.37" fill="#8d367c"/>
<rect x="508.74" width="4.99" height="15.37" fill="#de6763"/>
<rect x="513.43" width="4.99" height="15.37" fill="#ef9970"/>
<rect x="518.12" width="4.99" height="15.37" fill="#7a2d7d"/>
<rect x="522.82" width="4.99" height="15.37" fill="#8d367c"/>
<rect x="527.51" width="4.99" height="15.37" fill="#e67863"/>
<rect x="532.2" width="4.99" height="15.37" fill="#ef9970"/>
<rect x="536.89" width="4.99" height="15.37" fill="#8d367c"/>
<rect x="541.58" width="4.99" height="15.37" fill="#9f3d79"/>
<rect x="546.28" width="4.99" height="15.37" fill="#9f3d79"/>
<rect x="550.97" width="4.99" height="15.37" fill="#8d367c"/>
<rect x="555.66" width="4.99" height="15.37" fill="#d35a67"/>
<rect x="560.35" width="4.99" height="15.37" fill="#411473"/>
<rect x="565.05" width="4.99" height="15.37" fill="#411473"/>
<rect x="569.74" width="4.99" height="15.37" fill="#8d367c"/>
<rect x="574.43" width="4.99" height="15.37" fill="#e67863"/>
<rect x="579.12" width="4.99" height="15.37" fill="#b34574"/>
<rect x="583.82" width="4.99" height="15.37" fill="#fcfdc6"/>
<rect x="588.51" width="4.99" height="15.37" fill="#f9e8b0"/>
</g>
<g transform="translate(0 205.57)">
<rect x="410.2" width="4.99" height="15.37" fill="#411473"/>
<rect x="414.89" width="4.99" height="15.37" fill="#b34574"/>
<rect x="419.58" width="4.99" height="15.37" fill="#060518"/>
<rect x="424.28" width="4.99" height="15.37" fill="#c6506d"/>
<rect x="428.97" width="4.99" height="15.37" fill="#c6506d"/>
<rect x="433.66" width="4.99" height="15.37" fill="#d35a67"/>
<rect x="438.35" width="4.99" height="15.37" fill="#c6506d"/>
<rect x="443.05" width="4.99" height="15.37" fill="#b34574"/>
<rect x="447.74" width="4.99" height="15.37" fill="#67257d"/>
<rect x="452.43" width="4.99" height="15.37" fill="#d35a67"/>
<rect x="457.12" width="4.99" height="15.37" fill="#8d367c"/>
<rect x="461.82" width="4.99" height="15.37" fill="#ef9970"/>
<rect x="466.51" width="4.99" height="15.37" fill="#f6cc95"/>
<rect x="471.2" width="4.99" height="15.37" fill="#8d367c"/>
<rect x="475.89" width="4.99" height="15.37" fill="#b34574"/>
<rect x="480.58" width="4.99" height="15.37" fill="#b34574"/>
<rect x="485.28" width="4.99" height="15.37" fill="#9f3d79"/>
<rect x="489.97" width="4.99" height="15.37" fill="#411473"/>
<rect x="494.66" width="4.99" height="15.37" fill="#2e1263"/>
<rect x="499.35" width="4.99" height="15.37" fill="#b34574"/>
<rect x="504.05" width="4.99" height="15.37" fill="#7a2d7d"/>
<rect x="508.74" width="4.99" height="15.37" fill="#e67863"/>
<rect x="513.43" width="4.99" height="15.37" fill="#c6506d"/>
<rect x="518.12" width="4.99" height="15.37" fill="#411473"/>
<rect x="522.82" width="4.99" height="15.37" fill="#b34574"/>
<rect x="527.51" width="4.99" height="15.37" fill="#7a2d7d"/>
<rect x="532.2" width="4.99" height="15.37" fill="#e67863"/>
<rect x="536.89" width="4.99" height="15.37" fill="#541c7a"/>
<rect x="541.58" width="4.99" height="15.37" fill="#de6763"/>
<rect x="546.28" width="4.99" height="15.37" fill="#8d367c"/>
<rect x="550.97" width="4.99" height="15.37" fill="#e67863"/>
<rect x="555.66" width="4.99" height="15.37" fill="#d35a67"/>
<rect x="560.35" width="4.99" height="15.37" fill="#8d367c"/>
<rect x="565.05" width="4.99" height="15.37" fill="#9f3d79"/>
<rect x="569.74" width="4.99" height="15.37" fill="#9f3d79"/>
<rect x="574.43" width="4.99" height="15.37" fill="#ef9970"/>
<rect x="579.12" width="4.99" height="15.37" fill="#9f3d79"/>
<rect x="583.82" width="4.99" height="15.37" fill="#9f3d79"/>
<rect x="588.51" width="4.99" height="15.37" fill="#de6763"/>
</g>
<g transform="translate(0 220.64)">
<rect x="410.2" width="4.99" height="15.37" fill="#7a2d7d"/>
<rect x="414.89" width="4.99" height="15.37" fill="#8d367c"/>
<rect x="419.58" width="4.99" height="15.37" fill="#67257d"/>
<rect x="424.28" width="4.99" height="15.37" fill="#ef9970"/>
<rect x="428.97" width="4.99" height="15.37" fill="#8d367c"/>
<rect x="433.66" width="4.99" height="15.37" fill="#411473"/>
<rect x="438.35" width="4.99" height="15.37" fill="#d35a67"/>
<rect x="443.05" width="4.99" height="15.37" fill="#67257d"/>
<rect x="447.74" width="4.99" height="15.37" fill="#8d367c"/>
<rect x="452.43" width="4.99" height="15.37" fill="#9f3d79"/>
<rect x="457.12" width="4.99" height="15.37" fill="#7a2d7d"/>
<rect x="461.82" width="4.99" height="15.37" fill="#67257d"/>
<rect x="466.51" width="4.99" height="15.37" fill="#67257d"/>
<rect x="471.2" width="4.99" height="15.37" fill="#7a2d7d"/>
<rect x="475.89" width="4.99" height="15.37" fill="#541c7a"/>
<rect x="480.58" width="4.99" height="15.37" fill="#b34574"/>
<rect x="485.28" width="4.99" height="15.37" fill="#b34574"/>
<rect x="489.97" width="4.99" height="15.37" fill="#d35a67"/>
<rect x="494.66" width="4.99" height="15.37" fill="#9f3d79"/>
<rect x="499.35" width="4.99" height="15.37" fill="#b34574"/>
<rect x="504.05" width="4.99" height="15.37" fill="#b34574"/>
<rect x="508.74" width="4.99" height="15.37" fill="#de6763"/>
<rect x="513.43" width="4.99" height="15.37" fill="#e67863"/>
<rect x="518.12" width="4.99" height="15.37" fill="#7a2d7d"/>
<rect x="522.82" width="4.99" height="15.37" fill="#9f3d79"/>
<rect x="527.51" width="4.99" height="15.37" fill="#de6763"/>
<rect x="532.2" width="4.99" height="15.37" fill="#e67863"/>
<rect x="536.89" width="4.99" height="15.37" fill="#67257d"/>
<rect x="541.58" width="4.99" height="15.37" fill="#67257d"/>
<rect x="546.28" width="4.99" height="15.37" fill="#7a2d7d"/>
<rect x="550.97" width="4.99" height="15.37" fill="#e67863"/>
<rect x="555.66" width="4.99" height="15.37" fill="#f6cc95"/>
<rect x="560.35" width="4.99" height="15.37" fill="#67257d"/>
<rect x="565.05" width="4.99" height="15.37" fill="#67257d"/>
<rect x="569.74" width="4.99" height="15.37" fill="#67257d"/>
<rect x="574.43" width="4.99" height="15.37" fill="#e98265"/>
<rect x="579.12" width="4.99" height="15.37" fill="#b34574"/>
<rect x="583.82" width="4.99" height="15.37" fill="#ef9970"/>
<rect x="588.51" width="4.99" height="15.37" fill="#ef9970"/>
</g>
<g transform="translate(0 235.71)">
<rect x="410.2" width="4.99" height="15.37" fill="#f2b07f"/>
<rect x="414.89" width="4.99" height="15.37" fill="#d35a67"/>
<rect x="419.58" width="4.99" height="15.37" fill="#de6763"/>
<rect x="424.28" width="4.99" height="15.37" fill="#2e1263"/>
<rect x="428.97" width="4.99" height="15.37" fill="#67257d"/>
<rect x="433.66" width="4.99" height="15.37" fill="#ef9970"/>
<rect x="438.35" width="4.99" height="15.37" fill="#9f3d79"/>
<rect x="443.05" width="4.99" height="15.37" fill="#8d367c"/>
<rect x="447.74" width="4.99" height="15.37" fill="#d35a67"/>
<rect x="452.43" width="4.99" height="15.37" fill="#8d367c"/>
<rect x="457.12" width="4.99" height="15.37" fill="#9f3d79"/>
<rect x="461.82" width="4.99" height="15.37" fill="#e67863"/>
<rect x="466.51" width="4.99" height="15.37" fill="#1c1246"/>
<rect x="471.2" width="4.99" height="15.37" fill="#7a2d7d"/>
<rect x="475.89" width="4.99" height="15.37" fill="#b34574"/>
<rect x="480.58" width="4.99" height="15.37" fill="#ef9970"/>
<rect x="485.28" width="4.99" height="15.37" fill="#67257d"/>
<rect x="489.97" width="4.99" height="15.37" fill="#67257d"/>
<rect x="494.66" width="4.99" height="15.37" fill="#8d367c"/>
<rect x="499.35" width="4.99" height="15.37" fill="#8d367c"/>
<rect x="504.05" width="4.99" height="15.37" fill="#8d367c"/>
<rect x="508.74" width="4.99" height="15.37" fill="#67257d"/>
<rect x="513.43" width="4.99" height="15.37" fill="#c6506d"/>
<rect x="518.12" width="4.99" height="15.37" fill="#67257d"/>
<rect x="522.82" width="4.99" height="15.37" fill="#67257d"/>
<rect x="527.51" width="4.99" height="15.37" fill="#f6cc95"/>
<rect x="532.2" width="4.99" height="15.37" fill="#b34574"/>
<rect x="536.89" width="4.99" height="15.37" fill="#ef9970"/>
<rect x="541.58" width="4.99" height="15.37" fill="#c6506d"/>
<rect x="546.28" width="4.99" height="15.37" fill="#b34574"/>
<rect x="550.97" width="4.99" height="15.37" fill="#67257d"/>
<rect x="555.66" width="4.99" height="15.37" fill="#67257d"/>
<rect x="560.35" width="4.99" height="15.37" fill="#7a2d7d"/>
<rect x="565.05" width="4.99" height="15.37" fill="#7a2d7d"/>
<rect x="569.74" width="4.99" height="15.37" fill="#de6763"/>
<rect x="574.43" width="4.99" height="15.37" fill="#411473"/>
<rect x="579.12" width="4.99" height="15.37" fill="#b34574"/>
<rect x="583.82" width="4.99" height="15.37" fill="#d35a67"/>
<rect x="588.51" width="4.99" height="15.37" fill="#b34574"/>
</g>
<g transform="translate(0 250.78)">
<rect x="410.2" width="4.99" height="15.37" fill="#7a2d7d"/>
<rect x="414.89" width="4.99" height="15.37" fill="#c6506d"/>
<rect x="419.58" width="4.99" height="15.37" fill="#67257d"/>
<rect x="424.28" width="4.99" height="15.37" fill="#c6506d"/>
<rect x="428.97" width="4.99" height="15.37" fill="#8d367c"/>
<rect x="433.66" width="4.99" height="15.37" fill="#411473"/>
<rect x="438.35" width="4.99" height="15.37" fill="#de6763"/>
<rect x="443.05" width="4.99" height="15.37" fill="#8d367c"/>
<rect x="447.74" width="4.99" height="15.37" fill="#de6763"/>
<rect x="452.43" width="4.99" height="15.37" fill="#e67863"/>
<rect x="457.12" width="4.99" height="15.37" fill="#c6506d"/>
<rect x="461.82" width="4.99" height="15.37" fill="#67257d"/>
<rect x="466.51" width="4.99" height="15.37" fill="#67257d"/>
<rect x="471.2" width="4.99" height="15.37" fill="#67257d"/>
<rect x="475.89" width="4.99" height="15.37" fill="#000003"/>
<rect x="480.58" width="4.99" height="15.37" fill="#8d367c"/>
<rect x="485.28" width="4.99" height="15.37" fill="#e98265"/>
<rect x="489.97" width="4.99" height="15.37" fill="#541c7a"/>
<rect x="494.66" width="4.99" height="15.37" fill="#8d367c"/>
<rect x="499.35" width="4.99" height="15.37" fill="#e67863"/>
<rect x="504.05" width="4.99" height="15.37" fill="#8d367c"/>
<rect x="508.74" width="4.99" height="15.37" fill="#ef9970"/>
<rect x="513.43" width="4.99" height="15.37" fill="#b34574"/>
<rect x="518.12" width="4.99" height="15.37" fill="#8d367c"/>
<rect x="522.82" width="4.99" height="15.37" fill="#8d367c"/>
<rect x="527.51" width="4.99" height="15.37" fill="#b34574"/>
<rect x="532.2" width="4.99" height="15.37" fill="#de6763"/>
<rect x="536.89" width="4.99" height="15.37" fill="#541c7a"/>
<rect x="541.58" width="4.99" height="15.37" fill="#8d367c"/>
<rect x="546.28" width="4.99" height="15.37" fill="#8d367c"/>
<rect x="550.97" width="4.99" height="15.37" fill="#c6506d"/>
<rect x="555.66" width="4.99" height="15.37" fill="#b34574"/>
<rect x="560.35" width="4.99" height="15.37" fill="#f6cc95"/>
<rect x="565.05" width="4.99" height="15.37" fill="#b34574"/>
<rect x="569.74" width="4.99" height="15.37" fill="#411473"/>
<rect x="574.43" width="4.99" height="15.37" fill="#f6cc95"/>
<rect x="579.12" width="4.99" height="15.37" fill="#9f3d79"/>
<rect x="583.82" width="4.99" height="15.37" fill="#e67863"/>
<rect x="588.51" width="4.99" height="15.37" fill="#8d367c"/>
</g>
<g transform="translate(0 285)">
<rect x="410.2" width="4.99" height="16.57" fill="#d35a67"/>
<rect x="414.89" width="4.99" height="16.57" fill="#8d367c"/>
<rect x="419.58" width="4.99" height="16.57" fill="#c6506d"/>
<rect x="424.28" width="4.99" height="16.57" fill="#de6763"/>
<rect x="428.97" width="4.99" height="16.57" fill="#f6cc95"/>
<rect x="433.66" width="4.99" height="16.57" fill="#9f3d79"/>
<rect x="438.35" width="4.99" height="16.57" fill="#b34574"/>
<rect x="443.05" width="4.99" height="16.57" fill="#541c7a"/>
<rect x="447.74" width="4.99" height="16.57" fill="#67257d"/>
<rect x="452.43" width="4.99" height="16.57" fill="#9f3d79"/>
<rect x="457.12" width="4.99" height="16.57" fill="#b34574"/>
<rect x="461.82" width="4.99" height="16.57" fill="#67257d"/>
<rect x="466.51" width="4.99" height="16.57" fill="#f9e8b0"/>
<rect x="471.2" width="4.99" height="16.57" fill="#ef9970"/>
<rect x="475.89" width="4.99" height="16.57" fill="#541c7a"/>
<rect x="480.58" width="4.99" height="16.57" fill="#9f3d79"/>
<rect x="485.28" width="4.99" height="16.57" fill="#e98265"/>
<rect x="489.97" width="4.99" height="16.57" fill="#67257d"/>
<rect x="494.66" width="4.99" height="16.57" fill="#7a2d7d"/>
<rect x="499.35" width="4.99" height="16.57" fill="#9f3d79"/>
<rect x="504.05" width="4.99" height="16.57" fill="#d35a67"/>
<rect x="508.74" width="4.99" height="16.57" fill="#9f3d79"/>
<rect x="513.43" width="4.99" height="16.57" fill="#411473"/>
<rect x="518.12" width="4.99" height="16.57" fill="#7a2d7d"/>
<rect x="522.82" width="4.99" height="16.57" fill="#7a2d7d"/>
<rect x="527.51" width="4.99" height="16.57" fill="#67257d"/>
<rect x="532.2" width="4.99" height="16.57" fill="#7a2d7d"/>
<rect x="536.89" width="4.99" height="16.57" fill="#d35a67"/>
<rect x="541.58" width="4.99" height="16.57" fill="#b34574"/>
<rect x="546.28" width="4.99" height="16.57" fill="#e67863"/>
<rect x="550.97" width="4.99" height="16.57" fill="#d35a67"/>
<rect x="555.66" width="4.99" height="16.57" fill="#8d367c"/>
<rect x="560.35" width="4.99" height="16.57" fill="#541c7a"/>
<rect x="565.05" width="4.99" height="16.57" fill="#d35a67"/>
<rect x="569.74" width="4.99" height="16.57" fill="#541c7a"/>
<rect x="574.43" width="4.99" height="16.57" fill="#ef9970"/>
<rect x="579.12" width="4.99" height="16.57" fill="#8d367c"/>
<rect x="583.82" width="4.99" height="16.57" fill="#9f3d79"/>
<rect x="588.51" width="4.99" height="16.57" fill="#8d367c"/>
</g>
<g transform="translate(0 301.27)">
<rect x="410.2" width="4.99" height="16.57" fill="#9f3d79"/>
<rect x="414.89" width="4.99" height="16.57" fill="#d35a67"/>
<rect x="419.58" width="4.99" height="16.57" fill="#541c7a"/>
<rect x="424.28" width="4.99" height="16.57" fill="#67257d"/>
<rect x="428.97" width="4.99" height="16.57" fill="#7a2d7d"/>
<rect x="433.66" width="4.99" height="16.57" fill="#9f3d79"/>
<rect x="438.35" width="4.99" height="16.57" fill="#7a2d7d"/>
<rect x="443.05" width="4.99" height="16.57" fill="#d35a67"/>
<rect x="447.74" width="4.99" height="16.57" fill="#ef9970"/>
<rect x="452.43" width="4.99" height="16.57" fill="#c6506d"/>
<rect x="457.12" width="4.99" height="16.57" fill="#b34574"/>
<rect x="461.82" width="4.99" height="16.57" fill="#7a2d7d"/>
<rect x="466.51" width="4.99" height="16.57" fill="#f2b07f"/>
<rect x="471.2" width="4.99" height="16.57" fill="#9f3d79"/>
<rect x="475.89" width="4.99" height="16.57" fill="#fcfdc6"/>
<rect x="480.58" width="4.99" height="16.57" fill="#c6506d"/>
<rect x="485.28" width="4.99" height="16.57" fill="#67257d"/>
<rect x="489.97" width="4.99" height="16.57" fill="#67257d"/>
<rect x="494.66" width="4.99" height="16.57" fill="#67257d"/>
<rect x="499.35" width="4.99" height="16.57" fill="#8d367c"/>
<rect x="504.05" width="4.99" height="16.57" fill="#8d367c"/>
<rect x="508.74" width="4.99" height="16.57" fill="#f2b07f"/>
<rect x="513.43" width="4.99" height="16.57" fill="#7a2d7d"/>
<rect x="518.12" width="4.99" height="16.57" fill="#9f3d79"/>
<rect x="522.82" width="4.99" height="16.57" fill="#9f3d79"/>
<rect x="527.51" width="4.99" height="16.57" fill="#67257d"/>
<rect x="532.2" width="4.99" height="16.57" fill="#7a2d7d"/>
<rect x="536.89" width="4.99" height="16.57" fill="#7a2d7d"/>
<rect x="541.58" width="4.99" height="16.57" fill="#9f3d79"/>
<rect x="546.28" width="4.99" height="16.57" fill="#8d367c"/>
<rect x="550.97" width="4.99" height="16.57" fill="#7a2d7d"/>
<rect x="555.66" width="4.99" height="16.57" fill="#7a2d7d"/>
<rect x="560.35" width="4.99" height="16.57" fill="#e67863"/>
<rect x="565.05" width="4.99" height="16.57" fill="#8d367c"/>
<rect x="569.74" width="4.99" height="16.57" fill="#67257d"/>
<rect x="574.43" width="4.99" height="16.57" fill="#9f3d79"/>
<rect x="579.12" width="4.99" height="16.57" fill="#9f3d79"/>
<rect x="583.82" width="4.99" height="16.57" fill="#8d367c"/>
<rect x="588.51" width="4.99" height="16.57" fill="#8d367c"/>
</g>
<g transform="translate(0 317.55)">
<rect x="410.2" width="4.99" height="16.57" fill="#9f3d79"/>
<rect x="414.89" width="4.99" height="16.57" fill="#7a2d7d"/>
<rect x="419.58" width="4.99" height="16.57" fill="#de6763"/>
<rect x="424.28" width="4.99" height="16.57" fill="#8d367c"/>
<rect x="428.97" width="4.99" height="16.57" fill="#de6763"/>
<rect x="433.66" width="4.99" height="16.57" fill="#7a2d7d"/>
<rect x="438.35" width="4.99" height="16.57" fill="#e98265"/>
<rect x="443.05" width="4.99" height="16.57" fill="#e98265"/>
<rect x="447.74" width="4.99" height="16.57" fill="#e98265"/>
<rect x="452.43" width="4.99" height="16.57" fill="#67257d"/>
<rect x="457.12" width="4.99" height="16.57" fill="#411473"/>
<rect x="461.82" width="4.99" height="16.57" fill="#8d367c"/>
<rect x="466.51" width="4.99" height="16.57" fill="#8d367c"/>
<rect x="471.2" width="4.99" height="16.57" fill="#e67863"/>
<rect x="475.89" width="4.99" height="16.57" fill="#541c7a"/>
<rect x="480.58" width="4.99" height="16.57" fill="#2e1263"/>
<rect x="485.28" width="4.99" height="16.57" fill="#d35a67"/>
<rect x="489.97" width="4.99" height="16.57" fill="#d35a67"/>
<rect x="494.66" width="4.99" height="16.57" fill="#c6506d"/>
<rect x="499.35" width="4.99" height="16.57" fill="#541c7a"/>
<rect x="504.05" width="4.99" height="16.57" fill="#67257d"/>
<rect x="508.74" width="4.99" height="16.57" fill="#541c7a"/>
<rect x="513.43" width="4.99" height="16.57" fill="#67257d"/>
<rect x="518.12" width="4.99" height="16.57" fill="#67257d"/>
<rect x="522.82" width="4.99" height="16.57" fill="#d35a67"/>
<rect x="527.51" width="4.99" height="16.57" fill="#541c7a"/>
<rect x="532.2" width="4.99" height="16.57" fill="#67257d"/>
<rect x="536.89" width="4.99" height="16.57" fill="#b34574"/>
<rect x="541.58" width="4.99" height="16.57" fill="#8d367c"/>
<rect x="546.28" width="4.99" height="16.57" fill="#ef9970"/>
<rect x="550.97" width="4.99" height="16.57" fill="#e98265"/>
<rect x="555.66" width="4.99" height="16.57" fill="#ef9970"/>
<rect x="560.35" width="4.99" height="16.57" fill="#e67863"/>
<rect x="565.05" width="4.99" height="16.57" fill="#b34574"/>
<rect x="569.74" width="4.99" height="16.57" fill="#d35a67"/>
<rect x="574.43" width="4.99" height="16.57" fill="#b34574"/>
<rect x="579.12" width="4.99" height="16.57" fill="#de6763"/>
<rect x="583.82" width="4.99" height="16.57" fill="#b34574"/>
<rect x="588.51" width="4.99" height="16.57" fill="#8d367c"/>
</g>
<g transform="translate(0 333.82)">
<rect x="410.2" width="4.99" height="16.57" fill="#de6763"/>
<rect x="414.89" width="4.99" height="16.57" fill="#e67863"/>
<rect x="419.58" width="4.99" height="16.57" fill="#de6763"/>
<rect x="424.28" width="4.99" height="16.57" fill="#de6763"/>
<rect x="428.97" width="4.99" height="16.57" fill="#9f3d79"/>
<rect x="433.66" width="4.99" height="16.57" fill="#ef9970"/>
<rect x="438.35" width="4.99" height="16.57" fill="#9f3d79"/>
<rect x="443.05" width="4.99" height="16.57" fill="#411473"/>
<rect x="447.74" width="4.99" height="16.57" fill="#1c1246"/>
<rect x="452.43" width="4.99" height="16.57" fill="#9f3d79"/>
<rect x="457.12" width="4.99" height="16.57" fill="#7a2d7d"/>
<rect x="461.82" width="4.99" height="16.57" fill="#8d367c"/>
<rect x="466.51" width="4.99" height="16.57" fill="#2e1263"/>
<rect x="471.2" width="4.99" height="16.57" fill="#541c7a"/>
<rect x="475.89" width="4.99" height="16.57" fill="#de6763"/>
<rect x="480.58" width="4.99" height="16.57" fill="#67257d"/>
<rect x="485.28" width="4.99" height="16.57" fill="#ef9970"/>
<rect x="489.97" width="4.99" height="16.57" fill="#8d367c"/>
<rect x="494.66" width="4.99" height="16.57" fill="#67257d"/>
<rect x="499.35" width="4.99" height="16.57" fill="#c6506d"/>
<rect x="504.05" width="4.99" height="16.57" fill="#b34574"/>
<rect x="508.74" width="4.99" height="16.57" fill="#b34574"/>
<rect x="513.43" width="4.99" height="16.57" fill="#e98265"/>
<rect x="518.12" width="4.99" height="16.57" fill="#e67863"/>
<rect x="522.82" width="4.99" height="16.57" fill="#7a2d7d"/>
<rect x="527.51" width="4.99" height="16.57" fill="#de6763"/>
<rect x="532.2" width="4.99" height="16.57" fill="#c6506d"/>
<rect x="536.89" width="4.99" height="16.57" fill="#d35a67"/>
<rect x="541.58" width="4.99" height="16.57" fill="#e98265"/>
<rect x="546.28" width="4.99" height="16.57" fill="#e98265"/>
<rect x="550.97" width="4.99" height="16.57" fill="#67257d"/>
<rect x="555.66" width="4.99" height="16.57" fill="#67257d"/>
<rect x="560.35" width="4.99" height="16.57" fill="#67257d"/>
<rect x="565.05" width="4.99" height="16.57" fill="#9f3d79"/>
<rect x="569.74" width="4.99" height="16.57" fill="#541c7a"/>
<rect x="574.43" width="4.99" height="16.57" fill="#8d367c"/>
<rect x="579.12" width="4.99" height="16.57" fill="#9f3d79"/>
<rect x="583.82" width="4.99" height="16.57" fill="#67257d"/>
<rect x="588.51" width="4.99" height="16.57" fill="#c6506d"/>
</g>
<g transform="translate(0 350.1)">
<rect x="410.2" width="4.99" height="16.57" fill="#67257d"/>
<rect x="414.89" width="4.99" height="16.57" fill="#541c7a"/>
<rect x="419.58" width="4.99" height="16.57" fill="#8d367c"/>
<rect x="424.28" width="4.99" height="16.57" fill="#9f3d79"/>
<rect x="428.97" width="4.99" height="16.57" fill="#b34574"/>
<rect x="433.66" width="4.99" height="16.57" fill="#67257d"/>
<rect x="438.35" width="4.99" height="16.57" fill="#de6763"/>
<rect x="443.05" width="4.99" height="16.57" fill="#ef9970"/>
<rect x="447.74" width="4.99" height="16.57" fill="#e98265"/>
<rect x="452.43" width="4.99" height="16.57" fill="#541c7a"/>
<rect x="457.12" width="4.99" height="16.57" fill="#8d367c"/>
<rect x="461.82" width="4.99" height="16.57" fill="#8d367c"/>
<rect x="466.51" width="4.99" height="16.57" fill="#e98265"/>
<rect x="471.2" width="4.99" height="16.57" fill="#de6763"/>
<rect x="475.89" width="4.99" height="16.57" fill="#e98265"/>
<rect x="480.58" width="4.99" height="16.57" fill="#67257d"/>
<rect x="485.28" width="4.99" height="16.57" fill="#411473"/>
<rect x="489.97" width="4.99" height="16.57" fill="#b34574"/>
<rect x="494.66" width="4.99" height="16.57" fill="#ef9970"/>
<rect x="499.35" width="4.99" height="16.57" fill="#7a2d7d"/>
<rect x="504.05" width="4.99" height="16.57" fill="#7a2d7d"/>
<rect x="508.74" width="4.99" height="16.57" fill="#7a2d7d"/>
<rect x="513.43" width="4.99" height="16.57" fill="#9f3d79"/>
<rect x="518.12" width="4.99" height="16.57" fill="#67257d"/>
<rect x="522.82" width="4.99" height="16.57" fill="#9f3d79"/>
<rect x="527.51" width="4.99" height="16.57" fill="#541c7a"/>
<rect x="532.2" width="4.99" height="16.57" fill="#541c7a"/>
<rect x="536.89" width="4.99" height="16.57" fill="#9f3d79"/>
<rect x="541.58" width="4.99" height="16.57" fill="#b34574"/>
<rect x="546.28" width="4.99" height="16.57" fill="#de6763"/>
<rect x="550.97" width="4.99" height="16.57" fill="#67257d"/>
<rect x="555.66" width="4.99" height="16.57" fill="#e67863"/>
<rect x="560.35" width="4.99" height="16.57" fill="#e98265"/>
<rect x="565.05" width="4.99" height="16.57" fill="#de6763"/>
<rect x="569.74" width="4.99" height="16.57" fill="#e67863"/>
<rect x="574.43" width="4.99" height="16.57" fill="#67257d"/>
<rect x="579.12" width="4.99" height="16.57" fill="#7a2d7d"/>
<rect x="583.82" width="4.99" height="16.57" fill="#e67863"/>
<rect x="588.51" width="4.99" height="16.57" fill="#411473"/>
</g>
<g transform="translate(0 366.38)">
<rect x="410.2" width="4.99" height="16.57" fill="#9f3d79"/>
<rect x="414.89" width="4.99" height="16.57" fill="#9f3d79"/>
<rect x="419.58" width="4.99" height="16.57" fill="#9f3d79"/>
<rect x="424.28" width="4.99" height="16.57" fill="#de6763"/>
<rect x="428.97" width="4.99" height="16.57" fill="#8d367c"/>
<rect x="433.66" width="4.99" height="16.57" fill="#de6763"/>
<rect x="438.35" width="4.99" height="16.57" fill="#541c7a"/>
<rect x="443.05" width="4.99" height="16.57" fill="#8d367c"/>
<rect x="447.74" width="4.99" height="16.57" fill="#2e1263"/>
<rect x="452.43" width="4.99" height="16.57" fill="#ef9970"/>
<rect x="457.12" width="4.99" height="16.57" fill="#7a2d7d"/>
<rect x="461.82" width="4.99" height="16.57" fill="#ef9970"/>
<rect x="466.51" width="4.99" height="16.57" fill="#411473"/>
<rect x="471.2" width="4.99" height="16.57" fill="#8d367c"/>
<rect x="475.89" width="4.99" height="16.57" fill="#67257d"/>
<rect x="480.58" width="4.99" height="16.57" fill="#7a2d7d"/>
<rect x="485.28" width="4.99" height="16.57" fill="#8d367c"/>
<rect x="489.97" width="4.99" height="16.57" fill="#411473"/>
<rect x="494.66" width="4.99" height="16.57" fill="#67257d"/>
<rect x="499.35" width="4.99" height="16.57" fill="#c6506d"/>
<rect x="504.05" width="4.99" height="16.57" fill="#d35a67"/>
<rect x="508.74" width="4.99" height="16.57" fill="#67257d"/>
<rect x="513.43" width="4.99" height="16.57" fill="#e98265"/>
<rect x="518.12" width="4.99" height="16.57" fill="#8d367c"/>
<rect x="522.82" width="4.99" height="16.57" fill="#411473"/>
<rect x="527.51" width="4.99" height="16.57" fill="#b34574"/>
<rect x="532.2" width="4.99" height="16.57" fill="#b34574"/>
<rect x="536.89" width="4.99" height="16.57" fill="#e67863"/>
<rect x="541.58" width="4.99" height="16.57" fill="#de6763"/>
<rect x="546.28" width="4.99" height="16.57" fill="#9f3d79"/>
<rect x="550.97" width="4.99" height="16.57" fill="#411473"/>
<rect x="555.66" width="4.99" height="16.57" fill="#9f3d79"/>
<rect x="560.35" width="4.99" height="16.57" fill="#411473"/>
<rect x="565.05" width="4.99" height="16.57" fill="#de6763"/>
<rect x="569.74" width="4.99" height="16.57" fill="#c6506d"/>
<rect x="574.43" width="4.99" height="16.57" fill="#de6763"/>
<rect x="579.12" width="4.99" height="16.57" fill="#de6763"/>
<rect x="583.82" width="4.99" height="16.57" fill="#b34574"/>
<rect x="588.51" width="4.99" height="16.57" fill="#f6cc95"/>
</g>
<g transform="translate(0 382.65)">
<rect x="410.2" width="4.99" height="16.57" fill="#e98265"/>
<rect x="414.89" width="4.99" height="16.57" fill="#de6763"/>
<rect x="419.58" width="4.99" height="16.57" fill="#7a2d7d"/>
<rect x="424.28" width="4.99" height="16.57" fill="#d35a67"/>
<rect x="428.97" width="4.99" height="16.57" fill="#de6763"/>
<rect x="433.66" width="4.99" height="16.57" fill="#67257d"/>
<rect x="438.35" width="4.99" height="16.57" fill="#b34574"/>
<rect x="443.05" width="4.99" height="16.57" fill="#7a2d7d"/>
<rect x="447.74" width="4.99" height="16.57" fill="#d35a67"/>
<rect x="452.43" width="4.99" height="16.57" fill="#b34574"/>
<rect x="457.12" width="4.99" height="16.57" fill="#de6763"/>
<rect x="461.82" width="4.99" height="16.57" fill="#1c1246"/>
<rect x="466.51" width="4.99" height="16.57" fill="#d35a67"/>
<rect x="471.2" width="4.99" height="16.57" fill="#e67863"/>
<rect x="475.89" width="4.99" height="16.57" fill="#8d367c"/>
<rect x="480.58" width="4.99" height="16.57" fill="#b34574"/>
<rect x="485.28" width="4.99" height="16.57" fill="#8d367c"/>
<rect x="489.97" width="4.99" height="16.57" fill="#060518"/>
<rect x="494.66" width="4.99" height="16.57" fill="#67257d"/>
<rect x="499.35" width="4.99" height="16.57" fill="#1c1246"/>
<rect x="504.05" width="4.99" height="16.57" fill="#7a2d7d"/>
<rect x="508.74" width="4.99" height="16.57" fill="#e98265"/>
<rect x="513.43" width="4.99" height="16.57" fill="#c6506d"/>
<rect x="518.12" width="4.99" height="16.57" fill="#c6506d"/>
<rect x="522.82" width="4.99" height="16.57" fill="#d35a67"/>
<rect x="527.51" width="4.99" height="16.57" fill="#7a2d7d"/>
<rect x="532.2" width="4.99" height="16.57" fill="#d35a67"/>
<rect x="536.89" width="4.99" height="16.57" fill="#9f3d79"/>
<rect x="541.58" width="4.99" height="16.57" fill="#e67863"/>
<rect x="546.28" width="4.99" height="16.57" fill="#b34574"/>
<rect x="550.97" width="4.99" height="16.57" fill="#9f3d79"/>
<rect x="555.66" width="4.99" height="16.57" fill="#67257d"/>
<rect x="560.35" width="4.99" height="16.57" fill="#c6506d"/>
<rect x="565.05" width="4.99" height="16.57" fill="#9f3d79"/>
<rect x="569.74" width="4.99" height="16.57" fill="#e98265"/>
<rect x="574.43" width="4.99" height="16.57" fill="#d35a67"/>
<rect x="579.12" width="4.99" height="16.57" fill="#67257d"/>
<rect x="583.82" width="4.99" height="16.57" fill="#e98265"/>
<rect x="588.51" width="4.99" height="16.57" fill="#2e1263"/>
</g>
<g transform="translate(0 398.92)">
<rect x="410.2" width="4.99" height="16.57" fill="#8d367c"/>
<rect x="414.89" width="4.99" height="16.57" fill="#8d367c"/>
<rect x="419.58" width="4.99" height="16.57" fill="#8d367c"/>
<rect x="424.28" width="4.99" height="16.57" fill="#b34574"/>
<rect x="428.97" width="4.99" height="16.57" fill="#8d367c"/>
<rect x="433.66" width="4.99" height="16.57" fill="#8d367c"/>
<rect x="438.35" width="4.99" height="16.57" fill="#8d367c"/>
<rect x="443.05" width="4.99" height="16.57" fill="#9f3d79"/>
<rect x="447.74" width="4.99" height="16.57" fill="#f6cc95"/>
<rect x="452.43" width="4.99" height="16.57" fill="#9f3d79"/>
<rect x="457.12" width="4.99" height="16.57" fill="#8d367c"/>
<rect x="461.82" width="4.99" height="16.57" fill="#8d367c"/>
<rect x="466.51" width="4.99" height="16.57" fill="#8d367c"/>
<rect x="471.2" width="4.99" height="16.57" fill="#8d367c"/>
<rect x="475.89" width="4.99" height="16.57" fill="#fcfdc6"/>
<rect x="480.58" width="4.99" height="16.57" fill="#8d367c"/>
<rect x="485.28" width="4.99" height="16.57" fill="#8d367c"/>
<rect x="489.97" width="4.99" height="16.57" fill="#8d367c"/>
<rect x="494.66" width="4.99" height="16.57" fill="#9f3d79"/>
<rect x="499.35" width="4.99" height="16.57" fill="#8d367c"/>
<rect x="504.05" width="4.99" height="16.57" fill="#b34574"/>
<rect x="508.74" width="4.99" height="16.57" fill="#8d367c"/>
<rect x="513.43" width="4.99" height="16.57" fill="#8d367c"/>
<rect x="518.12" width="4.99" height="16.57" fill="#b34574"/>
<rect x="522.82" width="4.99" height="16.57" fill="#9f3d79"/>
<rect x="527.51" width="4.99" height="16.57" fill="#8d367c"/>
<rect x="532.2" width="4.99" height="16.57" fill="#8d367c"/>
<rect x="536.89" width="4.99" height="16.57" fill="#8d367c"/>
<rect x="541.58" width="4.99" height="16.57" fill="#7a2d7d"/>
<rect x="546.28" width="4.99" height="16.57" fill="#8d367c"/>
<rect x="550.97" width="4.99" height="16.57" fill="#8d367c"/>
<rect x="555.66" width="4.99" height="16.57" fill="#e67863"/>
<rect x="560.35" width="4.99" height="16.57" fill="#8d367c"/>
<rect x="565.05" width="4.99" height="16.57" fill="#8d367c"/>
<rect x="569.74" width="4.99" height="16.57" fill="#b34574"/>
<rect x="574.43" width="4.99" height="16.57" fill="#8d367c"/>
<rect x="579.12" width="4.99" height="16.57" fill="#8d367c"/>
<rect x="583.82" width="4.99" height="16.57" fill="#9f3d79"/>
<rect x="588.51" width="4.99" height="16.57" fill="#8d367c"/>
</g>
<g transform="translate(0 415.2)">
<rect x="410.2" width="4.99" height="16.57" fill="#8d367c"/>
<rect x="414.89" width="4.99" height="16.57" fill="#9f3d79"/>
<rect x="419.58" width="4.99" height="16.57" fill="#7a2d7d"/>
<rect x="424.28" width="4.99" height="16.57" fill="#9f3d79"/>
<rect x="428.97" width="4.99" height="16.57" fill="#e98265"/>
<rect x="433.66" width="4.99" height="16.57" fill="#7a2d7d"/>
<rect x="438.35" width="4.99" height="16.57" fill="#8d367c"/>
<rect x="443.05" width="4.99" height="16.57" fill="#9f3d79"/>
<rect x="447.74" width="4.99" height="16.57" fill="#9f3d79"/>
<rect x="452.43" width="4.99" height="16.57" fill="#7a2d7d"/>
<rect x="457.12" width="4.99" height="16.57" fill="#b34574"/>
<rect x="461.82" width="4.99" height="16.57" fill="#67257d"/>
<rect x="466.51" width="4.99" height="16.57" fill="#8d367c"/>
<rect x="471.2" width="4.99" height="16.57" fill="#d35a67"/>
<rect x="475.89" width="4.99" height="16.57" fill="#d35a67"/>
<rect x="480.58" width="4.99" height="16.57" fill="#c6506d"/>
<rect x="485.28" width="4.99" height="16.57" fill="#fcfdc6"/>
<rect x="489.97" width="4.99" height="16.57" fill="#8d367c"/>
<rect x="494.66" width="4.99" height="16.57" fill="#8d367c"/>
<rect x="499.35" width="4.99" height="16.57" fill="#8d367c"/>
<rect x="504.05" width="4.99" height="16.57" fill="#7a2d7d"/>
<rect x="508.74" width="4.99" height="16.57" fill="#7a2d7d"/>
<rect x="513.43" width="4.99" height="16.57" fill="#7a2d7d"/>
<rect x="518.12" width="4.99" height="16.57" fill="#7a2d7d"/>
<rect x="522.82" width="4.99" height="16.57" fill="#9f3d79"/>
<rect x="527.51" width="4.99" height="16.57" fill="#8d367c"/>
<rect x="532.2" width="4.99" height="16.57" fill="#9f3d79"/>
<rect x="536.89" width="4.99" height="16.57" fill="#67257d"/>
<rect x="541.58" width="4.99" height="16.57" fill="#67257d"/>
<rect x="546.28" width="4.99" height="16.57" fill="#9f3d79"/>
<rect x="550.97" width="4.99" height="16.57" fill="#e67863"/>
<rect x="555.66" width="4.99" height="16.57" fill="#b34574"/>
<rect x="560.35" width="4.99" height="16.57" fill="#fcfdc6"/>
<rect x="565.05" width="4.99" height="16.57" fill="#67257d"/>
<rect x="569.74" width="4.99" height="16.57" fill="#9f3d79"/>
<rect x="574.43" width="4.99" height="16.57" fill="#8d367c"/>
<rect x="579.12" width="4.99" height="16.57" fill="#8d367c"/>
<rect x="583.82" width="4.99" height="16.57" fill="#7a2d7d"/>
<rect x="588.51" width="4.99" height="16.57" fill="#7a2d7d"/>
</g>
<g transform="translate(0 431.48)">
<rect x="410.2" width="4.99" height="16.57" fill="#9f3d79"/>
<rect x="414.89" width="4.99" height="16.57" fill="#541c7a"/>
<rect x="419.58" width="4.99" height="16.57" fill="#de6763"/>
<rect x="428.97" width="4.99" height="16.57" fill="#d35a67"/>
<rect x="438.35" width="4.99" height="16.57" fill="#ef9970"/>
<rect x="443.05" width="4.99" height="16.57" fill="#ef9970"/>
<rect x="447.74" width="4.99" height="16.57" fill="#e67863"/>
<rect x="461.82" width="4.99" height="16.57" fill="#67257d"/>
<rect x="485.28" width="4.99" height="16.57" fill="#9f3d79"/>
<rect x="489.97" width="4.99" height="16.57" fill="#541c7a"/>
<rect x="494.66" width="4.99" height="16.57" fill="#411473"/>
<rect x="499.35" width="4.99" height="16.57" fill="#541c7a"/>
<rect x="508.74" width="4.99" height="16.57" fill="#541c7a"/>
<rect x="522.82" width="4.99" height="16.57" fill="#d35a67"/>
<rect x="536.89" width="4.99" height="16.57" fill="#7a2d7d"/>
<rect x="541.58" width="4.99" height="16.57" fill="#67257d"/>
<rect x="546.28" width="4.99" height="16.57" fill="#de6763"/>
<rect x="550.97" width="4.99" height="16.57" fill="#e67863"/>
<rect x="555.66" width="4.99" height="16.57" fill="#e67863"/>
<rect x="560.35" width="4.99" height="16.57" fill="#e67863"/>
<rect x="565.05" width="4.99" height="16.57" fill="#9f3d79"/>
<rect x="574.43" width="4.99" height="16.57" fill="#9f3d79"/>
<rect x="579.12" width="4.99" height="16.57" fill="#c6506d"/>
<rect x="583.82" width="4.99" height="16.57" fill="#c6506d"/>
</g>
<g transform="translate(0 447.75)">
<rect x="410.2" width="4.99" height="16.57" fill="#8d367c"/>
<rect x="414.89" width="4.99" height="16.57" fill="#f6cc95"/>
<rect x="419.58" width="4.99" height="16.57" fill="#67257d"/>
<rect x="424.28" width="4.99" height="16.57" fill="#9f3d79"/>
<rect x="428.97" width="4.99" height="16.57" fill="#7a2d7d"/>
<rect x="433.66" width="4.99" height="16.57" fill="#7a2d7d"/>
<rect x="438.35" width="4.99" height="16.57" fill="#d35a67"/>
<rect x="443.05" width="4.99" height="16.57" fill="#b34574"/>
<rect x="447.74" width="4.99" height="16.57" fill="#e98265"/>
<rect x="452.43" width="4.99" height="16.57" fill="#67257d"/>
<rect x="457.12" width="4.99" height="16.57" fill="#ef9970"/>
<rect x="461.82" width="4.99" height="16.57" fill="#b34574"/>
<rect x="466.51" width="4.99" height="16.57" fill="#d35a67"/>
<rect x="471.2" width="4.99" height="16.57" fill="#7a2d7d"/>
<rect x="475.89" width="4.99" height="16.57" fill="#7a2d7d"/>
<rect x="480.58" width="4.99" height="16.57" fill="#f6cc95"/>
<rect x="485.28" width="4.99" height="16.57" fill="#67257d"/>
<rect x="489.97" width="4.99" height="16.57" fill="#67257d"/>
<rect x="494.66" width="4.99" height="16.57" fill="#67257d"/>
<rect x="499.35" width="4.99" height="16.57" fill="#7a2d7d"/>
<rect x="504.05" width="4.99" height="16.57" fill="#67257d"/>
<rect x="508.74" width="4.99" height="16.57" fill="#67257d"/>
<rect x="513.43" width="4.99" height="16.57" fill="#7a2d7d"/>
<rect x="518.12" width="4.99" height="16.57" fill="#411473"/>
<rect x="522.82" width="4.99" height="16.57" fill="#67257d"/>
<rect x="527.51" width="4.99" height="16.57" fill="#ef9970"/>
<rect x="532.2" width="4.99" height="16.57" fill="#e98265"/>
<rect x="536.89" width="4.99" height="16.57" fill="#8d367c"/>
<rect x="541.58" width="4.99" height="16.57" fill="#d35a67"/>
<rect x="546.28" width="4.99" height="16.57" fill="#c6506d"/>
<rect x="550.97" width="4.99" height="16.57" fill="#8d367c"/>
<rect x="555.66" width="4.99" height="16.57" fill="#7a2d7d"/>
<rect x="560.35" width="4.99" height="16.57" fill="#f6cc95"/>
<rect x="565.05" width="4.99" height="16.57" fill="#8d367c"/>
<rect x="569.74" width="4.99" height="16.57" fill="#d35a67"/>
<rect x="574.43" width="4.99" height="16.57" fill="#8d367c"/>
<rect x="579.12" width="4.99" height="16.57" fill="#67257d"/>
<rect x="583.82" width="4.99" height="16.57" fill="#8d367c"/>
<rect x="588.51" width="4.99" height="16.57" fill="#8d367c"/>
</g>
<g transform="translate(0 464.02)">
<rect x="410.2" width="4.99" height="16.57" fill="#b34574"/>
<rect x="414.89" width="4.99" height="16.57" fill="#c6506d"/>
<rect x="419.58" width="4.99" height="16.57" fill="#e98265"/>
<rect x="424.28" width="4.99" height="16.57" fill="#67257d"/>
<rect x="428.97" width="4.99" height="16.57" fill="#de6763"/>
<rect x="433.66" width="4.99" height="16.57" fill="#9f3d79"/>
<rect x="438.35" width="4.99" height="16.57" fill="#67257d"/>
<rect x="443.05" width="4.99" height="16.57" fill="#ef9970"/>
<rect x="447.74" width="4.99" height="16.57" fill="#de6763"/>
<rect x="452.43" width="4.99" height="16.57" fill="#e67863"/>
<rect x="457.12" width="4.99" height="16.57" fill="#fcfdc6"/>
<rect x="461.82" width="4.99" height="16.57" fill="#b34574"/>
<rect x="466.51" width="4.99" height="16.57" fill="#7a2d7d"/>
<rect x="471.2" width="4.99" height="16.57" fill="#d35a67"/>
<rect x="475.89" width="4.99" height="16.57" fill="#7a2d7d"/>
<rect x="480.58" width="4.99" height="16.57" fill="#411473"/>
<rect x="485.28" width="4.99" height="16.57" fill="#8d367c"/>
<rect x="489.97" width="4.99" height="16.57" fill="#411473"/>
<rect x="494.66" width="4.99" height="16.57" fill="#7a2d7d"/>
<rect x="499.35" width="4.99" height="16.57" fill="#b34574"/>
<rect x="504.05" width="4.99" height="16.57" fill="#8d367c"/>
<rect x="508.74" width="4.99" height="16.57" fill="#67257d"/>
<rect x="513.43" width="4.99" height="16.57" fill="#d35a67"/>
<rect x="518.12" width="4.99" height="16.57" fill="#9f3d79"/>
<rect x="522.82" width="4.99" height="16.57" fill="#8d367c"/>
<rect x="527.51" width="4.99" height="16.57" fill="#b34574"/>
<rect x="532.2" width="4.99" height="16.57" fill="#b34574"/>
<rect x="536.89" width="4.99" height="16.57" fill="#b34574"/>
<rect x="541.58" width="4.99" height="16.57" fill="#9f3d79"/>
<rect x="546.28" width="4.99" height="16.57" fill="#2e1263"/>
<rect x="550.97" width="4.99" height="16.57" fill="#67257d"/>
<rect x="555.66" width="4.99" height="16.57" fill="#b34574"/>
<rect x="560.35" width="4.99" height="16.57" fill="#67257d"/>
<rect x="565.05" width="4.99" height="16.57" fill="#9f3d79"/>
<rect x="569.74" width="4.99" height="16.57" fill="#f2b07f"/>
<rect x="574.43" width="4.99" height="16.57" fill="#9f3d79"/>
<rect x="579.12" width="4.99" height="16.57" fill="#d35a67"/>
<rect x="583.82" width="4.99" height="16.57" fill="#7a2d7d"/>
<rect x="588.51" width="4.99" height="16.57" fill="#9f3d79"/>
</g>
</g>
<rect x="0.5" y="551.7" width="410" height="1" fill="#111"/>
<rect x="30.2" y="534.3" width="1" height="258.4" fill="#111"/>
<rect x="284.9" y="534.3" width="1" height="258.4" fill="#111"/>
<defs><linearGradient id="mg" x1="0" y1="0" x2="0" y2="1"><stop offset="0" stop-color="#fcfdc6"/><stop offset="0.05" stop-color="#f9e8b0"/><stop offset="0.1" stop-color="#f6d19a"/><stop offset="0.15" stop-color="#f4ba87"/><stop offset="0.2" stop-color="#f0a476"/><stop offset="0.25" stop-color="#ec8e6a"/><stop offset="0.3" stop-color="#e67863"/><stop offset="0.35" stop-color="#dc6464"/><stop offset="0.4" stop-color="#cd546a"/><stop offset="0.45" stop-color="#bb4972"/><stop offset="0.5" stop-color="#a94177"/><stop offset="0.55" stop-color="#95397b"/><stop offset="0.6" stop-color="#81317d"/><stop offset="0.65" stop-color="#6e287d"/><stop offset="0.7" stop-color="#5b1f7b"/><stop offset="0.75" stop-color="#4a1777"/><stop offset="0.8" stop-color="#36126b"/><stop offset="0.85" stop-color="#231252"/><stop offset="0.9" stop-color="#130e34"/><stop offset="0.95" stop-color="#060518"/><stop offset="1" stop-color="#000003"/></linearGradient></defs><rect x="525.5" y="547.7" width="22.2" height="222" fill="url(#mg)"/><rect x="547.7" y="547.1" width="5.2" height="1.2" fill="#111"/><rect x="547.7" y="584.1" width="5.2" height="1.2" fill="#111"/><rect x="547.7" y="621.1" width="5.2" height="1.2" fill="#111"/><rect x="547.7" y="658.1" width="5.2" height="1.2" fill="#111"/><rect x="547.7" y="695.1" width="5.2" height="1.2" fill="#111"/><rect x="547.7" y="732.1" width="5.2" height="1.2" fill="#111"/><rect x="547.7" y="769.1" width="5.2" height="1.2" fill="#111"/>
<g id="labels">
<text x="4.2" y="12.5" font-size="15.5" class="pl" font-weight="700" textLength="7.9" lengthAdjust="spacingAndGlyphs">a</text>
<text x="408.9" y="12.5" font-size="15.5" class="pl" font-weight="700" textLength="8.9" lengthAdjust="spacingAndGlyphs">b</text>
<text x="6.7" y="518" font-size="15.5" class="pl" font-weight="700" textLength="7" lengthAdjust="spacingAndGlyphs">c</text>
<text x="497" y="517.7" font-size="15.5" class="pl" font-weight="700" textLength="8.9" lengthAdjust="spacingAndGlyphs">d</text>
<text x="147.1" y="35.1" font-size="8.5" font-weight="700" textLength="10" lengthAdjust="spacingAndGlyphs">TR</text>
<text x="322.5" y="35.1" font-size="8.5" font-weight="700" textLength="33.5" lengthAdjust="spacingAndGlyphs">NON-TR</text>
<text x="471.1" y="35.1" font-size="8.5" font-weight="700" textLength="10" lengthAdjust="spacingAndGlyphs">TR</text>
<text x="550.8" y="35.1" font-size="8.5" font-weight="700" textLength="33.7" lengthAdjust="spacingAndGlyphs">NON-TR</text>
<text x="603.2" y="35.3" font-size="8.6" font-weight="700" textLength="79.4" lengthAdjust="spacingAndGlyphs">Radiomics Features</text>
<text x="610.8" y="51.3" font-size="9.0" textLength="9.4" lengthAdjust="spacingAndGlyphs">#1</text>
<text x="610.8" y="66.37" font-size="9.0" textLength="9.4" lengthAdjust="spacingAndGlyphs">#2</text>
<text x="610.8" y="81.44" font-size="9.0" textLength="9.4" lengthAdjust="spacingAndGlyphs">#3</text>
<text x="610.8" y="96.51" font-size="9.0" textLength="9.4" lengthAdjust="spacingAndGlyphs">#4</text>
<text x="610.8" y="111.58" font-size="9.0" textLength="9.4" lengthAdjust="spacingAndGlyphs">#5</text>
<text x="610.8" y="126.65" font-size="9.0" textLength="9.4" lengthAdjust="spacingAndGlyphs">#6</text>
<text x="610.8" y="141.72" font-size="9.0" textLength="9.4" lengthAdjust="spacingAndGlyphs">#7</text>
<text x="610.8" y="156.79" font-size="9.0" textLength="9.4" lengthAdjust="spacingAndGlyphs">#8</text>
<text x="610.8" y="171.86" font-size="9.0" textLength="9.4" lengthAdjust="spacingAndGlyphs">#9</text>
<text x="610.8" y="186.93" font-size="9.0" textLength="15.3" lengthAdjust="spacingAndGlyphs">#10</text>
<text x="610.8" y="202" font-size="9.0" textLength="15.3" lengthAdjust="spacingAndGlyphs">#11</text>
<text x="610.8" y="217.07" font-size="9.0" textLength="15.3" lengthAdjust="spacingAndGlyphs">#12</text>
<text x="610.8" y="232.14" font-size="9.0" textLength="15.3" lengthAdjust="spacingAndGlyphs">#13</text>
<text x="610.8" y="247.21" font-size="9.0" textLength="15.3" lengthAdjust="spacingAndGlyphs">#14</text>
<text x="610.8" y="262.28" font-size="9.0" textLength="15.3" lengthAdjust="spacingAndGlyphs">#15</text>
<text x="603.2" y="277.8" font-size="8.6" font-weight="700" textLength="67.7" lengthAdjust="spacingAndGlyphs">Clinical Features</text>
<text x="610.8" y="293.3" font-size="9.0" textLength="16.4" lengthAdjust="spacingAndGlyphs">BMI</text>
<text x="610.8" y="309.6" font-size="9.0" textLength="16.4" lengthAdjust="spacingAndGlyphs">LDH</text>
<text x="610.8" y="325.9" font-size="9.0" textLength="33.6" lengthAdjust="spacingAndGlyphs">Albumin</text>
<text x="610.8" y="342.2" font-size="9.0" textLength="52.3" lengthAdjust="spacingAndGlyphs">Total Protein</text>
<text x="610.8" y="358.5" font-size="9.0" textLength="49.2" lengthAdjust="spacingAndGlyphs">Hemoglobin</text>
<text x="610.8" y="374.8" font-size="9.0" textLength="15.4" lengthAdjust="spacingAndGlyphs">Age</text>
<text x="610.8" y="391.1" font-size="9.0" textLength="43" lengthAdjust="spacingAndGlyphs">SFLC-Ratio</text>
<text x="610.8" y="407.4" font-size="9.0" textLength="12.4" lengthAdjust="spacingAndGlyphs">PCI</text>
<text x="610.8" y="423.7" font-size="9.0" textLength="69.7" lengthAdjust="spacingAndGlyphs">β2-Microglobulin</text>
<text x="610.8" y="440" font-size="9.0" textLength="41.1" lengthAdjust="spacingAndGlyphs">M-Protein</text>
<text x="610.8" y="456.3" font-size="9.0" textLength="34.3" lengthAdjust="spacingAndGlyphs">Creatine</text>
<text x="610.8" y="472.6" font-size="9.0" textLength="32" lengthAdjust="spacingAndGlyphs">Calcium</text>
<text x="10.9" y="545" font-size="8.8" font-weight="700" textLength="4.9" lengthAdjust="spacingAndGlyphs">#</text>
<text x="47.3" y="545" font-size="8.8" font-weight="700" textLength="80" lengthAdjust="spacingAndGlyphs">Radiomics Features</text>
<text x="301.5" y="545" font-size="8.8" font-weight="700" textLength="101.6" lengthAdjust="spacingAndGlyphs">Gini Feature Importance</text>
<text x="10.7" y="575.9" font-size="9.3" textLength="9.8" lengthAdjust="spacingAndGlyphs">#1</text>
<text x="47.4" y="575.9" font-size="9.3" textLength="137.8" lengthAdjust="spacingAndGlyphs">COBF: Std.Dev. Inverse Difference</text>
<text x="301.5" y="575.9" font-size="9.3" textLength="27.5" lengthAdjust="spacingAndGlyphs">0.0191</text>
<text x="10.7" y="590.8" font-size="9.3" textLength="9.8" lengthAdjust="spacingAndGlyphs">#2</text>
<text x="47.4" y="590.8" font-size="9.3" textLength="147.1" lengthAdjust="spacingAndGlyphs">FON: Covered image intensity range</text>
<text x="301.5" y="590.8" font-size="9.3" textLength="27.5" lengthAdjust="spacingAndGlyphs">0.0147</text>
<text x="10.7" y="604.6" font-size="9.3" textLength="9.8" lengthAdjust="spacingAndGlyphs">#3</text>
<text x="47.4" y="604.6" font-size="9.3" textLength="229.7" lengthAdjust="spacingAndGlyphs">COBF: Std.Dev. First Measure of Information Correlation</text>
<text x="301.5" y="604.6" font-size="9.3" textLength="27.5" lengthAdjust="spacingAndGlyphs">0.0137</text>
<text x="10.7" y="620.9" font-size="9.3" textLength="9.8" lengthAdjust="spacingAndGlyphs">#4</text>
<text x="47.4" y="620.9" font-size="9.3" textLength="87" lengthAdjust="spacingAndGlyphs">FOH: Minimum Value</text>
<text x="301.5" y="620.9" font-size="9.3" textLength="27.5" lengthAdjust="spacingAndGlyphs">0.0136</text>
<text x="10.7" y="636" font-size="9.3" textLength="9.8" lengthAdjust="spacingAndGlyphs">#5</text>
<text x="47.4" y="636" font-size="9.3" textLength="175.5" lengthAdjust="spacingAndGlyphs">COBF: Std.Dev. Inverse Difference Moment</text>
<text x="301.5" y="636" font-size="9.3" textLength="27.5" lengthAdjust="spacingAndGlyphs">0.0135</text>
<text x="10.7" y="651.2" font-size="9.3" textLength="9.8" lengthAdjust="spacingAndGlyphs">#6</text>
<text x="47.4" y="651.2" font-size="9.3" textLength="61.6" lengthAdjust="spacingAndGlyphs">FON: Minimum</text>
<text x="301.5" y="651.2" font-size="9.3" textLength="27.5" lengthAdjust="spacingAndGlyphs">0.0121</text>
<text x="10.7" y="666.1" font-size="9.3" textLength="9.8" lengthAdjust="spacingAndGlyphs">#7</text>
<text x="47.4" y="666.1" font-size="9.3" textLength="63.6" lengthAdjust="spacingAndGlyphs">FON: Maximum</text>
<text x="301.5" y="666.1" font-size="9.3" textLength="27.5" lengthAdjust="spacingAndGlyphs">0.0105</text>
<text x="10.7" y="681.2" font-size="9.3" textLength="9.8" lengthAdjust="spacingAndGlyphs">#8</text>
<text x="47.4" y="681.2" font-size="9.3" textLength="47.3" lengthAdjust="spacingAndGlyphs">FON: Range</text>
<text x="301.5" y="681.2" font-size="9.3" textLength="27.5" lengthAdjust="spacingAndGlyphs">0.0104</text>
<text x="10.7" y="696.4" font-size="9.3" textLength="9.8" lengthAdjust="spacingAndGlyphs">#9</text>
<text x="47.4" y="696.4" font-size="9.3" textLength="128.8" lengthAdjust="spacingAndGlyphs">FOH: Interquantile Range Value</text>
<text x="301.5" y="696.4" font-size="9.3" textLength="27.5" lengthAdjust="spacingAndGlyphs">0.0100</text>
<text x="10.7" y="711.4" font-size="9.3" textLength="15.6" lengthAdjust="spacingAndGlyphs">#10</text>
<text x="47.4" y="711.4" font-size="9.3" textLength="88.9" lengthAdjust="spacingAndGlyphs">FOH: Maximum Value</text>
<text x="301.5" y="711.4" font-size="9.3" textLength="27.5" lengthAdjust="spacingAndGlyphs">0.0099</text>
<text x="10.7" y="726.5" font-size="9.3" textLength="15.6" lengthAdjust="spacingAndGlyphs">#11</text>
<text x="47.4" y="726.5" font-size="9.3" textLength="101.8" lengthAdjust="spacingAndGlyphs">FOH: Percentile 90 Value</text>
<text x="301.5" y="726.5" font-size="9.3" textLength="27.5" lengthAdjust="spacingAndGlyphs">0.0099</text>
<text x="10.7" y="741.7" font-size="9.3" textLength="15.6" lengthAdjust="spacingAndGlyphs">#12</text>
<text x="47.4" y="741.7" font-size="9.3" textLength="117.7" lengthAdjust="spacingAndGlyphs">COBF: Std.Dev. Joint Entropy</text>
<text x="301.5" y="741.7" font-size="9.3" textLength="27.5" lengthAdjust="spacingAndGlyphs">0.0096</text>
<text x="10.7" y="757" font-size="9.3" textLength="15.6" lengthAdjust="spacingAndGlyphs">#13</text>
<text x="47.4" y="757" font-size="9.3" textLength="73" lengthAdjust="spacingAndGlyphs">FOH: Range Value</text>
<text x="301.5" y="757" font-size="9.3" textLength="27.5" lengthAdjust="spacingAndGlyphs">0.0093</text>
<text x="10.7" y="771.9" font-size="9.3" textLength="15.6" lengthAdjust="spacingAndGlyphs">#14</text>
<text x="47.4" y="771.9" font-size="9.3" textLength="219.5" lengthAdjust="spacingAndGlyphs">COBF: Mean First Measure of Information Correlation</text>
<text x="301.5" y="771.9" font-size="9.3" textLength="27.5" lengthAdjust="spacingAndGlyphs">0.0092</text>
<text x="10.7" y="787.1" font-size="9.3" textLength="15.6" lengthAdjust="spacingAndGlyphs">#15</text>
<text x="47.4" y="787.1" font-size="9.3" textLength="158.2" lengthAdjust="spacingAndGlyphs">FON: Quantile coefficient of dispersion</text>
<text x="301.5" y="787.1" font-size="9.3" textLength="27.5" lengthAdjust="spacingAndGlyphs">0.0090</text>
<text x="567.6" y="551.1" font-size="9.3" textLength="4.6" lengthAdjust="spacingAndGlyphs">3</text>
<text x="567.6" y="588.1" font-size="9.3" textLength="4.6" lengthAdjust="spacingAndGlyphs">2</text>
<text x="567.6" y="625.1" font-size="9.3" textLength="4.6" lengthAdjust="spacingAndGlyphs">1</text>
<text x="567.6" y="662.1" font-size="9.3" textLength="4.6" lengthAdjust="spacingAndGlyphs">0</text>
<text x="567.6" y="699.1" font-size="9.3" textLength="7.8" lengthAdjust="spacingAndGlyphs">-1</text>
<text x="567.6" y="736.1" font-size="9.3" textLength="7.8" lengthAdjust="spacingAndGlyphs">-2</text>
<text x="567.6" y="773.1" font-size="9.3" textLength="7.8" lengthAdjust="spacingAndGlyphs">-3</text>
</g>
</svg>
</body></html>
